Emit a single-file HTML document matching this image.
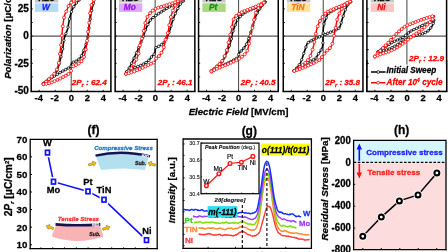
<!DOCTYPE html><html><head><meta charset="utf-8"><title>Figure</title><style>html,body{margin:0;padding:0;background:#fff;overflow:hidden}svg{display:block;filter:blur(0.3px)}</style></head><body><svg width="448" height="252" viewBox="0 0 448 252" font-family="'Liberation Sans', Arial, sans-serif"><defs><clipPath id="clip0"><rect x="31.2" y="-5" width="79.7" height="96.4"/></clipPath><clipPath id="clip1"><rect x="115.15" y="-5" width="79.7" height="96.4"/></clipPath><clipPath id="clip2"><rect x="198.55" y="-5" width="79.7" height="96.4"/></clipPath><clipPath id="clip3"><rect x="283.25" y="-5" width="79.7" height="96.4"/></clipPath><clipPath id="clip4"><rect x="366.9" y="-5" width="79.7" height="96.4"/></clipPath></defs><rect width="448" height="252" fill="#fff"/><g clip-path="url(#clip0)"><line x1="31.2" y1="36.1" x2="110.9" y2="36.1" stroke="#555" stroke-width="1.1" /><line x1="71.2" y1="-2" x2="71.2" y2="91.4" stroke="#555" stroke-width="1.1" /><path d="M43.52,83.43 L43.66,83.34 L43.8,83.25 L43.94,83.17 L44.07,83.08 L44.21,82.99 L44.35,82.9 L44.49,82.81 L44.63,82.72 L44.77,82.63 L44.91,82.53 L45.05,82.44 L45.18,82.34 L45.32,82.25 L45.46,82.15 L45.6,82.06 L45.74,81.96 L45.88,81.86 L46.02,81.76 L46.16,81.66 L46.29,81.56 L46.43,81.46 L46.57,81.36 L46.71,81.26 L46.85,81.16 L46.99,81.06 L47.13,80.95 L47.27,80.85 L47.4,80.74 L47.54,80.64 L47.68,80.53 L47.82,80.42 L47.96,80.32 L48.1,80.21 L48.24,80.1 L48.38,79.99 L48.51,79.88 L48.65,79.77 L48.79,79.66 L48.93,79.55 L49.07,79.44 L49.21,79.33 L49.35,79.22 L49.49,79.1 L49.62,78.99 L49.76,78.88 L49.9,78.77 L50.04,78.66 L50.18,78.55 L50.32,78.44 L50.46,78.33 L50.6,78.22 L50.73,78.11 L50.87,78 L51.01,77.89 L51.15,77.78 L51.29,77.67 L51.43,77.56 L51.57,77.45 L51.71,77.33 L51.84,77.22 L51.98,77.1 L52.12,76.98 L52.26,76.86 L52.4,76.74 L52.54,76.62 L52.68,76.49 L52.82,76.36 L52.95,76.23 L53.09,76.1 L53.23,75.96 L53.37,75.82 L53.51,75.68 L53.65,75.53 L53.79,75.38 L53.93,75.23 L54.06,75.08 L54.2,74.92 L54.34,74.75 L54.48,74.58 L54.62,74.41 L54.76,74.23 L54.9,74.05 L55.04,73.86 L55.17,73.66 L55.31,73.44 L55.45,73.22 L55.59,72.99 L55.73,72.75 L55.87,72.51 L56.01,72.25 L56.15,71.98 L56.28,71.71 L56.42,71.43 L56.56,71.14 L56.7,70.84 L56.84,70.54 L56.98,70.23 L57.12,69.91 L57.26,69.58 L57.39,69.25 L57.53,68.91 L57.67,68.56 L57.81,68.18 L57.95,67.78 L58.09,67.36 L58.23,66.92 L58.37,66.46 L58.5,65.98 L58.64,65.5 L58.78,65 L58.92,64.5 L59.06,64 L59.2,63.49 L59.34,62.98 L59.48,62.48 L59.61,61.98 L59.75,61.48 L59.89,60.97 L60.03,60.45 L60.17,59.93 L60.31,59.4 L60.45,58.86 L60.59,58.31 L60.72,57.74 L60.86,57.17 L61,56.58 L61.14,55.99 L61.28,55.4 L61.42,54.8 L61.56,54.19 L61.7,53.57 L61.83,52.94 L61.97,52.3 L62.11,51.64 L62.25,50.96 L62.39,50.27 L62.53,49.55 L62.67,48.81 L62.81,48.05 L62.94,47.25 L63.08,46.33 L63.22,45.32 L63.36,44.25 L63.5,43.16 L63.64,42.08 L63.78,41.06 L63.92,40.13 L64.05,39.32 L64.19,38.68 L64.33,38.12 L64.47,37.6 L64.61,37.12 L64.75,36.67 L64.89,36.24 L65.03,35.84 L65.16,35.46 L65.3,35.09 L65.44,34.74 L65.58,34.39 L65.72,34.05 L65.86,33.7 L66,33.36 L66.14,33 L66.27,32.64 L66.41,32.26 L66.55,31.88 L66.69,31.53 L66.83,31.2 L66.97,30.86 L67.11,30.51 L67.25,30.14 L67.38,29.74 L67.52,29.3 L67.66,28.79 L67.8,28.19 L67.94,27.51 L68.08,26.76 L68.22,25.96 L68.36,25.14 L68.49,24.31 L68.63,23.5 L68.77,22.73 L68.91,22.02 L69.05,21.32 L69.19,20.62 L69.33,19.93 L69.47,19.23 L69.6,18.55 L69.74,17.89 L69.88,17.24 L70.02,16.63 L70.16,16.04 L70.3,15.48 L70.44,14.97 L70.58,14.47 L70.71,13.99 L70.85,13.52 L70.99,13.07 L71.13,12.63 L71.27,12.2 L71.41,11.79 L71.55,11.39 L71.69,11.01 L71.82,10.64 L71.96,10.29 L72.1,9.95 L72.24,9.62 L72.38,9.31 L72.52,9.01 L72.66,8.72 L72.8,8.44 L72.93,8.17 L73.07,7.9 L73.21,7.64 L73.35,7.39 L73.49,7.15 L73.63,6.91 L73.77,6.68 L73.91,6.45 L74.04,6.23 L74.18,6.01 L74.32,5.8 L74.46,5.59 L74.6,5.39 L74.74,5.19 L74.88,4.99 L75.02,4.79 L75.15,4.6 L75.29,4.41 L75.43,4.22 L75.57,4.03 L75.71,3.85 L75.85,3.66 L75.99,3.48 L76.13,3.31 L76.26,3.13 L76.4,2.96 L76.54,2.79 L76.68,2.62 L76.82,2.45 L76.96,2.29 L77.1,2.12 L77.24,1.96 L77.37,1.81 L77.51,1.65 L77.65,1.5 L77.79,1.35 L77.93,1.2 L78.07,1.05 L78.21,0.91 L78.35,0.77 L78.48,0.63 L78.62,0.49 L78.76,0.35 L78.9,0.22 L79.04,0.09 L79.18,-0.04 L79.32,-0.16 L79.46,-0.29 L79.59,-0.41 L79.73,-0.53 L79.87,-0.66 L80.01,-0.78 L80.15,-0.9 L80.29,-1.01 L80.43,-1.13 L80.57,-1.25 L80.7,-1.36 L80.84,-1.47 L80.98,-1.59 L81.12,-1.7 L81.26,-1.81 L81.4,-1.92 L81.54,-2.03 L81.68,-2.14 L81.81,-2.24 L81.95,-2.35 L82.09,-2.45 L82.23,-2.56 L82.37,-2.66 L82.51,-2.76 L82.65,-2.87 L82.79,-2.97 L82.92,-3.07 L83.06,-3.16 L83.2,-3.26 L83.34,-3.36 L83.48,-3.46 L83.62,-3.55 L83.76,-3.65 L83.9,-3.74 L84.03,-3.83 L84.17,-3.93 L84.31,-4.02 L84.45,-4.11 L84.59,-4.2 L84.73,-4.29 L84.87,-4.38 L85.01,-4.47 L85.14,-4.56 L85.28,-4.64 L85.42,-4.73 L85.56,-4.82 L85.7,-4.9 L85.84,-4.99 L85.98,-5.07 L86.12,-5.15 L86.25,-5.24 L86.39,-5.32 L86.53,-5.4 L86.67,-5.48 L86.81,-5.56 L86.95,-5.64 L87.09,-5.72 L87.23,-5.8 L87.36,-5.88 L87.5,-5.96 L87.64,-6.04 L87.78,-6.12 L87.92,-6.2 L88.06,-6.27 L88.2,-6.35 L88.34,-6.43 L88.47,-6.51 L88.61,-6.58 L88.75,-6.66 L88.89,-6.74 L89.03,-6.81 L89.17,-6.89 L89.31,-6.96 L89.45,-7.04 L89.58,-7.12 L89.72,-7.19 L89.86,-7.26 L90,-7.34 L90.14,-7.41 L90.28,-7.49 L90.42,-7.56 L90.56,-7.63 L90.69,-7.71 L90.83,-7.78 L90.97,-7.85 L91.11,-7.92 L91.25,-7.99 L91.39,-8.06 L91.53,-8.13 L91.67,-8.2 L91.8,-8.27 L91.94,-8.34 L92.08,-8.41 L92.22,-8.48 L92.36,-8.55 L92.5,-8.62 L92.64,-8.68 L92.78,-8.75 L92.91,-8.82 L93.05,-8.88 L93.19,-8.95 L93.33,-9.02 L93.47,-9.08 L93.61,-9.15 L93.75,-9.21 L93.89,-9.27 L94.02,-9.34 L94.16,-9.4 L94.3,-9.46 L94.44,-9.52 L94.58,-9.58 L94.72,-9.65 L94.86,-9.71 L95,-9.77 L95.13,-9.83 L95.27,-9.88 L95.41,-9.94 L95.55,-10 L95.69,-10.06 L95.83,-10.12 L95.97,-10.17 L96.11,-10.23 L96.24,-10.28 L96.38,-10.34 L96.52,-10.39 L96.66,-10.45 L96.8,-10.5 L96.94,-10.55 L97.08,-10.6 L97.22,-10.66 L97.35,-10.71 L97.49,-10.76 L97.63,-10.81 L97.77,-10.86 L97.91,-10.9 L98.05,-10.95 L98.19,-11 L98.33,-11.05 L98.46,-11.09 L98.6,-11.14 L98.74,-11.18 L98.88,-11.23" fill="none" stroke="#000" stroke-width="1.6"/><path d="M43.52,83.43 L43.66,83.32 L43.8,83.21 L43.94,83.1 L44.07,83 L44.21,82.89 L44.35,82.78 L44.49,82.68 L44.63,82.57 L44.77,82.46 L44.91,82.36 L45.05,82.25 L45.18,82.15 L45.32,82.05 L45.46,81.94 L45.6,81.84 L45.74,81.73 L45.88,81.63 L46.02,81.53 L46.16,81.43 L46.29,81.33 L46.43,81.22 L46.57,81.12 L46.71,81.02 L46.85,80.92 L46.99,80.82 L47.13,80.72 L47.27,80.62 L47.4,80.53 L47.54,80.43 L47.68,80.33 L47.82,80.23 L47.96,80.14 L48.1,80.04 L48.24,79.94 L48.38,79.85 L48.51,79.75 L48.65,79.66 L48.79,79.56 L48.93,79.47 L49.07,79.38 L49.21,79.28 L49.35,79.19 L49.49,79.1 L49.62,79.01 L49.76,78.92 L49.9,78.83 L50.04,78.74 L50.18,78.65 L50.32,78.56 L50.46,78.47 L50.6,78.38 L50.73,78.29 L50.87,78.21 L51.01,78.12 L51.15,78.03 L51.29,77.95 L51.43,77.86 L51.57,77.78 L51.71,77.69 L51.84,77.61 L51.98,77.53 L52.12,77.44 L52.26,77.36 L52.4,77.28 L52.54,77.19 L52.68,77.11 L52.82,77.03 L52.95,76.95 L53.09,76.86 L53.23,76.78 L53.37,76.7 L53.51,76.62 L53.65,76.54 L53.79,76.46 L53.93,76.37 L54.06,76.29 L54.2,76.21 L54.34,76.13 L54.48,76.05 L54.62,75.97 L54.76,75.88 L54.9,75.8 L55.04,75.72 L55.17,75.64 L55.31,75.56 L55.45,75.47 L55.59,75.39 L55.73,75.31 L55.87,75.23 L56.01,75.14 L56.15,75.06 L56.28,74.98 L56.42,74.89 L56.56,74.81 L56.7,74.72 L56.84,74.64 L56.98,74.56 L57.12,74.47 L57.26,74.39 L57.39,74.3 L57.53,74.22 L57.67,74.13 L57.81,74.05 L57.95,73.96 L58.09,73.88 L58.23,73.8 L58.37,73.71 L58.5,73.63 L58.64,73.54 L58.78,73.46 L58.92,73.37 L59.06,73.29 L59.2,73.2 L59.34,73.12 L59.48,73.04 L59.61,72.95 L59.75,72.87 L59.89,72.78 L60.03,72.7 L60.17,72.62 L60.31,72.53 L60.45,72.45 L60.59,72.37 L60.72,72.29 L60.86,72.2 L61,72.12 L61.14,72.04 L61.28,71.96 L61.42,71.87 L61.56,71.79 L61.7,71.71 L61.83,71.63 L61.97,71.55 L62.11,71.47 L62.25,71.39 L62.39,71.31 L62.53,71.23 L62.67,71.15 L62.81,71.07 L62.94,70.99 L63.08,70.91 L63.22,70.83 L63.36,70.75 L63.5,70.68 L63.64,70.6 L63.78,70.53 L63.92,70.45 L64.05,70.38 L64.19,70.3 L64.33,70.23 L64.47,70.16 L64.61,70.08 L64.75,70.01 L64.89,69.94 L65.03,69.86 L65.16,69.79 L65.3,69.72 L65.44,69.65 L65.58,69.57 L65.72,69.5 L65.86,69.43 L66,69.36 L66.14,69.28 L66.27,69.21 L66.41,69.14 L66.55,69.06 L66.69,68.99 L66.83,68.92 L66.97,68.84 L67.11,68.77 L67.25,68.69 L67.38,68.62 L67.52,68.54 L67.66,68.46 L67.8,68.39 L67.94,68.31 L68.08,68.23 L68.22,68.15 L68.36,68.07 L68.49,67.99 L68.63,67.91 L68.77,67.83 L68.91,67.74 L69.05,67.67 L69.19,67.6 L69.33,67.55 L69.47,67.5 L69.6,67.45 L69.74,67.39 L69.88,67.34 L70.02,67.28 L70.16,67.21 L70.3,67.12 L70.44,67.02 L70.58,66.91 L70.71,66.77 L70.85,66.61 L70.99,66.42 L71.13,65.79 L71.27,64.28 L71.41,63.67 L71.55,63.49 L71.69,63.32 L71.82,63.17 L71.96,63.02 L72.1,62.89 L72.24,62.77 L72.38,62.66 L72.52,62.56 L72.66,62.47 L72.8,62.38 L72.93,62.3 L73.07,62.23 L73.21,62.17 L73.35,62.11 L73.49,62.05 L73.63,62 L73.77,61.96 L73.91,61.91 L74.04,61.87 L74.18,61.83 L74.32,61.8 L74.46,61.76 L74.6,61.72 L74.74,61.69 L74.88,61.65 L75.02,61.61 L75.15,61.56 L75.29,61.52 L75.43,61.47 L75.57,61.41 L75.71,61.35 L75.85,61.29 L75.99,61.22 L76.13,61.14 L76.26,61.05 L76.4,60.96 L76.54,60.87 L76.68,60.77 L76.82,60.68 L76.96,60.59 L77.1,60.49 L77.24,60.4 L77.37,60.3 L77.51,60.2 L77.65,60.11 L77.79,60 L77.93,59.9 L78.07,59.8 L78.21,59.69 L78.35,59.58 L78.48,59.47 L78.62,59.35 L78.76,59.24 L78.9,59.12 L79.04,58.99 L79.18,58.86 L79.32,58.73 L79.46,58.59 L79.59,58.45 L79.73,58.31 L79.87,58.16 L80.01,58.01 L80.15,57.85 L80.29,57.68 L80.43,57.51 L80.57,57.32 L80.7,57.12 L80.84,56.91 L80.98,56.69 L81.12,56.45 L81.26,56.2 L81.4,55.95 L81.54,55.68 L81.68,55.4 L81.81,55.11 L81.95,54.82 L82.09,54.52 L82.23,54.21 L82.37,53.89 L82.51,53.56 L82.65,53.23 L82.79,52.89 L82.92,52.55 L83.06,52.21 L83.2,51.85 L83.34,51.5 L83.48,51.14 L83.62,50.78 L83.76,50.42 L83.9,50.06 L84.03,49.69 L84.17,49.33 L84.31,48.96 L84.45,48.6 L84.59,48.23 L84.73,47.87 L84.87,47.5 L85.01,47.13 L85.14,46.76 L85.28,46.38 L85.42,45.99 L85.56,45.6 L85.7,45.2 L85.84,44.78 L85.98,44.36 L86.12,43.92 L86.25,43.48 L86.39,43.01 L86.53,42.53 L86.67,42.03 L86.81,41.52 L86.95,40.98 L87.09,40.43 L87.23,39.85 L87.36,39.25 L87.5,38.62 L87.64,37.97 L87.78,37.21 L87.92,36.35 L88.06,35.4 L88.2,34.37 L88.34,33.28 L88.47,32.15 L88.61,30.98 L88.75,29.79 L88.89,28.6 L89.03,27.43 L89.17,26.28 L89.31,25.17 L89.45,24.13 L89.58,23.15 L89.72,22.23 L89.86,21.31 L90,20.39 L90.14,19.48 L90.28,18.58 L90.42,17.68 L90.56,16.8 L90.69,15.94 L90.83,15.09 L90.97,14.26 L91.11,13.45 L91.25,12.66 L91.39,11.9 L91.53,11.17 L91.67,10.46 L91.8,9.79 L91.94,9.15 L92.08,8.55 L92.22,7.96 L92.36,7.39 L92.5,6.83 L92.64,6.29 L92.78,5.76 L92.91,5.25 L93.05,4.75 L93.19,4.26 L93.33,3.78 L93.47,3.31 L93.61,2.85 L93.75,2.4 L93.89,1.95 L94.02,1.52 L94.16,1.09 L94.3,0.67 L94.44,0.25 L94.58,-0.16 L94.72,-0.57 L94.86,-0.98 L95,-1.38 L95.13,-1.79 L95.27,-2.19 L95.41,-2.59 L95.55,-2.99 L95.69,-3.38 L95.83,-3.77 L95.97,-4.15 L96.11,-4.53 L96.24,-4.91 L96.38,-5.28 L96.52,-5.65 L96.66,-6.02 L96.8,-6.38 L96.94,-6.74 L97.08,-7.09 L97.22,-7.44 L97.35,-7.78 L97.49,-8.12 L97.63,-8.46 L97.77,-8.79 L97.91,-9.11 L98.05,-9.43 L98.19,-9.74 L98.33,-10.05 L98.46,-10.35 L98.6,-10.65 L98.74,-10.94 L98.88,-11.23" fill="none" stroke="#000" stroke-width="1.6"/><circle cx="43.52" cy="83.43" r="1.25" fill="#fff" stroke="#000" stroke-width="0.75"/><circle cx="46.27" cy="81.58" r="1.25" fill="#fff" stroke="#000" stroke-width="0.75"/><circle cx="49.01" cy="79.49" r="1.25" fill="#fff" stroke="#000" stroke-width="0.75"/><circle cx="51.73" cy="77.31" r="1.25" fill="#fff" stroke="#000" stroke-width="0.75"/><circle cx="54.43" cy="74.65" r="1.25" fill="#fff" stroke="#000" stroke-width="0.75"/><circle cx="56.93" cy="70.33" r="1.25" fill="#fff" stroke="#000" stroke-width="0.75"/><circle cx="59.06" cy="64" r="1.25" fill="#fff" stroke="#000" stroke-width="0.75"/><circle cx="60.95" cy="56.79" r="1.25" fill="#fff" stroke="#000" stroke-width="0.75"/><circle cx="62.64" cy="48.97" r="1.25" fill="#fff" stroke="#000" stroke-width="0.75"/><circle cx="63.9" cy="40.23" r="1.25" fill="#fff" stroke="#000" stroke-width="0.75"/><circle cx="65.92" cy="33.56" r="1.25" fill="#fff" stroke="#000" stroke-width="0.75"/><circle cx="68.01" cy="27.15" r="1.25" fill="#fff" stroke="#000" stroke-width="0.75"/><circle cx="69.53" cy="18.93" r="1.25" fill="#fff" stroke="#000" stroke-width="0.75"/><circle cx="71.42" cy="11.76" r="1.25" fill="#fff" stroke="#000" stroke-width="0.75"/><circle cx="73.8" cy="6.63" r="1.25" fill="#fff" stroke="#000" stroke-width="0.75"/><circle cx="76.39" cy="2.97" r="1.25" fill="#fff" stroke="#000" stroke-width="0.75"/><circle cx="79.07" cy="0.07" r="1.25" fill="#fff" stroke="#000" stroke-width="0.75"/><circle cx="81.79" cy="-2.22" r="1.25" fill="#fff" stroke="#000" stroke-width="0.75"/><circle cx="84.53" cy="-4.16" r="1.25" fill="#fff" stroke="#000" stroke-width="0.75"/><circle cx="87.29" cy="-5.84" r="1.25" fill="#fff" stroke="#000" stroke-width="0.75"/><circle cx="90.06" cy="-7.37" r="1.25" fill="#fff" stroke="#000" stroke-width="0.75"/><circle cx="92.83" cy="-8.78" r="1.25" fill="#fff" stroke="#000" stroke-width="0.75"/><circle cx="95.61" cy="-10.02" r="1.25" fill="#fff" stroke="#000" stroke-width="0.75"/><circle cx="98.39" cy="-11.07" r="1.25" fill="#fff" stroke="#000" stroke-width="0.75"/><circle cx="43.52" cy="83.43" r="1.25" fill="#fff" stroke="#000" stroke-width="0.75"/><circle cx="46.26" cy="81.35" r="1.25" fill="#fff" stroke="#000" stroke-width="0.75"/><circle cx="49" cy="79.42" r="1.25" fill="#fff" stroke="#000" stroke-width="0.75"/><circle cx="51.76" cy="77.66" r="1.25" fill="#fff" stroke="#000" stroke-width="0.75"/><circle cx="54.52" cy="76.03" r="1.25" fill="#fff" stroke="#000" stroke-width="0.75"/><circle cx="57.28" cy="74.37" r="1.25" fill="#fff" stroke="#000" stroke-width="0.75"/><circle cx="60.04" cy="72.7" r="1.25" fill="#fff" stroke="#000" stroke-width="0.75"/><circle cx="62.8" cy="71.07" r="1.25" fill="#fff" stroke="#000" stroke-width="0.75"/><circle cx="65.56" cy="69.58" r="1.25" fill="#fff" stroke="#000" stroke-width="0.75"/><circle cx="68.33" cy="68.08" r="1.25" fill="#fff" stroke="#000" stroke-width="0.75"/><circle cx="71.05" cy="66.17" r="1.25" fill="#fff" stroke="#000" stroke-width="0.75"/><circle cx="73.34" cy="62.11" r="1.25" fill="#fff" stroke="#000" stroke-width="0.75"/><circle cx="76.12" cy="61.14" r="1.25" fill="#fff" stroke="#000" stroke-width="0.75"/><circle cx="78.87" cy="59.15" r="1.25" fill="#fff" stroke="#000" stroke-width="0.75"/><circle cx="81.49" cy="55.78" r="1.25" fill="#fff" stroke="#000" stroke-width="0.75"/><circle cx="83.8" cy="50.3" r="1.25" fill="#fff" stroke="#000" stroke-width="0.75"/><circle cx="86.01" cy="44.26" r="1.25" fill="#fff" stroke="#000" stroke-width="0.75"/><circle cx="87.83" cy="36.88" r="1.25" fill="#fff" stroke="#000" stroke-width="0.75"/><circle cx="88.97" cy="27.93" r="1.25" fill="#fff" stroke="#000" stroke-width="0.75"/><circle cx="90.19" cy="19.12" r="1.25" fill="#fff" stroke="#000" stroke-width="0.75"/><circle cx="91.62" cy="10.69" r="1.25" fill="#fff" stroke="#000" stroke-width="0.75"/><circle cx="93.46" cy="3.33" r="1.25" fill="#fff" stroke="#000" stroke-width="0.75"/><circle cx="95.58" cy="-3.07" r="1.25" fill="#fff" stroke="#000" stroke-width="0.75"/><circle cx="97.83" cy="-8.92" r="1.25" fill="#fff" stroke="#000" stroke-width="0.75"/><path d="M43.52,84.19 L43.66,84.07 L43.8,83.94 L43.94,83.82 L44.07,83.69 L44.21,83.56 L44.35,83.44 L44.49,83.31 L44.63,83.18 L44.77,83.06 L44.91,82.93 L45.05,82.8 L45.18,82.67 L45.32,82.55 L45.46,82.42 L45.6,82.29 L45.74,82.16 L45.88,82.03 L46.02,81.9 L46.16,81.77 L46.29,81.64 L46.43,81.51 L46.57,81.38 L46.71,81.25 L46.85,81.12 L46.99,80.98 L47.13,80.85 L47.27,80.72 L47.4,80.59 L47.54,80.45 L47.68,80.32 L47.82,80.19 L47.96,80.05 L48.1,79.92 L48.24,79.79 L48.38,79.65 L48.51,79.52 L48.65,79.38 L48.79,79.25 L48.93,79.11 L49.07,78.97 L49.21,78.84 L49.35,78.7 L49.49,78.57 L49.62,78.43 L49.76,78.29 L49.9,78.16 L50.04,78.03 L50.18,77.9 L50.32,77.77 L50.46,77.64 L50.6,77.52 L50.73,77.39 L50.87,77.27 L51.01,77.14 L51.15,77.01 L51.29,76.89 L51.43,76.76 L51.57,76.64 L51.71,76.51 L51.84,76.38 L51.98,76.25 L52.12,76.12 L52.26,75.99 L52.4,75.85 L52.54,75.72 L52.68,75.58 L52.82,75.44 L52.95,75.3 L53.09,75.15 L53.23,75.01 L53.37,74.86 L53.51,74.7 L53.65,74.55 L53.79,74.38 L53.93,74.22 L54.06,74.05 L54.2,73.88 L54.34,73.71 L54.48,73.52 L54.62,73.34 L54.76,73.15 L54.9,72.95 L55.04,72.75 L55.17,72.55 L55.31,72.33 L55.45,72.11 L55.59,71.89 L55.73,71.65 L55.87,71.41 L56.01,71.15 L56.15,70.89 L56.28,70.62 L56.42,70.34 L56.56,70.06 L56.7,69.76 L56.84,69.45 L56.98,69.12 L57.12,68.79 L57.26,68.45 L57.39,68.09 L57.53,67.72 L57.67,67.34 L57.81,66.94 L57.95,66.52 L58.09,66.07 L58.23,65.6 L58.37,65.09 L58.5,64.54 L58.64,63.96 L58.78,63.33 L58.92,62.65 L59.06,61.92 L59.2,61.13 L59.34,60.16 L59.48,58.91 L59.61,57.47 L59.75,55.93 L59.89,54.37 L60.03,52.89 L60.17,51.57 L60.31,50.41 L60.45,49.33 L60.59,48.31 L60.72,47.33 L60.86,46.35 L61,45.34 L61.14,44.28 L61.28,43.14 L61.42,41.89 L61.56,40.49 L61.7,38.75 L61.83,36.73 L61.97,34.61 L62.11,32.56 L62.25,30.76 L62.39,29.33 L62.53,28.06 L62.67,26.9 L62.81,25.82 L62.94,24.81 L63.08,23.84 L63.22,22.89 L63.36,21.94 L63.5,20.99 L63.64,20.06 L63.78,19.17 L63.92,18.32 L64.05,17.54 L64.19,16.83 L64.33,16.23 L64.47,15.72 L64.61,15.27 L64.75,14.84 L64.89,14.45 L65.03,14.08 L65.16,13.74 L65.3,13.42 L65.44,13.11 L65.58,12.81 L65.72,12.53 L65.86,12.24 L66,11.96 L66.14,11.68 L66.27,11.38 L66.41,11.08 L66.55,10.77 L66.69,10.44 L66.83,10.1 L66.97,9.76 L67.11,9.41 L67.25,9.06 L67.38,8.71 L67.52,8.36 L67.66,8.01 L67.8,7.67 L67.94,7.33 L68.08,7.01 L68.22,6.69 L68.36,6.38 L68.49,6.09 L68.63,5.81 L68.77,5.55 L68.91,5.31 L69.05,5.09 L69.19,4.89 L69.33,4.69 L69.47,4.51 L69.6,4.32 L69.74,4.14 L69.88,3.97 L70.02,3.8 L70.16,3.64 L70.3,3.48 L70.44,3.32 L70.58,3.17 L70.71,3.03 L70.85,2.89 L70.99,2.75 L71.13,2.62 L71.27,2.5 L71.41,2.38 L71.55,2.26 L71.69,2.16 L71.82,2.05 L71.96,1.95 L72.1,1.86 L72.24,1.77 L72.38,1.68 L72.52,1.6 L72.66,1.53 L72.8,1.45 L72.93,1.38 L73.07,1.32 L73.21,1.25 L73.35,1.19 L73.49,1.13 L73.63,1.07 L73.77,1.01 L73.91,0.96 L74.04,0.91 L74.18,0.85 L74.32,0.8 L74.46,0.75 L74.6,0.7 L74.74,0.66 L74.88,0.61 L75.02,0.56 L75.15,0.51 L75.29,0.46 L75.43,0.41 L75.57,0.37 L75.71,0.31 L75.85,0.26 L75.99,0.21 L76.13,0.16 L76.26,0.1 L76.4,0.04 L76.54,-0.01 L76.68,-0.08 L76.82,-0.14 L76.96,-0.2 L77.1,-0.27 L77.24,-0.34 L77.37,-0.41 L77.51,-0.47 L77.65,-0.54 L77.79,-0.61 L77.93,-0.68 L78.07,-0.76 L78.21,-0.83 L78.35,-0.9 L78.48,-0.97 L78.62,-1.05 L78.76,-1.12 L78.9,-1.2 L79.04,-1.27 L79.18,-1.35 L79.32,-1.43 L79.46,-1.5 L79.59,-1.58 L79.73,-1.66 L79.87,-1.74 L80.01,-1.81 L80.15,-1.89 L80.29,-1.97 L80.43,-2.05 L80.57,-2.13 L80.7,-2.21 L80.84,-2.29 L80.98,-2.37 L81.12,-2.44 L81.26,-2.52 L81.4,-2.6 L81.54,-2.68 L81.68,-2.76 L81.81,-2.84 L81.95,-2.92 L82.09,-3 L82.23,-3.07 L82.37,-3.15 L82.51,-3.23 L82.65,-3.31 L82.79,-3.38 L82.92,-3.46 L83.06,-3.54 L83.2,-3.61 L83.34,-3.69 L83.48,-3.76 L83.62,-3.84 L83.76,-3.92 L83.9,-3.99 L84.03,-4.07 L84.17,-4.14 L84.31,-4.22 L84.45,-4.29 L84.59,-4.37 L84.73,-4.45 L84.87,-4.52 L85.01,-4.6 L85.14,-4.67 L85.28,-4.75 L85.42,-4.83 L85.56,-4.9 L85.7,-4.98 L85.84,-5.05 L85.98,-5.13 L86.12,-5.2 L86.25,-5.28 L86.39,-5.36 L86.53,-5.43 L86.67,-5.51 L86.81,-5.58 L86.95,-5.66 L87.09,-5.74 L87.23,-5.81 L87.36,-5.89 L87.5,-5.96 L87.64,-6.04 L87.78,-6.12 L87.92,-6.19 L88.06,-6.27 L88.2,-6.34 L88.34,-6.42 L88.47,-6.49 L88.61,-6.57 L88.75,-6.64 L88.89,-6.72 L89.03,-6.79 L89.17,-6.87 L89.31,-6.95 L89.45,-7.02 L89.58,-7.1 L89.72,-7.17 L89.86,-7.25 L90,-7.32 L90.14,-7.39 L90.28,-7.47 L90.42,-7.54 L90.56,-7.62 L90.69,-7.69 L90.83,-7.77 L90.97,-7.84 L91.11,-7.92 L91.25,-7.99 L91.39,-8.06 L91.53,-8.14 L91.67,-8.21 L91.8,-8.29 L91.94,-8.36 L92.08,-8.43 L92.22,-8.51 L92.36,-8.58 L92.5,-8.65 L92.64,-8.73 L92.78,-8.8 L92.91,-8.88 L93.05,-8.95 L93.19,-9.02 L93.33,-9.1 L93.47,-9.17 L93.61,-9.24 L93.75,-9.32 L93.89,-9.39 L94.02,-9.46 L94.16,-9.53 L94.3,-9.61 L94.44,-9.68 L94.58,-9.75 L94.72,-9.83 L94.86,-9.9 L95,-9.97 L95.13,-10.04 L95.27,-10.12 L95.41,-10.19 L95.55,-10.26 L95.69,-10.33 L95.83,-10.41 L95.97,-10.48 L96.11,-10.55 L96.24,-10.62 L96.38,-10.7 L96.52,-10.77 L96.66,-10.84 L96.8,-10.91 L96.94,-10.99 L97.08,-11.06 L97.22,-11.13 L97.35,-11.2 L97.49,-11.27 L97.63,-11.35 L97.77,-11.42 L97.91,-11.49 L98.05,-11.56 L98.19,-11.63 L98.33,-11.7 L98.46,-11.78 L98.6,-11.85 L98.74,-11.92 L98.88,-11.99" fill="none" stroke="#ff0000" stroke-width="1.4"/><path d="M43.52,84.19 L43.66,84.18 L43.8,84.17 L43.94,84.17 L44.07,84.16 L44.21,84.14 L44.35,84.13 L44.49,84.12 L44.63,84.11 L44.77,84.09 L44.91,84.08 L45.05,84.06 L45.18,84.04 L45.32,84.02 L45.46,84.01 L45.6,83.99 L45.74,83.97 L45.88,83.94 L46.02,83.92 L46.16,83.9 L46.29,83.88 L46.43,83.85 L46.57,83.83 L46.71,83.81 L46.85,83.78 L46.99,83.75 L47.13,83.73 L47.27,83.7 L47.4,83.67 L47.54,83.64 L47.68,83.62 L47.82,83.59 L47.96,83.56 L48.1,83.53 L48.24,83.5 L48.38,83.47 L48.51,83.44 L48.65,83.41 L48.79,83.38 L48.93,83.35 L49.07,83.31 L49.21,83.28 L49.35,83.25 L49.49,83.22 L49.62,83.19 L49.76,83.15 L49.9,83.12 L50.04,83.08 L50.18,83.04 L50.32,83 L50.46,82.95 L50.6,82.91 L50.73,82.86 L50.87,82.82 L51.01,82.77 L51.15,82.72 L51.29,82.67 L51.43,82.62 L51.57,82.56 L51.71,82.51 L51.84,82.45 L51.98,82.4 L52.12,82.34 L52.26,82.28 L52.4,82.22 L52.54,82.16 L52.68,82.1 L52.82,82.04 L52.95,81.98 L53.09,81.92 L53.23,81.86 L53.37,81.79 L53.51,81.73 L53.65,81.66 L53.79,81.6 L53.93,81.53 L54.06,81.47 L54.2,81.4 L54.34,81.34 L54.48,81.27 L54.62,81.21 L54.76,81.14 L54.9,81.08 L55.04,81.01 L55.17,80.95 L55.31,80.88 L55.45,80.82 L55.59,80.75 L55.73,80.69 L55.87,80.62 L56.01,80.56 L56.15,80.5 L56.28,80.43 L56.42,80.37 L56.56,80.31 L56.7,80.24 L56.84,80.18 L56.98,80.12 L57.12,80.05 L57.26,79.99 L57.39,79.92 L57.53,79.86 L57.67,79.79 L57.81,79.72 L57.95,79.66 L58.09,79.59 L58.23,79.52 L58.37,79.46 L58.5,79.39 L58.64,79.32 L58.78,79.25 L58.92,79.18 L59.06,79.11 L59.2,79.05 L59.34,78.98 L59.48,78.91 L59.61,78.84 L59.75,78.77 L59.89,78.7 L60.03,78.62 L60.17,78.55 L60.31,78.48 L60.45,78.41 L60.59,78.34 L60.72,78.27 L60.86,78.2 L61,78.12 L61.14,78.05 L61.28,77.98 L61.42,77.9 L61.56,77.83 L61.7,77.76 L61.83,77.68 L61.97,77.61 L62.11,77.53 L62.25,77.46 L62.39,77.38 L62.53,77.31 L62.67,77.23 L62.81,77.16 L62.94,77.08 L63.08,77.01 L63.22,76.93 L63.36,76.86 L63.5,76.79 L63.64,76.72 L63.78,76.65 L63.92,76.58 L64.05,76.5 L64.19,76.44 L64.33,76.37 L64.47,76.3 L64.61,76.23 L64.75,76.16 L64.89,76.09 L65.03,76.02 L65.16,75.95 L65.3,75.88 L65.44,75.81 L65.58,75.74 L65.72,75.67 L65.86,75.59 L66,75.52 L66.14,75.45 L66.27,75.37 L66.41,75.3 L66.55,75.22 L66.69,75.14 L66.83,75.06 L66.97,74.98 L67.11,74.9 L67.25,74.82 L67.38,74.73 L67.52,74.64 L67.66,74.56 L67.8,74.47 L67.94,74.37 L68.08,74.28 L68.22,74.18 L68.36,74.08 L68.49,73.98 L68.63,73.88 L68.77,73.78 L68.91,73.67 L69.05,73.56 L69.19,73.44 L69.33,73.33 L69.47,73.21 L69.6,73.09 L69.74,72.97 L69.88,72.87 L70.02,72.76 L70.16,72.65 L70.3,72.52 L70.44,72.37 L70.58,72.19 L70.71,71.97 L70.85,71.7 L70.99,71.37 L71.13,70.51 L71.27,68.64 L71.41,67.9 L71.55,67.7 L71.69,67.51 L71.82,67.34 L71.96,67.19 L72.1,67.05 L72.24,66.93 L72.38,66.82 L72.52,66.72 L72.66,66.63 L72.8,66.56 L72.93,66.49 L73.07,66.42 L73.21,66.37 L73.35,66.32 L73.49,66.27 L73.63,66.22 L73.77,66.18 L73.91,66.13 L74.04,66.08 L74.18,66.03 L74.32,65.98 L74.46,65.92 L74.6,65.85 L74.74,65.78 L74.88,65.7 L75.02,65.61 L75.15,65.52 L75.29,65.44 L75.43,65.36 L75.57,65.27 L75.71,65.19 L75.85,65.11 L75.99,65.04 L76.13,64.96 L76.26,64.88 L76.4,64.8 L76.54,64.73 L76.68,64.65 L76.82,64.58 L76.96,64.5 L77.1,64.42 L77.24,64.35 L77.37,64.27 L77.51,64.19 L77.65,64.12 L77.79,64.04 L77.93,63.96 L78.07,63.88 L78.21,63.8 L78.35,63.71 L78.48,63.63 L78.62,63.54 L78.76,63.45 L78.9,63.37 L79.04,63.27 L79.18,63.18 L79.32,63.09 L79.46,62.99 L79.59,62.89 L79.73,62.79 L79.87,62.68 L80.01,62.57 L80.15,62.46 L80.29,62.35 L80.43,62.23 L80.57,62.11 L80.7,61.99 L80.84,61.87 L80.98,61.75 L81.12,61.62 L81.26,61.49 L81.4,61.35 L81.54,61.21 L81.68,61.06 L81.81,60.91 L81.95,60.75 L82.09,60.59 L82.23,60.41 L82.37,60.23 L82.51,60.04 L82.65,59.84 L82.79,59.63 L82.92,59.42 L83.06,59.19 L83.2,58.95 L83.34,58.68 L83.48,58.38 L83.62,58.04 L83.76,57.67 L83.9,57.27 L84.03,56.84 L84.17,56.39 L84.31,55.91 L84.45,55.41 L84.59,54.89 L84.73,54.35 L84.87,53.8 L85.01,53.23 L85.14,52.66 L85.28,52.06 L85.42,51.43 L85.56,50.76 L85.7,50.05 L85.84,49.3 L85.98,48.52 L86.12,47.7 L86.25,46.85 L86.39,45.97 L86.53,45.07 L86.67,44.14 L86.81,43.18 L86.95,42.2 L87.09,41.2 L87.23,40.1 L87.36,38.9 L87.5,37.64 L87.64,36.33 L87.78,34.99 L87.92,33.66 L88.06,32.34 L88.2,31.08 L88.34,29.88 L88.47,28.76 L88.61,27.69 L88.75,26.64 L88.89,25.58 L89.03,24.49 L89.17,23.33 L89.31,22.04 L89.45,20.58 L89.58,18.98 L89.72,17.3 L89.86,15.59 L90,13.9 L90.14,12.28 L90.28,10.79 L90.42,9.48 L90.56,8.4 L90.69,7.6 L90.83,7.03 L90.97,6.5 L91.11,6.01 L91.25,5.56 L91.39,5.13 L91.53,4.74 L91.67,4.37 L91.8,4.03 L91.94,3.71 L92.08,3.4 L92.22,3.11 L92.36,2.84 L92.5,2.57 L92.64,2.32 L92.78,2.07 L92.91,1.82 L93.05,1.57 L93.19,1.32 L93.33,1.07 L93.47,0.81 L93.61,0.53 L93.75,0.25 L93.89,-0.05 L94.02,-0.36 L94.16,-0.67 L94.3,-0.97 L94.44,-1.27 L94.58,-1.56 L94.72,-1.85 L94.86,-2.14 L95,-2.42 L95.13,-2.71 L95.27,-2.99 L95.41,-3.28 L95.55,-3.57 L95.69,-3.86 L95.83,-4.15 L95.97,-4.44 L96.11,-4.74 L96.24,-5.05 L96.38,-5.36 L96.52,-5.67 L96.66,-6 L96.8,-6.33 L96.94,-6.67 L97.08,-7.01 L97.22,-7.37 L97.35,-7.72 L97.49,-8.09 L97.63,-8.46 L97.77,-8.83 L97.91,-9.21 L98.05,-9.59 L98.19,-9.98 L98.33,-10.38 L98.46,-10.77 L98.6,-11.18 L98.74,-11.58 L98.88,-11.99" fill="none" stroke="#ff0000" stroke-width="1.4"/><circle cx="43.52" cy="84.19" r="1.5" fill="#fff" stroke="#ff0000" stroke-width="0.8"/><circle cx="46.23" cy="81.7" r="1.5" fill="#fff" stroke="#ff0000" stroke-width="0.8"/><circle cx="48.93" cy="79.11" r="1.5" fill="#fff" stroke="#ff0000" stroke-width="0.8"/><circle cx="51.63" cy="76.57" r="1.5" fill="#fff" stroke="#ff0000" stroke-width="0.8"/><circle cx="54.31" cy="73.74" r="1.5" fill="#fff" stroke="#ff0000" stroke-width="0.8"/><circle cx="56.83" cy="69.48" r="1.5" fill="#fff" stroke="#ff0000" stroke-width="0.8"/><circle cx="58.87" cy="62.88" r="1.5" fill="#fff" stroke="#ff0000" stroke-width="0.8"/><circle cx="59.94" cy="53.88" r="1.5" fill="#fff" stroke="#ff0000" stroke-width="0.8"/><circle cx="61.06" cy="44.91" r="1.5" fill="#fff" stroke="#ff0000" stroke-width="0.8"/><circle cx="61.91" cy="35.6" r="1.5" fill="#fff" stroke="#ff0000" stroke-width="0.8"/><circle cx="62.75" cy="26.27" r="1.5" fill="#fff" stroke="#ff0000" stroke-width="0.8"/><circle cx="64.04" cy="17.59" r="1.5" fill="#fff" stroke="#ff0000" stroke-width="0.8"/><circle cx="66.21" cy="11.53" r="1.5" fill="#fff" stroke="#ff0000" stroke-width="0.8"/><circle cx="68.52" cy="6.03" r="1.5" fill="#fff" stroke="#ff0000" stroke-width="0.8"/><circle cx="71.14" cy="2.62" r="1.5" fill="#fff" stroke="#ff0000" stroke-width="0.8"/><circle cx="73.9" cy="0.96" r="1.5" fill="#fff" stroke="#ff0000" stroke-width="0.8"/><circle cx="76.68" cy="-0.08" r="1.5" fill="#fff" stroke="#ff0000" stroke-width="0.8"/><circle cx="79.45" cy="-1.5" r="1.5" fill="#fff" stroke="#ff0000" stroke-width="0.8"/><circle cx="82.21" cy="-3.07" r="1.5" fill="#fff" stroke="#ff0000" stroke-width="0.8"/><circle cx="84.98" cy="-4.58" r="1.5" fill="#fff" stroke="#ff0000" stroke-width="0.8"/><circle cx="87.75" cy="-6.1" r="1.5" fill="#fff" stroke="#ff0000" stroke-width="0.8"/><circle cx="90.51" cy="-7.6" r="1.5" fill="#fff" stroke="#ff0000" stroke-width="0.8"/><circle cx="93.28" cy="-9.07" r="1.5" fill="#fff" stroke="#ff0000" stroke-width="0.8"/><circle cx="96.05" cy="-10.52" r="1.5" fill="#fff" stroke="#ff0000" stroke-width="0.8"/><circle cx="98.82" cy="-11.96" r="1.5" fill="#fff" stroke="#ff0000" stroke-width="0.8"/><circle cx="43.52" cy="84.19" r="1.5" fill="#fff" stroke="#ff0000" stroke-width="0.8"/><circle cx="46.32" cy="83.87" r="1.5" fill="#fff" stroke="#ff0000" stroke-width="0.8"/><circle cx="49.11" cy="83.3" r="1.5" fill="#fff" stroke="#ff0000" stroke-width="0.8"/><circle cx="51.9" cy="82.43" r="1.5" fill="#fff" stroke="#ff0000" stroke-width="0.8"/><circle cx="54.68" cy="81.18" r="1.5" fill="#fff" stroke="#ff0000" stroke-width="0.8"/><circle cx="57.45" cy="79.89" r="1.5" fill="#fff" stroke="#ff0000" stroke-width="0.8"/><circle cx="60.23" cy="78.52" r="1.5" fill="#fff" stroke="#ff0000" stroke-width="0.8"/><circle cx="63" cy="77.05" r="1.5" fill="#fff" stroke="#ff0000" stroke-width="0.8"/><circle cx="65.77" cy="75.64" r="1.5" fill="#fff" stroke="#ff0000" stroke-width="0.8"/><circle cx="68.52" cy="73.96" r="1.5" fill="#fff" stroke="#ff0000" stroke-width="0.8"/><circle cx="71.09" cy="70.74" r="1.5" fill="#fff" stroke="#ff0000" stroke-width="0.8"/><circle cx="73.27" cy="66.35" r="1.5" fill="#fff" stroke="#ff0000" stroke-width="0.8"/><circle cx="76.04" cy="65.01" r="1.5" fill="#fff" stroke="#ff0000" stroke-width="0.8"/><circle cx="78.8" cy="63.43" r="1.5" fill="#fff" stroke="#ff0000" stroke-width="0.8"/><circle cx="81.53" cy="61.22" r="1.5" fill="#fff" stroke="#ff0000" stroke-width="0.8"/><circle cx="84.02" cy="56.9" r="1.5" fill="#fff" stroke="#ff0000" stroke-width="0.8"/><circle cx="85.81" cy="49.42" r="1.5" fill="#fff" stroke="#ff0000" stroke-width="0.8"/><circle cx="87.14" cy="40.79" r="1.5" fill="#fff" stroke="#ff0000" stroke-width="0.8"/><circle cx="88.13" cy="31.64" r="1.5" fill="#fff" stroke="#ff0000" stroke-width="0.8"/><circle cx="89.24" cy="22.64" r="1.5" fill="#fff" stroke="#ff0000" stroke-width="0.8"/><circle cx="90.05" cy="13.26" r="1.5" fill="#fff" stroke="#ff0000" stroke-width="0.8"/><circle cx="91.44" cy="4.99" r="1.5" fill="#fff" stroke="#ff0000" stroke-width="0.8"/><circle cx="93.85" cy="0.03" r="1.5" fill="#fff" stroke="#ff0000" stroke-width="0.8"/><circle cx="96.24" cy="-5.04" r="1.5" fill="#fff" stroke="#ff0000" stroke-width="0.8"/><circle cx="98.49" cy="-10.86" r="1.5" fill="#fff" stroke="#ff0000" stroke-width="0.8"/></g><line x1="31.2" y1="-2" x2="31.2" y2="91.4" stroke="#000" stroke-width="1.5" /><line x1="110.9" y1="-2" x2="110.9" y2="91.4" stroke="#000" stroke-width="1.5" /><line x1="30.45" y1="91.4" x2="111.65" y2="91.4" stroke="#000" stroke-width="1.5" /><line x1="31.2" y1="8.9" x2="32.8" y2="8.9" stroke="#000" stroke-width="0.9" /><line x1="31.2" y1="22.5" x2="32.8" y2="22.5" stroke="#000" stroke-width="0.9" /><line x1="31.2" y1="36.1" x2="32.8" y2="36.1" stroke="#000" stroke-width="0.9" /><line x1="31.2" y1="49.7" x2="32.8" y2="49.7" stroke="#000" stroke-width="0.9" /><line x1="31.2" y1="63.3" x2="32.8" y2="63.3" stroke="#000" stroke-width="0.9" /><line x1="31.2" y1="76.9" x2="32.8" y2="76.9" stroke="#000" stroke-width="0.9" /><line x1="39.2" y1="91.4" x2="39.2" y2="89.8" stroke="#000" stroke-width="0.9" /><line x1="55.2" y1="91.4" x2="55.2" y2="89.8" stroke="#000" stroke-width="0.9" /><line x1="71.2" y1="91.4" x2="71.2" y2="89.8" stroke="#000" stroke-width="0.9" /><line x1="87.2" y1="91.4" x2="87.2" y2="89.8" stroke="#000" stroke-width="0.9" /><line x1="103.2" y1="91.4" x2="103.2" y2="89.8" stroke="#000" stroke-width="0.9" /><text x="38.7" y="101.1" font-size="9.3" text-anchor="middle" font-weight="bold" font-style="normal" fill="#000" stroke="#000" stroke-width="0.28" stroke-linejoin="round" >-4</text><text x="54.7" y="101.1" font-size="9.3" text-anchor="middle" font-weight="bold" font-style="normal" fill="#000" stroke="#000" stroke-width="0.28" stroke-linejoin="round" >-2</text><text x="71.3" y="101.1" font-size="9.3" text-anchor="middle" font-weight="bold" font-style="normal" fill="#000" stroke="#000" stroke-width="0.28" stroke-linejoin="round" >0</text><text x="87.3" y="101.1" font-size="9.3" text-anchor="middle" font-weight="bold" font-style="normal" fill="#000" stroke="#000" stroke-width="0.28" stroke-linejoin="round" >2</text><text x="103.3" y="101.1" font-size="9.3" text-anchor="middle" font-weight="bold" font-style="normal" fill="#000" stroke="#000" stroke-width="0.28" stroke-linejoin="round" >4</text><rect x="35" y="-8" width="23.3" height="10.5" fill="#c8c8c8" /><text x="46.6" y="1.3" font-size="8" text-anchor="middle" font-weight="bold" font-style="normal" fill="#000" stroke="#000" stroke-width="0.28" stroke-linejoin="round" >HZO</text><rect x="35" y="3.3" width="23.3" height="8.6" fill="#b4dcf8" /><text x="45.8" y="10" font-size="8.3" text-anchor="middle" font-weight="bold" font-style="italic" fill="#1a1aff" stroke="#1a1aff" stroke-width="0.28" stroke-linejoin="round" >W</text><g clip-path="url(#clip1)"><line x1="115.15" y1="36.1" x2="194.85" y2="36.1" stroke="#555" stroke-width="1.1" /><line x1="155.15" y1="-2" x2="155.15" y2="91.4" stroke="#555" stroke-width="1.1" /><path d="M126.67,71.79 L126.81,71.59 L126.96,71.4 L127.1,71.2 L127.24,71 L127.38,70.8 L127.53,70.59 L127.67,70.38 L127.81,70.17 L127.95,69.96 L128.1,69.74 L128.24,69.52 L128.38,69.29 L128.53,69.06 L128.67,68.83 L128.81,68.6 L128.95,68.36 L129.1,68.12 L129.24,67.88 L129.38,67.64 L129.53,67.39 L129.67,67.13 L129.81,66.87 L129.95,66.61 L130.1,66.34 L130.24,66.07 L130.38,65.79 L130.52,65.52 L130.67,65.23 L130.81,64.95 L130.95,64.66 L131.1,64.37 L131.24,64.08 L131.38,63.79 L131.52,63.49 L131.67,63.19 L131.81,62.89 L131.95,62.59 L132.09,62.29 L132.24,61.99 L132.38,61.69 L132.52,61.38 L132.67,61.08 L132.81,60.77 L132.95,60.47 L133.09,60.17 L133.24,59.86 L133.38,59.56 L133.52,59.26 L133.67,58.95 L133.81,58.65 L133.95,58.34 L134.09,58.03 L134.24,57.72 L134.38,57.41 L134.52,57.09 L134.66,56.78 L134.81,56.46 L134.95,56.15 L135.09,55.83 L135.24,55.51 L135.38,55.19 L135.52,54.87 L135.66,54.55 L135.81,54.22 L135.95,53.9 L136.09,53.58 L136.23,53.25 L136.38,52.93 L136.52,52.6 L136.66,52.27 L136.81,51.95 L136.95,51.62 L137.09,51.29 L137.23,50.96 L137.38,50.63 L137.52,50.3 L137.66,49.97 L137.81,49.63 L137.95,49.29 L138.09,48.95 L138.23,48.61 L138.38,48.26 L138.52,47.92 L138.66,47.57 L138.8,47.23 L138.95,46.88 L139.09,46.53 L139.23,46.19 L139.38,45.84 L139.52,45.5 L139.66,45.16 L139.8,44.82 L139.95,44.48 L140.09,44.14 L140.23,43.81 L140.37,43.48 L140.52,43.15 L140.66,42.83 L140.8,42.51 L140.95,42.2 L141.09,41.9 L141.23,41.61 L141.37,41.33 L141.52,41.04 L141.66,40.75 L141.8,40.47 L141.94,40.17 L142.09,39.87 L142.23,39.56 L142.37,39.23 L142.52,38.89 L142.66,38.54 L142.8,38.15 L142.94,37.74 L143.09,37.31 L143.23,36.87 L143.37,36.41 L143.52,35.94 L143.66,35.47 L143.8,35 L143.94,34.53 L144.09,34.06 L144.23,33.61 L144.37,33.16 L144.51,32.73 L144.66,32.33 L144.8,31.93 L144.94,31.54 L145.09,31.15 L145.23,30.77 L145.37,30.38 L145.51,30 L145.66,29.63 L145.8,29.26 L145.94,28.89 L146.08,28.52 L146.23,28.17 L146.37,27.81 L146.51,27.47 L146.66,27.13 L146.8,26.79 L146.94,26.47 L147.08,26.15 L147.23,25.84 L147.37,25.53 L147.51,25.24 L147.66,24.95 L147.8,24.67 L147.94,24.39 L148.08,24.11 L148.23,23.84 L148.37,23.56 L148.51,23.29 L148.65,23.03 L148.8,22.76 L148.94,22.5 L149.08,22.25 L149.23,22 L149.37,21.76 L149.51,21.52 L149.65,21.28 L149.8,21.06 L149.94,20.83 L150.08,20.62 L150.22,20.41 L150.37,20.21 L150.51,20.02 L150.65,19.83 L150.8,19.66 L150.94,19.49 L151.08,19.33 L151.22,19.18 L151.37,19.03 L151.51,18.89 L151.65,18.74 L151.8,18.6 L151.94,18.47 L152.08,18.33 L152.22,18.2 L152.37,18.08 L152.51,17.95 L152.65,17.83 L152.79,17.71 L152.94,17.59 L153.08,17.48 L153.22,17.36 L153.37,17.25 L153.51,17.14 L153.65,17.04 L153.79,16.93 L153.94,16.83 L154.08,16.72 L154.22,16.62 L154.36,16.52 L154.51,16.42 L154.65,16.33 L154.79,16.23 L154.94,16.13 L155.08,16.04 L155.22,15.94 L155.36,15.85 L155.51,15.76 L155.65,15.66 L155.79,15.57 L155.94,15.48 L156.08,15.38 L156.22,15.29 L156.36,15.2 L156.51,15.1 L156.65,15.01 L156.79,14.91 L156.93,14.82 L157.08,14.72 L157.22,14.63 L157.36,14.53 L157.51,14.43 L157.65,14.33 L157.79,14.23 L157.93,14.13 L158.08,14.03 L158.22,13.93 L158.36,13.83 L158.5,13.73 L158.65,13.63 L158.79,13.54 L158.93,13.44 L159.08,13.34 L159.22,13.25 L159.36,13.15 L159.5,13.05 L159.65,12.96 L159.79,12.87 L159.93,12.77 L160.08,12.68 L160.22,12.58 L160.36,12.49 L160.5,12.4 L160.65,12.31 L160.79,12.21 L160.93,12.12 L161.07,12.03 L161.22,11.94 L161.36,11.85 L161.5,11.76 L161.65,11.67 L161.79,11.58 L161.93,11.49 L162.07,11.4 L162.22,11.31 L162.36,11.21 L162.5,11.12 L162.64,11.03 L162.79,10.94 L162.93,10.85 L163.07,10.76 L163.22,10.67 L163.36,10.58 L163.5,10.48 L163.64,10.39 L163.79,10.3 L163.93,10.21 L164.07,10.12 L164.22,10.03 L164.36,9.94 L164.5,9.85 L164.64,9.76 L164.79,9.67 L164.93,9.58 L165.07,9.49 L165.21,9.4 L165.36,9.31 L165.5,9.22 L165.64,9.13 L165.79,9.04 L165.93,8.96 L166.07,8.87 L166.21,8.78 L166.36,8.7 L166.5,8.61 L166.64,8.52 L166.78,8.44 L166.93,8.36 L167.07,8.27 L167.21,8.19 L167.36,8.11 L167.5,8.02 L167.64,7.94 L167.78,7.86 L167.93,7.78 L168.07,7.7 L168.21,7.62 L168.36,7.54 L168.5,7.47 L168.64,7.39 L168.78,7.32 L168.93,7.24 L169.07,7.17 L169.21,7.09 L169.35,7.02 L169.5,6.95 L169.64,6.88 L169.78,6.81 L169.93,6.74 L170.07,6.67 L170.21,6.61 L170.35,6.54 L170.5,6.48 L170.64,6.41 L170.78,6.35 L170.92,6.29 L171.07,6.23 L171.21,6.17 L171.35,6.11 L171.5,6.06 L171.64,6 L171.78,5.95 L171.92,5.89 L172.07,5.84 L172.21,5.79 L172.35,5.74 L172.49,5.69 L172.64,5.64 L172.78,5.59 L172.92,5.54 L173.07,5.49 L173.21,5.44 L173.35,5.39 L173.49,5.35 L173.64,5.3 L173.78,5.25 L173.92,5.21 L174.07,5.16 L174.21,5.12 L174.35,5.07 L174.49,5.03 L174.64,4.98 L174.78,4.94 L174.92,4.89 L175.06,4.85 L175.21,4.8 L175.35,4.76 L175.49,4.71 L175.64,4.67 L175.78,4.62 L175.92,4.58 L176.06,4.53 L176.21,4.49 L176.35,4.44 L176.49,4.39 L176.63,4.35 L176.78,4.3 L176.92,4.25 L177.06,4.2 L177.21,4.15 L177.35,4.1 L177.49,4.05 L177.63,4 L177.78,3.95 L177.92,3.9 L178.06,3.84 L178.21,3.79 L178.35,3.73 L178.49,3.68 L178.63,3.62 L178.78,3.56 L178.92,3.5 L179.06,3.44 L179.2,3.38 L179.35,3.32 L179.49,3.25 L179.63,3.19 L179.78,3.12 L179.92,3.06 L180.06,2.99 L180.2,2.92 L180.35,2.84 L180.49,2.77 L180.63,2.7 L180.77,2.62 L180.92,2.54 L181.06,2.46 L181.2,2.37 L181.35,2.27 L181.49,2.18 L181.63,2.07 L181.77,1.97 L181.92,1.86 L182.06,1.75 L182.2,1.63 L182.35,1.52 L182.49,1.4 L182.63,1.28 L182.77,1.16 L182.92,1.03 L183.06,0.91 L183.2,0.78 L183.34,0.66 L183.49,0.54 L183.63,0.41" fill="none" stroke="#000" stroke-width="1.6"/><path d="M126.67,71.79 L126.81,71.71 L126.96,71.63 L127.1,71.56 L127.24,71.48 L127.38,71.4 L127.53,71.33 L127.67,71.25 L127.81,71.17 L127.95,71.1 L128.1,71.02 L128.24,70.95 L128.38,70.87 L128.53,70.8 L128.67,70.72 L128.81,70.65 L128.95,70.57 L129.1,70.5 L129.24,70.42 L129.38,70.35 L129.53,70.28 L129.67,70.2 L129.81,70.13 L129.95,70.06 L130.1,69.98 L130.24,69.91 L130.38,69.84 L130.52,69.77 L130.67,69.69 L130.81,69.62 L130.95,69.55 L131.1,69.48 L131.24,69.41 L131.38,69.34 L131.52,69.27 L131.67,69.2 L131.81,69.13 L131.95,69.06 L132.09,68.99 L132.24,68.92 L132.38,68.85 L132.52,68.78 L132.67,68.72 L132.81,68.65 L132.95,68.58 L133.09,68.51 L133.24,68.45 L133.38,68.38 L133.52,68.32 L133.67,68.25 L133.81,68.19 L133.95,68.12 L134.09,68.06 L134.24,68 L134.38,67.94 L134.52,67.87 L134.66,67.81 L134.81,67.75 L134.95,67.69 L135.09,67.64 L135.24,67.58 L135.38,67.52 L135.52,67.46 L135.66,67.4 L135.81,67.35 L135.95,67.29 L136.09,67.23 L136.23,67.18 L136.38,67.12 L136.52,67.06 L136.66,67.01 L136.81,66.95 L136.95,66.9 L137.09,66.84 L137.23,66.79 L137.38,66.73 L137.52,66.68 L137.66,66.62 L137.81,66.56 L137.95,66.51 L138.09,66.45 L138.23,66.4 L138.38,66.34 L138.52,66.28 L138.66,66.23 L138.8,66.17 L138.95,66.11 L139.09,66.06 L139.23,66 L139.38,65.94 L139.52,65.88 L139.66,65.82 L139.8,65.76 L139.95,65.7 L140.09,65.64 L140.23,65.58 L140.37,65.52 L140.52,65.46 L140.66,65.4 L140.8,65.33 L140.95,65.27 L141.09,65.2 L141.23,65.14 L141.37,65.07 L141.52,65.01 L141.66,64.94 L141.8,64.87 L141.94,64.8 L142.09,64.73 L142.23,64.66 L142.37,64.58 L142.52,64.51 L142.66,64.44 L142.8,64.36 L142.94,64.28 L143.09,64.21 L143.23,64.13 L143.37,64.05 L143.52,63.98 L143.66,63.9 L143.8,63.82 L143.94,63.74 L144.09,63.66 L144.23,63.58 L144.37,63.5 L144.51,63.41 L144.66,63.33 L144.8,63.24 L144.94,63.16 L145.09,63.07 L145.23,62.98 L145.37,62.9 L145.51,62.81 L145.66,62.72 L145.8,62.62 L145.94,62.53 L146.08,62.43 L146.23,62.34 L146.37,62.24 L146.51,62.14 L146.66,62.04 L146.8,61.94 L146.94,61.83 L147.08,61.73 L147.23,61.62 L147.37,61.51 L147.51,61.4 L147.66,61.29 L147.8,61.18 L147.94,61.06 L148.08,60.94 L148.23,60.82 L148.37,60.7 L148.51,60.57 L148.65,60.45 L148.8,60.32 L148.94,60.18 L149.08,60.04 L149.23,59.89 L149.37,59.73 L149.51,59.56 L149.65,59.39 L149.8,59.21 L149.94,59.03 L150.08,58.85 L150.22,58.66 L150.37,58.47 L150.51,58.27 L150.65,58.08 L150.8,57.88 L150.94,57.68 L151.08,57.49 L151.22,57.29 L151.37,57.1 L151.51,56.91 L151.65,56.72 L151.8,56.53 L151.94,56.35 L152.08,56.18 L152.22,56.03 L152.37,55.89 L152.51,55.76 L152.65,55.64 L152.79,55.53 L152.94,55.42 L153.08,55.31 L153.22,55.19 L153.37,55.07 L153.51,54.95 L153.65,54.81 L153.79,54.65 L153.94,54.48 L154.08,54.29 L154.22,54.08 L154.36,53.84 L154.51,53.57 L154.65,53.27 L154.79,52.94 L154.94,52.54 L155.08,51.27 L155.22,49.52 L155.36,48.35 L155.51,48.13 L155.65,47.95 L155.79,47.8 L155.94,47.66 L156.08,47.54 L156.22,47.43 L156.36,47.33 L156.51,47.24 L156.65,47.17 L156.79,47.1 L156.93,47.04 L157.08,46.99 L157.22,46.94 L157.36,46.89 L157.51,46.85 L157.65,46.8 L157.79,46.76 L157.93,46.71 L158.08,46.66 L158.22,46.6 L158.36,46.54 L158.5,46.47 L158.65,46.39 L158.79,46.3 L158.93,46.21 L159.08,46.12 L159.22,46.03 L159.36,45.94 L159.5,45.85 L159.65,45.76 L159.79,45.67 L159.93,45.58 L160.08,45.49 L160.22,45.4 L160.36,45.31 L160.5,45.22 L160.65,45.12 L160.79,45.03 L160.93,44.94 L161.07,44.84 L161.22,44.75 L161.36,44.65 L161.5,44.55 L161.65,44.45 L161.79,44.35 L161.93,44.24 L162.07,44.13 L162.22,44.02 L162.36,43.91 L162.5,43.8 L162.64,43.68 L162.79,43.56 L162.93,43.44 L163.07,43.31 L163.22,43.18 L163.36,43.05 L163.5,42.91 L163.64,42.77 L163.79,42.62 L163.93,42.48 L164.07,42.32 L164.22,42.16 L164.36,42 L164.5,41.82 L164.64,41.64 L164.79,41.44 L164.93,41.24 L165.07,41.03 L165.21,40.8 L165.36,40.57 L165.5,40.34 L165.64,40.09 L165.79,39.83 L165.93,39.57 L166.07,39.3 L166.21,39.03 L166.36,38.74 L166.5,38.45 L166.64,38.16 L166.78,37.85 L166.93,37.55 L167.07,37.23 L167.21,36.91 L167.36,36.59 L167.5,36.26 L167.64,35.92 L167.78,35.58 L167.93,35.24 L168.07,34.89 L168.21,34.54 L168.36,34.18 L168.5,33.83 L168.64,33.46 L168.78,33.1 L168.93,32.73 L169.07,32.36 L169.21,31.99 L169.35,31.62 L169.5,31.24 L169.64,30.85 L169.78,30.42 L169.93,29.98 L170.07,29.52 L170.21,29.03 L170.35,28.54 L170.5,28.03 L170.64,27.51 L170.78,26.99 L170.92,26.46 L171.07,25.93 L171.21,25.41 L171.35,24.88 L171.5,24.37 L171.64,23.87 L171.78,23.37 L171.92,22.9 L172.07,22.44 L172.21,22.01 L172.35,21.58 L172.49,21.16 L172.64,20.74 L172.78,20.32 L172.92,19.91 L173.07,19.5 L173.21,19.09 L173.35,18.69 L173.49,18.3 L173.64,17.9 L173.78,17.52 L173.92,17.13 L174.07,16.76 L174.21,16.38 L174.35,16.02 L174.49,15.66 L174.64,15.3 L174.78,14.95 L174.92,14.61 L175.06,14.28 L175.21,13.95 L175.35,13.63 L175.49,13.31 L175.64,13 L175.78,12.69 L175.92,12.38 L176.06,12.08 L176.21,11.77 L176.35,11.47 L176.49,11.17 L176.63,10.87 L176.78,10.58 L176.92,10.29 L177.06,9.99 L177.21,9.71 L177.35,9.42 L177.49,9.13 L177.63,8.85 L177.78,8.58 L177.92,8.3 L178.06,8.03 L178.21,7.76 L178.35,7.49 L178.49,7.23 L178.63,6.97 L178.78,6.71 L178.92,6.46 L179.06,6.21 L179.2,5.96 L179.35,5.72 L179.49,5.48 L179.63,5.24 L179.78,5.01 L179.92,4.78 L180.06,4.56 L180.2,4.34 L180.35,4.13 L180.49,3.91 L180.63,3.71 L180.77,3.51 L180.92,3.31 L181.06,3.12 L181.2,2.93 L181.35,2.74 L181.49,2.57 L181.63,2.39 L181.77,2.22 L181.92,2.06 L182.06,1.9 L182.2,1.74 L182.35,1.59 L182.49,1.45 L182.63,1.3 L182.77,1.16 L182.92,1.03 L183.06,0.9 L183.2,0.77 L183.34,0.65 L183.49,0.53 L183.63,0.41" fill="none" stroke="#000" stroke-width="1.6"/><circle cx="126.67" cy="71.79" r="1.25" fill="#fff" stroke="#000" stroke-width="0.75"/><circle cx="129.24" cy="67.88" r="1.25" fill="#fff" stroke="#000" stroke-width="0.75"/><circle cx="131.69" cy="63.15" r="1.25" fill="#fff" stroke="#000" stroke-width="0.75"/><circle cx="134.08" cy="58.06" r="1.25" fill="#fff" stroke="#000" stroke-width="0.75"/><circle cx="136.44" cy="52.78" r="1.25" fill="#fff" stroke="#000" stroke-width="0.75"/><circle cx="138.76" cy="47.32" r="1.25" fill="#fff" stroke="#000" stroke-width="0.75"/><circle cx="141.09" cy="41.89" r="1.25" fill="#fff" stroke="#000" stroke-width="0.75"/><circle cx="143.39" cy="36.35" r="1.25" fill="#fff" stroke="#000" stroke-width="0.75"/><circle cx="145.52" cy="29.99" r="1.25" fill="#fff" stroke="#000" stroke-width="0.75"/><circle cx="147.85" cy="24.57" r="1.25" fill="#fff" stroke="#000" stroke-width="0.75"/><circle cx="150.36" cy="20.23" r="1.25" fill="#fff" stroke="#000" stroke-width="0.75"/><circle cx="153.04" cy="17.51" r="1.25" fill="#fff" stroke="#000" stroke-width="0.75"/><circle cx="155.79" cy="15.57" r="1.25" fill="#fff" stroke="#000" stroke-width="0.75"/><circle cx="158.54" cy="13.71" r="1.25" fill="#fff" stroke="#000" stroke-width="0.75"/><circle cx="161.29" cy="11.89" r="1.25" fill="#fff" stroke="#000" stroke-width="0.75"/><circle cx="164.04" cy="10.14" r="1.25" fill="#fff" stroke="#000" stroke-width="0.75"/><circle cx="166.8" cy="8.43" r="1.25" fill="#fff" stroke="#000" stroke-width="0.75"/><circle cx="169.57" cy="6.91" r="1.25" fill="#fff" stroke="#000" stroke-width="0.75"/><circle cx="172.35" cy="5.74" r="1.25" fill="#fff" stroke="#000" stroke-width="0.75"/><circle cx="175.14" cy="4.83" r="1.25" fill="#fff" stroke="#000" stroke-width="0.75"/><circle cx="177.92" cy="3.9" r="1.25" fill="#fff" stroke="#000" stroke-width="0.75"/><circle cx="180.7" cy="2.66" r="1.25" fill="#fff" stroke="#000" stroke-width="0.75"/><circle cx="183.44" cy="0.58" r="1.25" fill="#fff" stroke="#000" stroke-width="0.75"/><circle cx="126.67" cy="71.79" r="1.25" fill="#fff" stroke="#000" stroke-width="0.75"/><circle cx="129.44" cy="70.32" r="1.25" fill="#fff" stroke="#000" stroke-width="0.75"/><circle cx="132.21" cy="68.93" r="1.25" fill="#fff" stroke="#000" stroke-width="0.75"/><circle cx="134.99" cy="67.68" r="1.25" fill="#fff" stroke="#000" stroke-width="0.75"/><circle cx="137.77" cy="66.58" r="1.25" fill="#fff" stroke="#000" stroke-width="0.75"/><circle cx="140.55" cy="65.44" r="1.25" fill="#fff" stroke="#000" stroke-width="0.75"/><circle cx="143.32" cy="64.08" r="1.25" fill="#fff" stroke="#000" stroke-width="0.75"/><circle cx="146.08" cy="62.44" r="1.25" fill="#fff" stroke="#000" stroke-width="0.75"/><circle cx="148.82" cy="60.3" r="1.25" fill="#fff" stroke="#000" stroke-width="0.75"/><circle cx="151.45" cy="56.99" r="1.25" fill="#fff" stroke="#000" stroke-width="0.75"/><circle cx="154.13" cy="54.22" r="1.25" fill="#fff" stroke="#000" stroke-width="0.75"/><circle cx="155.92" cy="47.68" r="1.25" fill="#fff" stroke="#000" stroke-width="0.75"/><circle cx="158.69" cy="46.37" r="1.25" fill="#fff" stroke="#000" stroke-width="0.75"/><circle cx="161.44" cy="44.59" r="1.25" fill="#fff" stroke="#000" stroke-width="0.75"/><circle cx="164.16" cy="42.23" r="1.25" fill="#fff" stroke="#000" stroke-width="0.75"/><circle cx="166.69" cy="38.06" r="1.25" fill="#fff" stroke="#000" stroke-width="0.75"/><circle cx="169" cy="32.55" r="1.25" fill="#fff" stroke="#000" stroke-width="0.75"/><circle cx="171.06" cy="25.95" r="1.25" fill="#fff" stroke="#000" stroke-width="0.75"/><circle cx="173.12" cy="19.34" r="1.25" fill="#fff" stroke="#000" stroke-width="0.75"/><circle cx="175.38" cy="13.56" r="1.25" fill="#fff" stroke="#000" stroke-width="0.75"/><circle cx="177.79" cy="8.55" r="1.25" fill="#fff" stroke="#000" stroke-width="0.75"/><circle cx="180.3" cy="4.2" r="1.25" fill="#fff" stroke="#000" stroke-width="0.75"/><circle cx="182.94" cy="1.01" r="1.25" fill="#fff" stroke="#000" stroke-width="0.75"/><path d="M125.95,73.96 L126.1,73.82 L126.24,73.68 L126.39,73.54 L126.54,73.39 L126.68,73.25 L126.83,73.1 L126.97,72.96 L127.12,72.81 L127.27,72.66 L127.41,72.51 L127.56,72.36 L127.71,72.21 L127.85,72.05 L128,71.9 L128.15,71.75 L128.29,71.59 L128.44,71.43 L128.58,71.28 L128.73,71.12 L128.88,70.96 L129.02,70.8 L129.17,70.64 L129.32,70.47 L129.46,70.31 L129.61,70.15 L129.76,69.99 L129.9,69.83 L130.05,69.67 L130.19,69.51 L130.34,69.34 L130.49,69.18 L130.63,69.02 L130.78,68.85 L130.93,68.68 L131.07,68.52 L131.22,68.34 L131.37,68.17 L131.51,67.99 L131.66,67.81 L131.8,67.63 L131.95,67.44 L132.1,67.25 L132.24,67.05 L132.39,66.85 L132.54,66.65 L132.68,66.44 L132.83,66.22 L132.98,66 L133.12,65.77 L133.27,65.54 L133.41,65.31 L133.56,65.07 L133.71,64.82 L133.85,64.57 L134,64.31 L134.15,64.05 L134.29,63.79 L134.44,63.52 L134.59,63.24 L134.73,62.96 L134.88,62.67 L135.02,62.38 L135.17,62.09 L135.32,61.79 L135.46,61.48 L135.61,61.17 L135.76,60.86 L135.9,60.54 L136.05,60.21 L136.2,59.88 L136.34,59.55 L136.49,59.22 L136.63,58.89 L136.78,58.54 L136.93,58.19 L137.07,57.83 L137.22,57.47 L137.37,57.08 L137.51,56.69 L137.66,56.28 L137.81,55.86 L137.95,55.42 L138.1,54.96 L138.24,54.48 L138.39,53.98 L138.54,53.46 L138.68,52.91 L138.83,52.28 L138.98,51.54 L139.12,50.7 L139.27,49.81 L139.42,48.86 L139.56,47.9 L139.71,46.94 L139.85,46 L140,45.1 L140.15,44.28 L140.29,43.54 L140.44,42.91 L140.59,42.37 L140.73,41.88 L140.88,41.43 L141.03,41.01 L141.17,40.62 L141.32,40.24 L141.46,39.88 L141.61,39.51 L141.76,39.15 L141.9,38.77 L142.05,38.38 L142.2,37.96 L142.34,37.51 L142.49,37.01 L142.64,36.47 L142.78,35.85 L142.93,35.17 L143.07,34.43 L143.22,33.66 L143.37,32.86 L143.51,32.05 L143.66,31.25 L143.81,30.47 L143.95,29.73 L144.1,29.02 L144.25,28.31 L144.39,27.58 L144.54,26.85 L144.68,26.11 L144.83,25.38 L144.98,24.66 L145.12,23.96 L145.27,23.28 L145.42,22.63 L145.56,22.01 L145.71,21.43 L145.86,20.9 L146,20.42 L146.15,20 L146.29,19.6 L146.44,19.22 L146.59,18.85 L146.73,18.49 L146.88,18.15 L147.03,17.82 L147.17,17.5 L147.32,17.19 L147.47,16.9 L147.61,16.61 L147.76,16.34 L147.9,16.08 L148.05,15.83 L148.2,15.58 L148.34,15.35 L148.49,15.13 L148.64,14.92 L148.78,14.72 L148.93,14.53 L149.08,14.34 L149.22,14.16 L149.37,13.98 L149.51,13.8 L149.66,13.63 L149.81,13.46 L149.95,13.29 L150.1,13.12 L150.25,12.96 L150.39,12.8 L150.54,12.64 L150.69,12.49 L150.83,12.34 L150.98,12.19 L151.12,12.04 L151.27,11.9 L151.42,11.75 L151.56,11.62 L151.71,11.48 L151.86,11.35 L152,11.22 L152.15,11.09 L152.3,10.96 L152.44,10.84 L152.59,10.72 L152.73,10.6 L152.88,10.48 L153.03,10.37 L153.17,10.26 L153.32,10.15 L153.47,10.05 L153.61,9.95 L153.76,9.85 L153.91,9.75 L154.05,9.65 L154.2,9.56 L154.34,9.47 L154.49,9.38 L154.64,9.3 L154.78,9.22 L154.93,9.14 L155.08,9.06 L155.22,8.98 L155.37,8.91 L155.52,8.84 L155.66,8.77 L155.81,8.7 L155.96,8.64 L156.1,8.57 L156.25,8.51 L156.39,8.44 L156.54,8.38 L156.69,8.32 L156.83,8.27 L156.98,8.21 L157.13,8.15 L157.27,8.1 L157.42,8.04 L157.57,7.99 L157.71,7.94 L157.86,7.89 L158,7.83 L158.15,7.79 L158.3,7.74 L158.44,7.69 L158.59,7.64 L158.74,7.6 L158.88,7.55 L159.03,7.5 L159.18,7.46 L159.32,7.42 L159.47,7.37 L159.61,7.33 L159.76,7.29 L159.91,7.25 L160.05,7.2 L160.2,7.16 L160.35,7.12 L160.49,7.08 L160.64,7.04 L160.79,7 L160.93,6.96 L161.08,6.92 L161.22,6.88 L161.37,6.84 L161.52,6.8 L161.66,6.76 L161.81,6.72 L161.96,6.68 L162.1,6.64 L162.25,6.6 L162.4,6.56 L162.54,6.52 L162.69,6.48 L162.83,6.44 L162.98,6.4 L163.13,6.36 L163.27,6.31 L163.42,6.27 L163.57,6.23 L163.71,6.18 L163.86,6.14 L164.01,6.09 L164.15,6.05 L164.3,6 L164.44,5.95 L164.59,5.91 L164.74,5.86 L164.88,5.81 L165.03,5.76 L165.18,5.71 L165.32,5.66 L165.47,5.61 L165.62,5.56 L165.76,5.51 L165.91,5.46 L166.05,5.42 L166.2,5.37 L166.35,5.32 L166.49,5.27 L166.64,5.22 L166.79,5.17 L166.93,5.12 L167.08,5.07 L167.23,5.02 L167.37,4.97 L167.52,4.92 L167.66,4.87 L167.81,4.82 L167.96,4.77 L168.1,4.72 L168.25,4.67 L168.4,4.62 L168.54,4.57 L168.69,4.52 L168.84,4.47 L168.98,4.42 L169.13,4.37 L169.27,4.32 L169.42,4.27 L169.57,4.22 L169.71,4.17 L169.86,4.12 L170.01,4.07 L170.15,4.02 L170.3,3.96 L170.45,3.91 L170.59,3.86 L170.74,3.81 L170.88,3.76 L171.03,3.71 L171.18,3.66 L171.32,3.61 L171.47,3.56 L171.62,3.5 L171.76,3.45 L171.91,3.4 L172.06,3.35 L172.2,3.3 L172.35,3.25 L172.49,3.2 L172.64,3.14 L172.79,3.09 L172.93,3.04 L173.08,2.99 L173.23,2.94 L173.37,2.88 L173.52,2.83 L173.67,2.78 L173.81,2.73 L173.96,2.67 L174.1,2.62 L174.25,2.57 L174.4,2.52 L174.54,2.46 L174.69,2.41 L174.84,2.36 L174.98,2.31 L175.13,2.25 L175.28,2.2 L175.42,2.15 L175.57,2.1 L175.71,2.05 L175.86,1.99 L176.01,1.94 L176.15,1.89 L176.3,1.84 L176.45,1.78 L176.59,1.73 L176.74,1.68 L176.89,1.62 L177.03,1.57 L177.18,1.51 L177.32,1.46 L177.47,1.41 L177.62,1.35 L177.76,1.29 L177.91,1.24 L178.06,1.18 L178.2,1.12 L178.35,1.07 L178.5,1.01 L178.64,0.95 L178.79,0.89 L178.93,0.83 L179.08,0.77 L179.23,0.71 L179.37,0.65 L179.52,0.58 L179.67,0.52 L179.81,0.46 L179.96,0.39 L180.11,0.33 L180.25,0.26 L180.4,0.2 L180.54,0.13 L180.69,0.06 L180.84,-0 L180.98,-0.07 L181.13,-0.14 L181.28,-0.21 L181.42,-0.28 L181.57,-0.35 L181.72,-0.42 L181.86,-0.49 L182.01,-0.56 L182.15,-0.63 L182.3,-0.7 L182.45,-0.78 L182.59,-0.85 L182.74,-0.92 L182.89,-1 L183.03,-1.07 L183.18,-1.15 L183.33,-1.22 L183.47,-1.3 L183.62,-1.37 L183.76,-1.45 L183.91,-1.53 L184.06,-1.61 L184.2,-1.68 L184.35,-1.76" fill="none" stroke="#ff0000" stroke-width="1.4"/><path d="M125.95,73.96 L126.1,73.93 L126.24,73.89 L126.39,73.86 L126.54,73.82 L126.68,73.78 L126.83,73.75 L126.97,73.71 L127.12,73.67 L127.27,73.63 L127.41,73.6 L127.56,73.56 L127.71,73.52 L127.85,73.48 L128,73.44 L128.15,73.4 L128.29,73.36 L128.44,73.32 L128.58,73.28 L128.73,73.24 L128.88,73.19 L129.02,73.15 L129.17,73.11 L129.32,73.07 L129.46,73.02 L129.61,72.98 L129.76,72.94 L129.9,72.89 L130.05,72.85 L130.19,72.8 L130.34,72.76 L130.49,72.71 L130.63,72.67 L130.78,72.62 L130.93,72.58 L131.07,72.53 L131.22,72.48 L131.37,72.44 L131.51,72.39 L131.66,72.34 L131.8,72.29 L131.95,72.25 L132.1,72.2 L132.24,72.15 L132.39,72.1 L132.54,72.05 L132.68,72 L132.83,71.95 L132.98,71.9 L133.12,71.85 L133.27,71.8 L133.41,71.75 L133.56,71.7 L133.71,71.65 L133.85,71.59 L134,71.54 L134.15,71.49 L134.29,71.43 L134.44,71.38 L134.59,71.32 L134.73,71.27 L134.88,71.21 L135.02,71.16 L135.17,71.1 L135.32,71.04 L135.46,70.98 L135.61,70.93 L135.76,70.87 L135.9,70.81 L136.05,70.75 L136.2,70.69 L136.34,70.63 L136.49,70.57 L136.63,70.51 L136.78,70.45 L136.93,70.38 L137.07,70.32 L137.22,70.26 L137.37,70.2 L137.51,70.14 L137.66,70.07 L137.81,70.01 L137.95,69.94 L138.1,69.88 L138.24,69.82 L138.39,69.75 L138.54,69.69 L138.68,69.62 L138.83,69.56 L138.98,69.49 L139.12,69.43 L139.27,69.36 L139.42,69.29 L139.56,69.23 L139.71,69.16 L139.85,69.1 L140,69.03 L140.15,68.96 L140.29,68.89 L140.44,68.83 L140.59,68.76 L140.73,68.69 L140.88,68.63 L141.03,68.56 L141.17,68.49 L141.32,68.42 L141.46,68.36 L141.61,68.29 L141.76,68.22 L141.9,68.15 L142.05,68.08 L142.2,68.02 L142.34,67.95 L142.49,67.88 L142.64,67.81 L142.78,67.75 L142.93,67.68 L143.07,67.61 L143.22,67.54 L143.37,67.47 L143.51,67.4 L143.66,67.33 L143.81,67.26 L143.95,67.19 L144.1,67.12 L144.25,67.05 L144.39,66.98 L144.54,66.9 L144.68,66.83 L144.83,66.76 L144.98,66.69 L145.12,66.61 L145.27,66.54 L145.42,66.46 L145.56,66.39 L145.71,66.32 L145.86,66.24 L146,66.17 L146.15,66.09 L146.29,66.02 L146.44,65.94 L146.59,65.87 L146.73,65.79 L146.88,65.72 L147.03,65.64 L147.17,65.57 L147.32,65.49 L147.47,65.42 L147.61,65.34 L147.76,65.26 L147.9,65.19 L148.05,65.11 L148.2,65.04 L148.34,64.96 L148.49,64.89 L148.64,64.81 L148.78,64.74 L148.93,64.66 L149.08,64.59 L149.22,64.51 L149.37,64.44 L149.51,64.36 L149.66,64.29 L149.81,64.21 L149.95,64.14 L150.1,64.06 L150.25,63.99 L150.39,63.91 L150.54,63.84 L150.69,63.77 L150.83,63.7 L150.98,63.63 L151.12,63.57 L151.27,63.51 L151.42,63.46 L151.56,63.41 L151.71,63.36 L151.86,63.31 L152,63.27 L152.15,63.22 L152.3,63.18 L152.44,63.14 L152.59,63.09 L152.73,63.04 L152.88,62.99 L153.03,62.94 L153.17,62.88 L153.32,62.82 L153.47,62.75 L153.61,62.68 L153.76,62.6 L153.91,62.51 L154.05,62.42 L154.2,62.31 L154.34,62.2 L154.49,62.08 L154.64,61.95 L154.78,61.8 L154.93,61.64 L155.08,61.18 L155.22,60.51 L155.37,59.97 L155.52,59.69 L155.66,59.42 L155.81,59.18 L155.96,58.95 L156.1,58.73 L156.25,58.53 L156.39,58.34 L156.54,58.16 L156.69,57.99 L156.83,57.83 L156.98,57.68 L157.13,57.54 L157.27,57.4 L157.42,57.28 L157.57,57.15 L157.71,57.03 L157.86,56.92 L158,56.8 L158.15,56.69 L158.3,56.57 L158.44,56.46 L158.59,56.35 L158.74,56.23 L158.88,56.11 L159.03,55.98 L159.18,55.85 L159.32,55.71 L159.47,55.56 L159.61,55.41 L159.76,55.25 L159.91,55.07 L160.05,54.89 L160.2,54.69 L160.35,54.49 L160.49,54.28 L160.64,54.07 L160.79,53.85 L160.93,53.64 L161.08,53.41 L161.22,53.18 L161.37,52.94 L161.52,52.7 L161.66,52.45 L161.81,52.19 L161.96,51.92 L162.1,51.65 L162.25,51.36 L162.4,51.07 L162.54,50.76 L162.69,50.45 L162.83,50.12 L162.98,49.78 L163.13,49.43 L163.27,49.05 L163.42,48.63 L163.57,48.17 L163.71,47.68 L163.86,47.15 L164.01,46.59 L164.15,46.01 L164.3,45.41 L164.44,44.79 L164.59,44.16 L164.74,43.52 L164.88,42.87 L165.03,42.23 L165.18,41.58 L165.32,40.94 L165.47,40.32 L165.62,39.71 L165.76,39.11 L165.91,38.54 L166.05,37.99 L166.2,37.48 L166.35,37 L166.49,36.54 L166.64,36.11 L166.79,35.69 L166.93,35.29 L167.08,34.88 L167.23,34.48 L167.37,34.07 L167.52,33.64 L167.66,33.19 L167.81,32.71 L167.96,32.21 L168.1,31.66 L168.25,31.06 L168.4,30.37 L168.54,29.59 L168.69,28.75 L168.84,27.86 L168.98,26.97 L169.13,26.07 L169.27,25.21 L169.42,24.39 L169.57,23.63 L169.71,22.86 L169.86,22.09 L170.01,21.32 L170.15,20.56 L170.3,19.8 L170.45,19.06 L170.59,18.34 L170.74,17.64 L170.88,16.97 L171.03,16.33 L171.18,15.73 L171.32,15.18 L171.47,14.67 L171.62,14.19 L171.76,13.73 L171.91,13.28 L172.06,12.85 L172.2,12.43 L172.35,12.02 L172.49,11.63 L172.64,11.24 L172.79,10.87 L172.93,10.51 L173.08,10.16 L173.23,9.82 L173.37,9.48 L173.52,9.15 L173.67,8.83 L173.81,8.52 L173.96,8.21 L174.1,7.91 L174.25,7.61 L174.4,7.32 L174.54,7.02 L174.69,6.73 L174.84,6.45 L174.98,6.15 L175.13,5.86 L175.28,5.57 L175.42,5.28 L175.57,4.98 L175.71,4.69 L175.86,4.4 L176.01,4.12 L176.15,3.84 L176.3,3.56 L176.45,3.29 L176.59,3.03 L176.74,2.78 L176.89,2.53 L177.03,2.29 L177.18,2.07 L177.32,1.85 L177.47,1.65 L177.62,1.46 L177.76,1.29 L177.91,1.13 L178.06,0.98 L178.2,0.85 L178.35,0.74 L178.5,0.64 L178.64,0.54 L178.79,0.44 L178.93,0.34 L179.08,0.24 L179.23,0.15 L179.37,0.05 L179.52,-0.04 L179.67,-0.13 L179.81,-0.22 L179.96,-0.31 L180.11,-0.39 L180.25,-0.47 L180.4,-0.56 L180.54,-0.64 L180.69,-0.71 L180.84,-0.79 L180.98,-0.86 L181.13,-0.93 L181.28,-1 L181.42,-1.07 L181.57,-1.13 L181.72,-1.19 L181.86,-1.25 L182.01,-1.31 L182.15,-1.36 L182.3,-1.41 L182.45,-1.46 L182.59,-1.5 L182.74,-1.54 L182.89,-1.58 L183.03,-1.61 L183.18,-1.64 L183.33,-1.67 L183.47,-1.69 L183.62,-1.71 L183.76,-1.73 L183.91,-1.74 L184.06,-1.75 L184.2,-1.76 L184.35,-1.76" fill="none" stroke="#ff0000" stroke-width="1.4"/><circle cx="125.95" cy="73.96" r="1.5" fill="#fff" stroke="#ff0000" stroke-width="0.8"/><circle cx="128.64" cy="71.22" r="1.5" fill="#fff" stroke="#ff0000" stroke-width="0.8"/><circle cx="131.31" cy="68.24" r="1.5" fill="#fff" stroke="#ff0000" stroke-width="0.8"/><circle cx="133.89" cy="64.5" r="1.5" fill="#fff" stroke="#ff0000" stroke-width="0.8"/><circle cx="136.32" cy="59.61" r="1.5" fill="#fff" stroke="#ff0000" stroke-width="0.8"/><circle cx="138.51" cy="53.56" r="1.5" fill="#fff" stroke="#ff0000" stroke-width="0.8"/><circle cx="139.98" cy="45.25" r="1.5" fill="#fff" stroke="#ff0000" stroke-width="0.8"/><circle cx="141.98" cy="38.56" r="1.5" fill="#fff" stroke="#ff0000" stroke-width="0.8"/><circle cx="143.72" cy="30.95" r="1.5" fill="#fff" stroke="#ff0000" stroke-width="0.8"/><circle cx="145.34" cy="22.97" r="1.5" fill="#fff" stroke="#ff0000" stroke-width="0.8"/><circle cx="147.5" cy="16.84" r="1.5" fill="#fff" stroke="#ff0000" stroke-width="0.8"/><circle cx="150.08" cy="13.14" r="1.5" fill="#fff" stroke="#ff0000" stroke-width="0.8"/><circle cx="152.78" cy="10.56" r="1.5" fill="#fff" stroke="#ff0000" stroke-width="0.8"/><circle cx="155.54" cy="8.83" r="1.5" fill="#fff" stroke="#ff0000" stroke-width="0.8"/><circle cx="158.32" cy="7.73" r="1.5" fill="#fff" stroke="#ff0000" stroke-width="0.8"/><circle cx="161.11" cy="6.91" r="1.5" fill="#fff" stroke="#ff0000" stroke-width="0.8"/><circle cx="163.9" cy="6.12" r="1.5" fill="#fff" stroke="#ff0000" stroke-width="0.8"/><circle cx="166.69" cy="5.2" r="1.5" fill="#fff" stroke="#ff0000" stroke-width="0.8"/><circle cx="169.48" cy="4.25" r="1.5" fill="#fff" stroke="#ff0000" stroke-width="0.8"/><circle cx="172.26" cy="3.28" r="1.5" fill="#fff" stroke="#ff0000" stroke-width="0.8"/><circle cx="175.05" cy="2.28" r="1.5" fill="#fff" stroke="#ff0000" stroke-width="0.8"/><circle cx="177.83" cy="1.27" r="1.5" fill="#fff" stroke="#ff0000" stroke-width="0.8"/><circle cx="180.61" cy="0.1" r="1.5" fill="#fff" stroke="#ff0000" stroke-width="0.8"/><circle cx="183.39" cy="-1.25" r="1.5" fill="#fff" stroke="#ff0000" stroke-width="0.8"/><circle cx="125.95" cy="73.96" r="1.5" fill="#fff" stroke="#ff0000" stroke-width="0.8"/><circle cx="128.74" cy="73.23" r="1.5" fill="#fff" stroke="#ff0000" stroke-width="0.8"/><circle cx="131.53" cy="72.38" r="1.5" fill="#fff" stroke="#ff0000" stroke-width="0.8"/><circle cx="134.32" cy="71.42" r="1.5" fill="#fff" stroke="#ff0000" stroke-width="0.8"/><circle cx="137.1" cy="70.31" r="1.5" fill="#fff" stroke="#ff0000" stroke-width="0.8"/><circle cx="139.88" cy="69.08" r="1.5" fill="#fff" stroke="#ff0000" stroke-width="0.8"/><circle cx="142.65" cy="67.81" r="1.5" fill="#fff" stroke="#ff0000" stroke-width="0.8"/><circle cx="145.43" cy="66.46" r="1.5" fill="#fff" stroke="#ff0000" stroke-width="0.8"/><circle cx="148.2" cy="65.04" r="1.5" fill="#fff" stroke="#ff0000" stroke-width="0.8"/><circle cx="150.97" cy="63.63" r="1.5" fill="#fff" stroke="#ff0000" stroke-width="0.8"/><circle cx="153.75" cy="62.6" r="1.5" fill="#fff" stroke="#ff0000" stroke-width="0.8"/><circle cx="156.22" cy="58.57" r="1.5" fill="#fff" stroke="#ff0000" stroke-width="0.8"/><circle cx="158.92" cy="56.07" r="1.5" fill="#fff" stroke="#ff0000" stroke-width="0.8"/><circle cx="161.54" cy="52.66" r="1.5" fill="#fff" stroke="#ff0000" stroke-width="0.8"/><circle cx="163.85" cy="47.19" r="1.5" fill="#fff" stroke="#ff0000" stroke-width="0.8"/><circle cx="165.63" cy="39.64" r="1.5" fill="#fff" stroke="#ff0000" stroke-width="0.8"/><circle cx="167.7" cy="33.07" r="1.5" fill="#fff" stroke="#ff0000" stroke-width="0.8"/><circle cx="169.3" cy="25.09" r="1.5" fill="#fff" stroke="#ff0000" stroke-width="0.8"/><circle cx="170.88" cy="17" r="1.5" fill="#fff" stroke="#ff0000" stroke-width="0.8"/><circle cx="172.95" cy="10.47" r="1.5" fill="#fff" stroke="#ff0000" stroke-width="0.8"/><circle cx="175.35" cy="5.42" r="1.5" fill="#fff" stroke="#ff0000" stroke-width="0.8"/><circle cx="177.87" cy="1.17" r="1.5" fill="#fff" stroke="#ff0000" stroke-width="0.8"/><circle cx="180.61" cy="-0.67" r="1.5" fill="#fff" stroke="#ff0000" stroke-width="0.8"/><circle cx="183.4" cy="-1.68" r="1.5" fill="#fff" stroke="#ff0000" stroke-width="0.8"/></g><line x1="115.15" y1="-2" x2="115.15" y2="91.4" stroke="#000" stroke-width="1.5" /><line x1="194.85" y1="-2" x2="194.85" y2="91.4" stroke="#000" stroke-width="1.5" /><line x1="114.4" y1="91.4" x2="195.6" y2="91.4" stroke="#000" stroke-width="1.5" /><line x1="115.15" y1="8.9" x2="116.75" y2="8.9" stroke="#000" stroke-width="0.9" /><line x1="115.15" y1="22.5" x2="116.75" y2="22.5" stroke="#000" stroke-width="0.9" /><line x1="115.15" y1="36.1" x2="116.75" y2="36.1" stroke="#000" stroke-width="0.9" /><line x1="115.15" y1="49.7" x2="116.75" y2="49.7" stroke="#000" stroke-width="0.9" /><line x1="115.15" y1="63.3" x2="116.75" y2="63.3" stroke="#000" stroke-width="0.9" /><line x1="115.15" y1="76.9" x2="116.75" y2="76.9" stroke="#000" stroke-width="0.9" /><line x1="123.15" y1="91.4" x2="123.15" y2="89.8" stroke="#000" stroke-width="0.9" /><line x1="139.15" y1="91.4" x2="139.15" y2="89.8" stroke="#000" stroke-width="0.9" /><line x1="155.15" y1="91.4" x2="155.15" y2="89.8" stroke="#000" stroke-width="0.9" /><line x1="171.15" y1="91.4" x2="171.15" y2="89.8" stroke="#000" stroke-width="0.9" /><line x1="187.15" y1="91.4" x2="187.15" y2="89.8" stroke="#000" stroke-width="0.9" /><text x="122.65" y="101.1" font-size="9.3" text-anchor="middle" font-weight="bold" font-style="normal" fill="#000" stroke="#000" stroke-width="0.28" stroke-linejoin="round" >-4</text><text x="138.65" y="101.1" font-size="9.3" text-anchor="middle" font-weight="bold" font-style="normal" fill="#000" stroke="#000" stroke-width="0.28" stroke-linejoin="round" >-2</text><text x="155.25" y="101.1" font-size="9.3" text-anchor="middle" font-weight="bold" font-style="normal" fill="#000" stroke="#000" stroke-width="0.28" stroke-linejoin="round" >0</text><text x="171.25" y="101.1" font-size="9.3" text-anchor="middle" font-weight="bold" font-style="normal" fill="#000" stroke="#000" stroke-width="0.28" stroke-linejoin="round" >2</text><text x="187.25" y="101.1" font-size="9.3" text-anchor="middle" font-weight="bold" font-style="normal" fill="#000" stroke="#000" stroke-width="0.28" stroke-linejoin="round" >4</text><rect x="118.95" y="-8" width="23.3" height="10.5" fill="#c8c8c8" /><text x="130.55" y="1.3" font-size="8" text-anchor="middle" font-weight="bold" font-style="normal" fill="#000" stroke="#000" stroke-width="0.28" stroke-linejoin="round" >HZO</text><rect x="118.95" y="3.3" width="23.3" height="8.6" fill="#dcaaf8" /><text x="129.75" y="10" font-size="8.3" text-anchor="middle" font-weight="bold" font-style="italic" fill="#9a10f0" stroke="#9a10f0" stroke-width="0.28" stroke-linejoin="round" >Mo</text><g clip-path="url(#clip2)"><line x1="198.55" y1="36.1" x2="278.25" y2="36.1" stroke="#555" stroke-width="1.1" /><line x1="238.55" y1="-2" x2="238.55" y2="91.4" stroke="#555" stroke-width="1.1" /><path d="M211.43,71.13 L211.57,71.01 L211.7,70.9 L211.84,70.78 L211.98,70.66 L212.12,70.54 L212.25,70.42 L212.39,70.3 L212.53,70.18 L212.66,70.06 L212.8,69.94 L212.94,69.82 L213.08,69.7 L213.21,69.58 L213.35,69.46 L213.49,69.34 L213.62,69.22 L213.76,69.1 L213.9,68.97 L214.04,68.85 L214.17,68.73 L214.31,68.61 L214.45,68.49 L214.58,68.37 L214.72,68.24 L214.86,68.12 L215,68 L215.13,67.88 L215.27,67.75 L215.41,67.63 L215.54,67.51 L215.68,67.38 L215.82,67.26 L215.96,67.14 L216.09,67.01 L216.23,66.89 L216.37,66.77 L216.5,66.64 L216.64,66.52 L216.78,66.39 L216.92,66.27 L217.05,66.15 L217.19,66.02 L217.33,65.9 L217.46,65.77 L217.6,65.65 L217.74,65.53 L217.88,65.41 L218.01,65.29 L218.15,65.18 L218.29,65.06 L218.42,64.95 L218.56,64.84 L218.7,64.73 L218.84,64.62 L218.97,64.51 L219.11,64.4 L219.25,64.29 L219.38,64.18 L219.52,64.07 L219.66,63.96 L219.8,63.85 L219.93,63.74 L220.07,63.62 L220.21,63.51 L220.34,63.39 L220.48,63.27 L220.62,63.15 L220.76,63.03 L220.89,62.9 L221.03,62.77 L221.17,62.64 L221.3,62.51 L221.44,62.37 L221.58,62.23 L221.72,62.09 L221.85,61.94 L221.99,61.78 L222.13,61.63 L222.26,61.46 L222.4,61.3 L222.54,61.13 L222.68,60.95 L222.81,60.77 L222.95,60.57 L223.09,60.36 L223.22,60.13 L223.36,59.89 L223.5,59.63 L223.64,59.36 L223.77,59.08 L223.91,58.79 L224.05,58.5 L224.18,58.19 L224.32,57.89 L224.46,57.57 L224.6,57.26 L224.73,56.94 L224.87,56.63 L225.01,56.31 L225.14,56 L225.28,55.69 L225.42,55.38 L225.56,55.08 L225.69,54.78 L225.83,54.48 L225.97,54.18 L226.1,53.88 L226.24,53.57 L226.38,53.27 L226.52,52.96 L226.65,52.66 L226.79,52.35 L226.93,52.04 L227.06,51.72 L227.2,51.4 L227.34,51.08 L227.48,50.76 L227.61,50.43 L227.75,50.1 L227.89,49.76 L228.02,49.42 L228.16,49.07 L228.3,48.72 L228.44,48.36 L228.57,48 L228.71,47.63 L228.85,47.26 L228.98,46.88 L229.12,46.5 L229.26,46.11 L229.4,45.72 L229.53,45.32 L229.67,44.92 L229.81,44.5 L229.94,44.08 L230.08,43.65 L230.22,43.21 L230.36,42.75 L230.49,42.29 L230.63,41.81 L230.77,41.32 L230.9,40.81 L231.04,40.28 L231.18,39.74 L231.32,39.13 L231.45,38.45 L231.59,37.74 L231.73,37 L231.86,36.24 L232,35.48 L232.14,34.73 L232.28,34.01 L232.41,33.33 L232.55,32.71 L232.69,32.16 L232.82,31.67 L232.96,31.22 L233.1,30.79 L233.24,30.39 L233.37,30 L233.51,29.63 L233.65,29.27 L233.78,28.91 L233.92,28.55 L234.06,28.19 L234.2,27.82 L234.33,27.45 L234.47,27.08 L234.61,26.7 L234.74,26.33 L234.88,25.96 L235.02,25.59 L235.16,25.23 L235.29,24.87 L235.43,24.51 L235.57,24.16 L235.7,23.82 L235.84,23.48 L235.98,23.15 L236.12,22.83 L236.25,22.52 L236.39,22.22 L236.53,21.93 L236.66,21.65 L236.8,21.39 L236.94,21.13 L237.08,20.88 L237.21,20.64 L237.35,20.39 L237.49,20.16 L237.62,19.92 L237.76,19.7 L237.9,19.48 L238.04,19.26 L238.17,19.05 L238.31,18.84 L238.45,18.64 L238.58,18.45 L238.72,18.26 L238.86,18.08 L239,17.9 L239.13,17.73 L239.27,17.57 L239.41,17.41 L239.54,17.26 L239.68,17.11 L239.82,16.96 L239.96,16.81 L240.09,16.67 L240.23,16.53 L240.37,16.39 L240.5,16.25 L240.64,16.11 L240.78,15.97 L240.92,15.84 L241.05,15.71 L241.19,15.58 L241.33,15.45 L241.46,15.32 L241.6,15.2 L241.74,15.08 L241.88,14.95 L242.01,14.83 L242.15,14.72 L242.29,14.6 L242.42,14.48 L242.56,14.37 L242.7,14.26 L242.84,14.15 L242.97,14.04 L243.11,13.93 L243.25,13.82 L243.38,13.72 L243.52,13.62 L243.66,13.52 L243.8,13.41 L243.93,13.32 L244.07,13.22 L244.21,13.12 L244.34,13.03 L244.48,12.93 L244.62,12.84 L244.76,12.75 L244.89,12.66 L245.03,12.57 L245.17,12.49 L245.3,12.4 L245.44,12.32 L245.58,12.23 L245.72,12.15 L245.85,12.07 L245.99,11.99 L246.13,11.91 L246.26,11.84 L246.4,11.76 L246.54,11.69 L246.68,11.61 L246.81,11.54 L246.95,11.47 L247.09,11.4 L247.22,11.33 L247.36,11.26 L247.5,11.19 L247.64,11.13 L247.77,11.06 L247.91,11 L248.05,10.93 L248.18,10.87 L248.32,10.81 L248.46,10.75 L248.6,10.69 L248.73,10.63 L248.87,10.57 L249.01,10.51 L249.14,10.45 L249.28,10.39 L249.42,10.34 L249.56,10.28 L249.69,10.22 L249.83,10.17 L249.97,10.11 L250.1,10.06 L250.24,10.01 L250.38,9.95 L250.52,9.9 L250.65,9.85 L250.79,9.79 L250.93,9.74 L251.06,9.69 L251.2,9.64 L251.34,9.58 L251.48,9.53 L251.61,9.48 L251.75,9.43 L251.89,9.38 L252.02,9.33 L252.16,9.27 L252.3,9.22 L252.44,9.17 L252.57,9.12 L252.71,9.07 L252.85,9.01 L252.98,8.96 L253.12,8.91 L253.26,8.86 L253.4,8.8 L253.53,8.75 L253.67,8.69 L253.81,8.64 L253.94,8.59 L254.08,8.53 L254.22,8.47 L254.36,8.42 L254.49,8.36 L254.63,8.3 L254.77,8.25 L254.9,8.19 L255.04,8.13 L255.18,8.07 L255.32,8.01 L255.45,7.95 L255.59,7.88 L255.73,7.82 L255.86,7.76 L256,7.7 L256.14,7.64 L256.28,7.58 L256.41,7.53 L256.55,7.47 L256.69,7.41 L256.82,7.35 L256.96,7.29 L257.1,7.24 L257.24,7.18 L257.37,7.12 L257.51,7.07 L257.65,7.01 L257.78,6.95 L257.92,6.89 L258.06,6.84 L258.2,6.78 L258.33,6.72 L258.47,6.66 L258.61,6.6 L258.74,6.55 L258.88,6.49 L259.02,6.43 L259.16,6.37 L259.29,6.3 L259.43,6.24 L259.57,6.18 L259.7,6.12 L259.84,6.05 L259.98,5.99 L260.12,5.92 L260.25,5.86 L260.39,5.79 L260.53,5.72 L260.66,5.65 L260.8,5.58 L260.94,5.51 L261.08,5.43 L261.21,5.36 L261.35,5.28 L261.49,5.2 L261.62,5.12 L261.76,5.04 L261.9,4.96 L262.04,4.88 L262.17,4.79 L262.31,4.7 L262.45,4.62 L262.58,4.53 L262.72,4.43 L262.86,4.33 L263,4.23 L263.13,4.12 L263.27,4.01 L263.41,3.9 L263.54,3.78 L263.68,3.65 L263.82,3.53 L263.96,3.4 L264.09,3.27 L264.23,3.14 L264.37,3 L264.5,2.86 L264.64,2.72 L264.78,2.58 L264.92,2.43 L265.05,2.29 L265.19,2.14 L265.33,1.99 L265.46,1.84 L265.6,1.68 L265.74,1.53 L265.88,1.38 L266.01,1.22 L266.15,1.07" fill="none" stroke="#000" stroke-width="1.6"/><path d="M211.43,71.13 L211.57,71.06 L211.7,70.98 L211.84,70.91 L211.98,70.83 L212.12,70.76 L212.25,70.68 L212.39,70.61 L212.53,70.53 L212.66,70.46 L212.8,70.38 L212.94,70.31 L213.08,70.23 L213.21,70.16 L213.35,70.08 L213.49,70.01 L213.62,69.94 L213.76,69.86 L213.9,69.79 L214.04,69.71 L214.17,69.64 L214.31,69.57 L214.45,69.49 L214.58,69.42 L214.72,69.35 L214.86,69.28 L215,69.2 L215.13,69.13 L215.27,69.06 L215.41,68.99 L215.54,68.91 L215.68,68.84 L215.82,68.77 L215.96,68.7 L216.09,68.63 L216.23,68.55 L216.37,68.48 L216.5,68.41 L216.64,68.34 L216.78,68.27 L216.92,68.2 L217.05,68.13 L217.19,68.06 L217.33,67.99 L217.46,67.92 L217.6,67.85 L217.74,67.77 L217.88,67.7 L218.01,67.63 L218.15,67.57 L218.29,67.5 L218.42,67.43 L218.56,67.36 L218.7,67.29 L218.84,67.22 L218.97,67.15 L219.11,67.08 L219.25,67.01 L219.38,66.94 L219.52,66.88 L219.66,66.81 L219.8,66.74 L219.93,66.67 L220.07,66.6 L220.21,66.54 L220.34,66.47 L220.48,66.4 L220.62,66.34 L220.76,66.27 L220.89,66.2 L221.03,66.14 L221.17,66.07 L221.3,66.01 L221.44,65.94 L221.58,65.88 L221.72,65.82 L221.85,65.75 L221.99,65.69 L222.13,65.63 L222.26,65.56 L222.4,65.5 L222.54,65.44 L222.68,65.38 L222.81,65.31 L222.95,65.25 L223.09,65.19 L223.22,65.13 L223.36,65.07 L223.5,65 L223.64,64.94 L223.77,64.88 L223.91,64.82 L224.05,64.76 L224.18,64.7 L224.32,64.64 L224.46,64.58 L224.6,64.52 L224.73,64.45 L224.87,64.39 L225.01,64.33 L225.14,64.27 L225.28,64.21 L225.42,64.15 L225.56,64.09 L225.69,64.02 L225.83,63.96 L225.97,63.9 L226.1,63.84 L226.24,63.78 L226.38,63.71 L226.52,63.65 L226.65,63.59 L226.79,63.53 L226.93,63.46 L227.06,63.4 L227.2,63.34 L227.34,63.27 L227.48,63.21 L227.61,63.14 L227.75,63.08 L227.89,63.01 L228.02,62.95 L228.16,62.88 L228.3,62.82 L228.44,62.75 L228.57,62.68 L228.71,62.61 L228.85,62.55 L228.98,62.48 L229.12,62.41 L229.26,62.34 L229.4,62.27 L229.53,62.2 L229.67,62.13 L229.81,62.06 L229.94,61.99 L230.08,61.92 L230.22,61.85 L230.36,61.78 L230.49,61.7 L230.63,61.63 L230.77,61.56 L230.9,61.49 L231.04,61.42 L231.18,61.34 L231.32,61.27 L231.45,61.2 L231.59,61.12 L231.73,61.05 L231.86,60.98 L232,60.9 L232.14,60.83 L232.28,60.75 L232.41,60.67 L232.55,60.6 L232.69,60.52 L232.82,60.45 L232.96,60.37 L233.1,60.29 L233.24,60.21 L233.37,60.13 L233.51,60.05 L233.65,59.97 L233.78,59.89 L233.92,59.81 L234.06,59.73 L234.2,59.65 L234.33,59.57 L234.47,59.49 L234.61,59.4 L234.74,59.32 L234.88,59.23 L235.02,59.15 L235.16,59.06 L235.29,58.98 L235.43,58.89 L235.57,58.8 L235.7,58.73 L235.84,58.66 L235.98,58.59 L236.12,58.53 L236.25,58.48 L236.39,58.43 L236.53,58.37 L236.66,58.32 L236.8,58.26 L236.94,58.2 L237.08,58.13 L237.21,58.05 L237.35,57.96 L237.49,57.86 L237.62,57.74 L237.76,57.61 L237.9,57.47 L238.04,57.3 L238.17,57.11 L238.31,56.9 L238.45,56.5 L238.58,55.07 L238.72,54.02 L238.86,53.66 L239,53.4 L239.13,53.2 L239.27,53.03 L239.41,52.87 L239.54,52.7 L239.68,52.53 L239.82,52.36 L239.96,52.2 L240.09,52.05 L240.23,51.9 L240.37,51.76 L240.5,51.62 L240.64,51.48 L240.78,51.35 L240.92,51.23 L241.05,51.1 L241.19,50.97 L241.33,50.85 L241.46,50.72 L241.6,50.6 L241.74,50.47 L241.88,50.34 L242.01,50.21 L242.15,50.07 L242.29,49.93 L242.42,49.79 L242.56,49.64 L242.7,49.48 L242.84,49.32 L242.97,49.15 L243.11,48.99 L243.25,48.82 L243.38,48.65 L243.52,48.48 L243.66,48.31 L243.8,48.14 L243.93,47.96 L244.07,47.79 L244.21,47.61 L244.34,47.43 L244.48,47.24 L244.62,47.05 L244.76,46.86 L244.89,46.67 L245.03,46.47 L245.17,46.27 L245.3,46.07 L245.44,45.86 L245.58,45.64 L245.72,45.43 L245.85,45.2 L245.99,44.98 L246.13,44.74 L246.26,44.51 L246.4,44.26 L246.54,44.01 L246.68,43.76 L246.81,43.5 L246.95,43.23 L247.09,42.95 L247.22,42.65 L247.36,42.34 L247.5,42.01 L247.64,41.67 L247.77,41.32 L247.91,40.96 L248.05,40.59 L248.18,40.21 L248.32,39.82 L248.46,39.42 L248.6,39.02 L248.73,38.61 L248.87,38.2 L249.01,37.79 L249.14,37.37 L249.28,36.94 L249.42,36.52 L249.56,36.1 L249.69,35.67 L249.83,35.25 L249.97,34.83 L250.1,34.41 L250.24,34 L250.38,33.58 L250.52,33.16 L250.65,32.73 L250.79,32.29 L250.93,31.85 L251.06,31.41 L251.2,30.96 L251.34,30.51 L251.48,30.06 L251.61,29.6 L251.75,29.14 L251.89,28.69 L252.02,28.23 L252.16,27.78 L252.3,27.32 L252.44,26.87 L252.57,26.43 L252.71,25.98 L252.85,25.55 L252.98,25.11 L253.12,24.67 L253.26,24.23 L253.4,23.78 L253.53,23.33 L253.67,22.88 L253.81,22.42 L253.94,21.97 L254.08,21.51 L254.22,21.05 L254.36,20.6 L254.49,20.15 L254.63,19.71 L254.77,19.27 L254.9,18.84 L255.04,18.42 L255.18,18.01 L255.32,17.6 L255.45,17.21 L255.59,16.83 L255.73,16.46 L255.86,16.11 L256,15.77 L256.14,15.45 L256.28,15.15 L256.41,14.84 L256.55,14.55 L256.69,14.26 L256.82,13.98 L256.96,13.7 L257.1,13.42 L257.24,13.16 L257.37,12.89 L257.51,12.64 L257.65,12.38 L257.78,12.13 L257.92,11.89 L258.06,11.65 L258.2,11.41 L258.33,11.18 L258.47,10.95 L258.61,10.72 L258.74,10.5 L258.88,10.28 L259.02,10.06 L259.16,9.85 L259.29,9.64 L259.43,9.43 L259.57,9.22 L259.7,9.01 L259.84,8.81 L259.98,8.61 L260.12,8.41 L260.25,8.21 L260.39,8.01 L260.53,7.81 L260.66,7.61 L260.8,7.42 L260.94,7.22 L261.08,7.03 L261.21,6.84 L261.35,6.65 L261.49,6.46 L261.62,6.27 L261.76,6.08 L261.9,5.9 L262.04,5.71 L262.17,5.53 L262.31,5.35 L262.45,5.17 L262.58,4.99 L262.72,4.82 L262.86,4.64 L263,4.47 L263.13,4.3 L263.27,4.13 L263.41,3.96 L263.54,3.8 L263.68,3.64 L263.82,3.47 L263.96,3.32 L264.09,3.16 L264.23,3 L264.37,2.85 L264.5,2.7 L264.64,2.55 L264.78,2.4 L264.92,2.26 L265.05,2.12 L265.19,1.98 L265.33,1.84 L265.46,1.7 L265.6,1.57 L265.74,1.44 L265.88,1.31 L266.01,1.19 L266.15,1.07" fill="none" stroke="#000" stroke-width="1.6"/><circle cx="211.43" cy="71.13" r="1.25" fill="#fff" stroke="#000" stroke-width="0.75"/><circle cx="214.15" cy="68.75" r="1.25" fill="#fff" stroke="#000" stroke-width="0.75"/><circle cx="216.86" cy="66.32" r="1.25" fill="#fff" stroke="#000" stroke-width="0.75"/><circle cx="219.58" cy="64.02" r="1.25" fill="#fff" stroke="#000" stroke-width="0.75"/><circle cx="222.28" cy="61.44" r="1.25" fill="#fff" stroke="#000" stroke-width="0.75"/><circle cx="224.75" cy="56.9" r="1.25" fill="#fff" stroke="#000" stroke-width="0.75"/><circle cx="227.11" cy="51.62" r="1.25" fill="#fff" stroke="#000" stroke-width="0.75"/><circle cx="229.36" cy="45.82" r="1.25" fill="#fff" stroke="#000" stroke-width="0.75"/><circle cx="231.35" cy="38.95" r="1.25" fill="#fff" stroke="#000" stroke-width="0.75"/><circle cx="233" cy="31.08" r="1.25" fill="#fff" stroke="#000" stroke-width="0.75"/><circle cx="235.22" cy="25.07" r="1.25" fill="#fff" stroke="#000" stroke-width="0.75"/><circle cx="237.6" cy="19.97" r="1.25" fill="#fff" stroke="#000" stroke-width="0.75"/><circle cx="240.22" cy="16.54" r="1.25" fill="#fff" stroke="#000" stroke-width="0.75"/><circle cx="242.93" cy="14.07" r="1.25" fill="#fff" stroke="#000" stroke-width="0.75"/><circle cx="245.67" cy="12.18" r="1.25" fill="#fff" stroke="#000" stroke-width="0.75"/><circle cx="248.44" cy="10.75" r="1.25" fill="#fff" stroke="#000" stroke-width="0.75"/><circle cx="251.23" cy="9.63" r="1.25" fill="#fff" stroke="#000" stroke-width="0.75"/><circle cx="254.01" cy="8.56" r="1.25" fill="#fff" stroke="#000" stroke-width="0.75"/><circle cx="256.79" cy="7.37" r="1.25" fill="#fff" stroke="#000" stroke-width="0.75"/><circle cx="259.57" cy="6.18" r="1.25" fill="#fff" stroke="#000" stroke-width="0.75"/><circle cx="262.33" cy="4.69" r="1.25" fill="#fff" stroke="#000" stroke-width="0.75"/><circle cx="265.05" cy="2.29" r="1.25" fill="#fff" stroke="#000" stroke-width="0.75"/><circle cx="211.43" cy="71.13" r="1.25" fill="#fff" stroke="#000" stroke-width="0.75"/><circle cx="214.2" cy="69.63" r="1.25" fill="#fff" stroke="#000" stroke-width="0.75"/><circle cx="216.97" cy="68.17" r="1.25" fill="#fff" stroke="#000" stroke-width="0.75"/><circle cx="219.74" cy="66.77" r="1.25" fill="#fff" stroke="#000" stroke-width="0.75"/><circle cx="222.51" cy="65.45" r="1.25" fill="#fff" stroke="#000" stroke-width="0.75"/><circle cx="225.29" cy="64.21" r="1.25" fill="#fff" stroke="#000" stroke-width="0.75"/><circle cx="228.06" cy="62.93" r="1.25" fill="#fff" stroke="#000" stroke-width="0.75"/><circle cx="230.84" cy="61.52" r="1.25" fill="#fff" stroke="#000" stroke-width="0.75"/><circle cx="233.6" cy="60" r="1.25" fill="#fff" stroke="#000" stroke-width="0.75"/><circle cx="236.37" cy="58.44" r="1.25" fill="#fff" stroke="#000" stroke-width="0.75"/><circle cx="238.66" cy="54.48" r="1.25" fill="#fff" stroke="#000" stroke-width="0.75"/><circle cx="241.22" cy="50.95" r="1.25" fill="#fff" stroke="#000" stroke-width="0.75"/><circle cx="243.89" cy="48.02" r="1.25" fill="#fff" stroke="#000" stroke-width="0.75"/><circle cx="246.46" cy="44.16" r="1.25" fill="#fff" stroke="#000" stroke-width="0.75"/><circle cx="248.75" cy="38.57" r="1.25" fill="#fff" stroke="#000" stroke-width="0.75"/><circle cx="250.85" cy="32.1" r="1.25" fill="#fff" stroke="#000" stroke-width="0.75"/><circle cx="252.89" cy="25.4" r="1.25" fill="#fff" stroke="#000" stroke-width="0.75"/><circle cx="254.94" cy="18.72" r="1.25" fill="#fff" stroke="#000" stroke-width="0.75"/><circle cx="257.24" cy="13.15" r="1.25" fill="#fff" stroke="#000" stroke-width="0.75"/><circle cx="259.76" cy="8.93" r="1.25" fill="#fff" stroke="#000" stroke-width="0.75"/><circle cx="262.36" cy="5.28" r="1.25" fill="#fff" stroke="#000" stroke-width="0.75"/><circle cx="265.01" cy="2.16" r="1.25" fill="#fff" stroke="#000" stroke-width="0.75"/><path d="M211.43,71.35 L211.57,71.24 L211.7,71.14 L211.84,71.03 L211.98,70.92 L212.12,70.81 L212.25,70.7 L212.39,70.59 L212.53,70.48 L212.66,70.37 L212.8,70.26 L212.94,70.14 L213.08,70.03 L213.21,69.92 L213.35,69.8 L213.49,69.68 L213.62,69.57 L213.76,69.45 L213.9,69.33 L214.04,69.22 L214.17,69.1 L214.31,68.98 L214.45,68.86 L214.58,68.74 L214.72,68.62 L214.86,68.5 L215,68.37 L215.13,68.25 L215.27,68.13 L215.41,68 L215.54,67.88 L215.68,67.76 L215.82,67.63 L215.96,67.51 L216.09,67.38 L216.23,67.25 L216.37,67.13 L216.5,67 L216.64,66.87 L216.78,66.74 L216.92,66.61 L217.05,66.49 L217.19,66.36 L217.33,66.23 L217.46,66.1 L217.6,65.97 L217.74,65.84 L217.88,65.71 L218.01,65.58 L218.15,65.46 L218.29,65.33 L218.42,65.21 L218.56,65.08 L218.7,64.95 L218.84,64.82 L218.97,64.7 L219.11,64.57 L219.25,64.44 L219.38,64.3 L219.52,64.17 L219.66,64.03 L219.8,63.89 L219.93,63.75 L220.07,63.61 L220.21,63.46 L220.34,63.31 L220.48,63.16 L220.62,63 L220.76,62.84 L220.89,62.68 L221.03,62.51 L221.17,62.34 L221.3,62.16 L221.44,61.98 L221.58,61.79 L221.72,61.59 L221.85,61.39 L221.99,61.18 L222.13,60.97 L222.26,60.74 L222.4,60.51 L222.54,60.28 L222.68,60.04 L222.81,59.79 L222.95,59.54 L223.09,59.28 L223.22,59.02 L223.36,58.75 L223.5,58.48 L223.64,58.2 L223.77,57.91 L223.91,57.63 L224.05,57.34 L224.18,57.04 L224.32,56.74 L224.46,56.43 L224.6,56.13 L224.73,55.81 L224.87,55.5 L225.01,55.18 L225.14,54.85 L225.28,54.52 L225.42,54.18 L225.56,53.83 L225.69,53.48 L225.83,53.11 L225.97,52.74 L226.1,52.36 L226.24,51.96 L226.38,51.56 L226.52,51.15 L226.65,50.72 L226.79,50.28 L226.93,49.83 L227.06,49.37 L227.2,48.89 L227.34,48.4 L227.48,47.9 L227.61,47.34 L227.75,46.74 L227.89,46.09 L228.02,45.4 L228.16,44.69 L228.3,43.95 L228.44,43.2 L228.57,42.43 L228.71,41.66 L228.85,40.9 L228.98,40.14 L229.12,39.4 L229.26,38.69 L229.4,38 L229.53,37.36 L229.67,36.75 L229.81,36.19 L229.94,35.67 L230.08,35.19 L230.22,34.72 L230.36,34.27 L230.49,33.82 L230.63,33.38 L230.77,32.93 L230.9,32.46 L231.04,31.97 L231.18,31.45 L231.32,30.88 L231.45,30.28 L231.59,29.59 L231.73,28.75 L231.86,27.79 L232,26.75 L232.14,25.7 L232.28,24.67 L232.41,23.72 L232.55,22.9 L232.69,22.26 L232.82,21.77 L232.96,21.3 L233.1,20.87 L233.24,20.45 L233.37,20.06 L233.51,19.7 L233.65,19.36 L233.78,19.04 L233.92,18.74 L234.06,18.46 L234.2,18.2 L234.33,17.96 L234.47,17.74 L234.61,17.53 L234.74,17.34 L234.88,17.16 L235.02,17 L235.16,16.84 L235.29,16.7 L235.43,16.56 L235.57,16.43 L235.7,16.3 L235.84,16.18 L235.98,16.07 L236.12,15.96 L236.25,15.85 L236.39,15.74 L236.53,15.64 L236.66,15.53 L236.8,15.42 L236.94,15.31 L237.08,15.2 L237.21,15.09 L237.35,14.99 L237.49,14.88 L237.62,14.77 L237.76,14.67 L237.9,14.57 L238.04,14.47 L238.17,14.37 L238.31,14.27 L238.45,14.17 L238.58,14.07 L238.72,13.98 L238.86,13.88 L239,13.79 L239.13,13.7 L239.27,13.61 L239.41,13.52 L239.54,13.43 L239.68,13.34 L239.82,13.26 L239.96,13.18 L240.09,13.1 L240.23,13.02 L240.37,12.94 L240.5,12.86 L240.64,12.79 L240.78,12.71 L240.92,12.64 L241.05,12.57 L241.19,12.5 L241.33,12.43 L241.46,12.37 L241.6,12.3 L241.74,12.24 L241.88,12.17 L242.01,12.11 L242.15,12.05 L242.29,11.98 L242.42,11.92 L242.56,11.86 L242.7,11.8 L242.84,11.74 L242.97,11.69 L243.11,11.63 L243.25,11.57 L243.38,11.52 L243.52,11.46 L243.66,11.41 L243.8,11.35 L243.93,11.3 L244.07,11.24 L244.21,11.19 L244.34,11.14 L244.48,11.09 L244.62,11.03 L244.76,10.98 L244.89,10.93 L245.03,10.88 L245.17,10.83 L245.3,10.78 L245.44,10.73 L245.58,10.67 L245.72,10.62 L245.85,10.57 L245.99,10.52 L246.13,10.47 L246.26,10.42 L246.4,10.37 L246.54,10.32 L246.68,10.27 L246.81,10.22 L246.95,10.17 L247.09,10.11 L247.22,10.06 L247.36,10.01 L247.5,9.96 L247.64,9.91 L247.77,9.85 L247.91,9.8 L248.05,9.75 L248.18,9.69 L248.32,9.64 L248.46,9.58 L248.6,9.52 L248.73,9.47 L248.87,9.41 L249.01,9.35 L249.14,9.3 L249.28,9.24 L249.42,9.18 L249.56,9.13 L249.69,9.07 L249.83,9.01 L249.97,8.96 L250.1,8.9 L250.24,8.85 L250.38,8.79 L250.52,8.73 L250.65,8.68 L250.79,8.62 L250.93,8.57 L251.06,8.51 L251.2,8.45 L251.34,8.4 L251.48,8.34 L251.61,8.29 L251.75,8.23 L251.89,8.17 L252.02,8.12 L252.16,8.06 L252.3,8.01 L252.44,7.95 L252.57,7.89 L252.71,7.84 L252.85,7.78 L252.98,7.73 L253.12,7.67 L253.26,7.61 L253.4,7.56 L253.53,7.5 L253.67,7.44 L253.81,7.38 L253.94,7.33 L254.08,7.27 L254.22,7.21 L254.36,7.15 L254.49,7.1 L254.63,7.04 L254.77,6.98 L254.9,6.92 L255.04,6.86 L255.18,6.8 L255.32,6.74 L255.45,6.69 L255.59,6.63 L255.73,6.57 L255.86,6.51 L256,6.44 L256.14,6.38 L256.28,6.32 L256.41,6.26 L256.55,6.2 L256.69,6.14 L256.82,6.08 L256.96,6.01 L257.1,5.95 L257.24,5.89 L257.37,5.82 L257.51,5.76 L257.65,5.7 L257.78,5.63 L257.92,5.57 L258.06,5.5 L258.2,5.43 L258.33,5.37 L258.47,5.3 L258.61,5.24 L258.74,5.17 L258.88,5.1 L259.02,5.03 L259.16,4.96 L259.29,4.9 L259.43,4.83 L259.57,4.76 L259.7,4.69 L259.84,4.62 L259.98,4.55 L260.12,4.48 L260.25,4.4 L260.39,4.33 L260.53,4.26 L260.66,4.19 L260.8,4.12 L260.94,4.04 L261.08,3.97 L261.21,3.9 L261.35,3.82 L261.49,3.75 L261.62,3.67 L261.76,3.6 L261.9,3.53 L262.04,3.45 L262.17,3.37 L262.31,3.3 L262.45,3.22 L262.58,3.15 L262.72,3.07 L262.86,2.99 L263,2.91 L263.13,2.84 L263.27,2.76 L263.41,2.68 L263.54,2.6 L263.68,2.52 L263.82,2.45 L263.96,2.37 L264.09,2.29 L264.23,2.21 L264.37,2.13 L264.5,2.05 L264.64,1.97 L264.78,1.89 L264.92,1.8 L265.05,1.72 L265.19,1.64 L265.33,1.56 L265.46,1.48 L265.6,1.4 L265.74,1.31 L265.88,1.23 L266.01,1.15 L266.15,1.07" fill="none" stroke="#ff0000" stroke-width="1.4"/><path d="M211.43,71.35 L211.57,71.29 L211.7,71.22 L211.84,71.16 L211.98,71.1 L212.12,71.03 L212.25,70.97 L212.39,70.9 L212.53,70.84 L212.66,70.78 L212.8,70.71 L212.94,70.65 L213.08,70.59 L213.21,70.52 L213.35,70.46 L213.49,70.4 L213.62,70.34 L213.76,70.27 L213.9,70.21 L214.04,70.15 L214.17,70.08 L214.31,70.02 L214.45,69.96 L214.58,69.89 L214.72,69.83 L214.86,69.77 L215,69.71 L215.13,69.64 L215.27,69.58 L215.41,69.52 L215.54,69.46 L215.68,69.4 L215.82,69.33 L215.96,69.27 L216.09,69.21 L216.23,69.15 L216.37,69.08 L216.5,69.02 L216.64,68.96 L216.78,68.9 L216.92,68.84 L217.05,68.78 L217.19,68.71 L217.33,68.65 L217.46,68.59 L217.6,68.53 L217.74,68.47 L217.88,68.41 L218.01,68.35 L218.15,68.28 L218.29,68.22 L218.42,68.16 L218.56,68.1 L218.7,68.04 L218.84,67.98 L218.97,67.92 L219.11,67.86 L219.25,67.8 L219.38,67.74 L219.52,67.68 L219.66,67.62 L219.8,67.56 L219.93,67.49 L220.07,67.43 L220.21,67.37 L220.34,67.31 L220.48,67.25 L220.62,67.19 L220.76,67.14 L220.89,67.08 L221.03,67.02 L221.17,66.96 L221.3,66.9 L221.44,66.84 L221.58,66.78 L221.72,66.72 L221.85,66.67 L221.99,66.61 L222.13,66.55 L222.26,66.49 L222.4,66.44 L222.54,66.38 L222.68,66.32 L222.81,66.26 L222.95,66.21 L223.09,66.15 L223.22,66.09 L223.36,66.03 L223.5,65.98 L223.64,65.92 L223.77,65.86 L223.91,65.81 L224.05,65.75 L224.18,65.69 L224.32,65.63 L224.46,65.58 L224.6,65.52 L224.73,65.46 L224.87,65.41 L225.01,65.35 L225.14,65.29 L225.28,65.23 L225.42,65.18 L225.56,65.12 L225.69,65.06 L225.83,65.01 L225.97,64.95 L226.1,64.89 L226.24,64.83 L226.38,64.77 L226.52,64.72 L226.65,64.66 L226.79,64.6 L226.93,64.54 L227.06,64.48 L227.2,64.43 L227.34,64.37 L227.48,64.31 L227.61,64.25 L227.75,64.19 L227.89,64.13 L228.02,64.07 L228.16,64.01 L228.3,63.95 L228.44,63.89 L228.57,63.83 L228.71,63.77 L228.85,63.71 L228.98,63.65 L229.12,63.58 L229.26,63.52 L229.4,63.46 L229.53,63.4 L229.67,63.34 L229.81,63.27 L229.94,63.21 L230.08,63.15 L230.22,63.09 L230.36,63.03 L230.49,62.96 L230.63,62.9 L230.77,62.84 L230.9,62.78 L231.04,62.72 L231.18,62.66 L231.32,62.59 L231.45,62.53 L231.59,62.47 L231.73,62.41 L231.86,62.35 L232,62.29 L232.14,62.22 L232.28,62.16 L232.41,62.1 L232.55,62.04 L232.69,61.97 L232.82,61.91 L232.96,61.85 L233.1,61.78 L233.24,61.72 L233.37,61.66 L233.51,61.59 L233.65,61.53 L233.78,61.47 L233.92,61.4 L234.06,61.34 L234.2,61.27 L234.33,61.21 L234.47,61.14 L234.61,61.07 L234.74,61.01 L234.88,60.94 L235.02,60.87 L235.16,60.81 L235.29,60.74 L235.43,60.67 L235.57,60.6 L235.7,60.53 L235.84,60.46 L235.98,60.39 L236.12,60.32 L236.25,60.25 L236.39,60.18 L236.53,60.11 L236.66,60.04 L236.8,59.96 L236.94,59.89 L237.08,59.81 L237.21,59.74 L237.35,59.66 L237.49,59.59 L237.62,59.51 L237.76,59.43 L237.9,59.36 L238.04,59.28 L238.17,59.2 L238.31,59.12 L238.45,59.04 L238.58,58.96 L238.72,58.88 L238.86,58.79 L239,58.71 L239.13,58.63 L239.27,58.54 L239.41,58.46 L239.54,58.37 L239.68,58.29 L239.82,58.2 L239.96,58.11 L240.09,58.02 L240.23,57.93 L240.37,57.84 L240.5,57.75 L240.64,57.66 L240.78,57.56 L240.92,57.47 L241.05,57.37 L241.19,57.27 L241.33,57.17 L241.46,57.07 L241.6,56.97 L241.74,56.86 L241.88,56.76 L242.01,56.65 L242.15,56.54 L242.29,56.43 L242.42,56.32 L242.56,56.2 L242.7,56.09 L242.84,55.97 L242.97,55.85 L243.11,55.74 L243.25,55.62 L243.38,55.51 L243.52,55.39 L243.66,55.27 L243.8,55.15 L243.93,55.04 L244.07,54.91 L244.21,54.79 L244.34,54.66 L244.48,54.54 L244.62,54.4 L244.76,54.27 L244.89,54.13 L245.03,53.98 L245.17,53.83 L245.3,53.68 L245.44,53.52 L245.58,53.35 L245.72,53.18 L245.85,53 L245.99,52.82 L246.13,52.63 L246.26,52.43 L246.4,52.22 L246.54,52 L246.68,51.78 L246.81,51.54 L246.95,51.29 L247.09,51.01 L247.22,50.68 L247.36,50.33 L247.5,49.94 L247.64,49.52 L247.77,49.07 L247.91,48.6 L248.05,48.1 L248.18,47.58 L248.32,47.05 L248.46,46.5 L248.6,45.93 L248.73,45.36 L248.87,44.77 L249.01,44.18 L249.14,43.58 L249.28,42.98 L249.42,42.37 L249.56,41.77 L249.69,41.12 L249.83,40.42 L249.97,39.67 L250.1,38.89 L250.24,38.08 L250.38,37.25 L250.52,36.42 L250.65,35.59 L250.79,34.78 L250.93,33.99 L251.06,33.23 L251.2,32.51 L251.34,31.84 L251.48,31.24 L251.61,30.7 L251.75,30.21 L251.89,29.76 L252.02,29.34 L252.16,28.94 L252.3,28.53 L252.44,28.11 L252.57,27.66 L252.71,27.16 L252.85,26.61 L252.98,25.99 L253.12,25.3 L253.26,24.55 L253.4,23.76 L253.53,22.94 L253.67,22.1 L253.81,21.26 L253.94,20.42 L254.08,19.59 L254.22,18.8 L254.36,18.05 L254.49,17.35 L254.63,16.72 L254.77,16.16 L254.9,15.67 L255.04,15.2 L255.18,14.74 L255.32,14.3 L255.45,13.88 L255.59,13.47 L255.73,13.08 L255.86,12.71 L256,12.35 L256.14,12.01 L256.28,11.69 L256.41,11.39 L256.55,11.1 L256.69,10.83 L256.82,10.58 L256.96,10.34 L257.1,10.1 L257.24,9.86 L257.37,9.64 L257.51,9.41 L257.65,9.19 L257.78,8.98 L257.92,8.77 L258.06,8.57 L258.2,8.37 L258.33,8.17 L258.47,7.98 L258.61,7.79 L258.74,7.61 L258.88,7.43 L259.02,7.25 L259.16,7.08 L259.29,6.91 L259.43,6.75 L259.57,6.58 L259.7,6.42 L259.84,6.27 L259.98,6.11 L260.12,5.96 L260.25,5.81 L260.39,5.67 L260.53,5.53 L260.66,5.38 L260.8,5.25 L260.94,5.11 L261.08,4.97 L261.21,4.84 L261.35,4.71 L261.49,4.58 L261.62,4.45 L261.76,4.32 L261.9,4.2 L262.04,4.07 L262.17,3.95 L262.31,3.82 L262.45,3.7 L262.58,3.58 L262.72,3.46 L262.86,3.34 L263,3.23 L263.13,3.11 L263.27,3 L263.41,2.89 L263.54,2.78 L263.68,2.67 L263.82,2.57 L263.96,2.46 L264.09,2.36 L264.23,2.26 L264.37,2.16 L264.5,2.06 L264.64,1.97 L264.78,1.87 L264.92,1.78 L265.05,1.7 L265.19,1.61 L265.33,1.52 L265.46,1.44 L265.6,1.36 L265.74,1.28 L265.88,1.21 L266.01,1.14 L266.15,1.07" fill="none" stroke="#ff0000" stroke-width="1.4"/><circle cx="211.43" cy="71.35" r="1.5" fill="#fff" stroke="#ff0000" stroke-width="0.8"/><circle cx="214.16" cy="69.11" r="1.5" fill="#fff" stroke="#ff0000" stroke-width="0.8"/><circle cx="216.87" cy="66.66" r="1.5" fill="#fff" stroke="#ff0000" stroke-width="0.8"/><circle cx="219.57" cy="64.12" r="1.5" fill="#fff" stroke="#ff0000" stroke-width="0.8"/><circle cx="222.21" cy="60.84" r="1.5" fill="#fff" stroke="#ff0000" stroke-width="0.8"/><circle cx="224.64" cy="56.02" r="1.5" fill="#fff" stroke="#ff0000" stroke-width="0.8"/><circle cx="226.86" cy="50.06" r="1.5" fill="#fff" stroke="#ff0000" stroke-width="0.8"/><circle cx="228.58" cy="42.38" r="1.5" fill="#fff" stroke="#ff0000" stroke-width="0.8"/><circle cx="230.26" cy="34.58" r="1.5" fill="#fff" stroke="#ff0000" stroke-width="0.8"/><circle cx="231.97" cy="26.96" r="1.5" fill="#fff" stroke="#ff0000" stroke-width="0.8"/><circle cx="233.65" cy="19.35" r="1.5" fill="#fff" stroke="#ff0000" stroke-width="0.8"/><circle cx="236.25" cy="15.86" r="1.5" fill="#fff" stroke="#ff0000" stroke-width="0.8"/><circle cx="238.98" cy="13.8" r="1.5" fill="#fff" stroke="#ff0000" stroke-width="0.8"/><circle cx="241.75" cy="12.23" r="1.5" fill="#fff" stroke="#ff0000" stroke-width="0.8"/><circle cx="244.53" cy="11.07" r="1.5" fill="#fff" stroke="#ff0000" stroke-width="0.8"/><circle cx="247.31" cy="10.03" r="1.5" fill="#fff" stroke="#ff0000" stroke-width="0.8"/><circle cx="250.09" cy="8.91" r="1.5" fill="#fff" stroke="#ff0000" stroke-width="0.8"/><circle cx="252.87" cy="7.77" r="1.5" fill="#fff" stroke="#ff0000" stroke-width="0.8"/><circle cx="255.65" cy="6.6" r="1.5" fill="#fff" stroke="#ff0000" stroke-width="0.8"/><circle cx="258.43" cy="5.32" r="1.5" fill="#fff" stroke="#ff0000" stroke-width="0.8"/><circle cx="261.2" cy="3.9" r="1.5" fill="#fff" stroke="#ff0000" stroke-width="0.8"/><circle cx="263.97" cy="2.36" r="1.5" fill="#fff" stroke="#ff0000" stroke-width="0.8"/><circle cx="211.43" cy="71.35" r="1.5" fill="#fff" stroke="#ff0000" stroke-width="0.8"/><circle cx="214.21" cy="70.07" r="1.5" fill="#fff" stroke="#ff0000" stroke-width="0.8"/><circle cx="216.98" cy="68.81" r="1.5" fill="#fff" stroke="#ff0000" stroke-width="0.8"/><circle cx="219.76" cy="67.57" r="1.5" fill="#fff" stroke="#ff0000" stroke-width="0.8"/><circle cx="222.54" cy="66.38" r="1.5" fill="#fff" stroke="#ff0000" stroke-width="0.8"/><circle cx="225.32" cy="65.22" r="1.5" fill="#fff" stroke="#ff0000" stroke-width="0.8"/><circle cx="228.1" cy="64.04" r="1.5" fill="#fff" stroke="#ff0000" stroke-width="0.8"/><circle cx="230.88" cy="62.79" r="1.5" fill="#fff" stroke="#ff0000" stroke-width="0.8"/><circle cx="233.65" cy="61.53" r="1.5" fill="#fff" stroke="#ff0000" stroke-width="0.8"/><circle cx="236.43" cy="60.16" r="1.5" fill="#fff" stroke="#ff0000" stroke-width="0.8"/><circle cx="239.19" cy="58.59" r="1.5" fill="#fff" stroke="#ff0000" stroke-width="0.8"/><circle cx="241.94" cy="56.71" r="1.5" fill="#fff" stroke="#ff0000" stroke-width="0.8"/><circle cx="244.66" cy="54.37" r="1.5" fill="#fff" stroke="#ff0000" stroke-width="0.8"/><circle cx="247.24" cy="50.65" r="1.5" fill="#fff" stroke="#ff0000" stroke-width="0.8"/><circle cx="249.15" cy="43.55" r="1.5" fill="#fff" stroke="#ff0000" stroke-width="0.8"/><circle cx="250.69" cy="35.38" r="1.5" fill="#fff" stroke="#ff0000" stroke-width="0.8"/><circle cx="252.48" cy="27.95" r="1.5" fill="#fff" stroke="#ff0000" stroke-width="0.8"/><circle cx="254.04" cy="19.85" r="1.5" fill="#fff" stroke="#ff0000" stroke-width="0.8"/><circle cx="255.9" cy="12.63" r="1.5" fill="#fff" stroke="#ff0000" stroke-width="0.8"/><circle cx="258.37" cy="8.12" r="1.5" fill="#fff" stroke="#ff0000" stroke-width="0.8"/><circle cx="261.03" cy="5.02" r="1.5" fill="#fff" stroke="#ff0000" stroke-width="0.8"/><circle cx="263.74" cy="2.63" r="1.5" fill="#fff" stroke="#ff0000" stroke-width="0.8"/></g><line x1="198.55" y1="-2" x2="198.55" y2="91.4" stroke="#000" stroke-width="1.5" /><line x1="278.25" y1="-2" x2="278.25" y2="91.4" stroke="#000" stroke-width="1.5" /><line x1="197.8" y1="91.4" x2="279" y2="91.4" stroke="#000" stroke-width="1.5" /><line x1="198.55" y1="8.9" x2="200.15" y2="8.9" stroke="#000" stroke-width="0.9" /><line x1="198.55" y1="22.5" x2="200.15" y2="22.5" stroke="#000" stroke-width="0.9" /><line x1="198.55" y1="36.1" x2="200.15" y2="36.1" stroke="#000" stroke-width="0.9" /><line x1="198.55" y1="49.7" x2="200.15" y2="49.7" stroke="#000" stroke-width="0.9" /><line x1="198.55" y1="63.3" x2="200.15" y2="63.3" stroke="#000" stroke-width="0.9" /><line x1="198.55" y1="76.9" x2="200.15" y2="76.9" stroke="#000" stroke-width="0.9" /><line x1="206.55" y1="91.4" x2="206.55" y2="89.8" stroke="#000" stroke-width="0.9" /><line x1="222.55" y1="91.4" x2="222.55" y2="89.8" stroke="#000" stroke-width="0.9" /><line x1="238.55" y1="91.4" x2="238.55" y2="89.8" stroke="#000" stroke-width="0.9" /><line x1="254.55" y1="91.4" x2="254.55" y2="89.8" stroke="#000" stroke-width="0.9" /><line x1="270.55" y1="91.4" x2="270.55" y2="89.8" stroke="#000" stroke-width="0.9" /><text x="206.05" y="101.1" font-size="9.3" text-anchor="middle" font-weight="bold" font-style="normal" fill="#000" stroke="#000" stroke-width="0.28" stroke-linejoin="round" >-4</text><text x="222.05" y="101.1" font-size="9.3" text-anchor="middle" font-weight="bold" font-style="normal" fill="#000" stroke="#000" stroke-width="0.28" stroke-linejoin="round" >-2</text><text x="238.65" y="101.1" font-size="9.3" text-anchor="middle" font-weight="bold" font-style="normal" fill="#000" stroke="#000" stroke-width="0.28" stroke-linejoin="round" >0</text><text x="254.65" y="101.1" font-size="9.3" text-anchor="middle" font-weight="bold" font-style="normal" fill="#000" stroke="#000" stroke-width="0.28" stroke-linejoin="round" >2</text><text x="270.65" y="101.1" font-size="9.3" text-anchor="middle" font-weight="bold" font-style="normal" fill="#000" stroke="#000" stroke-width="0.28" stroke-linejoin="round" >4</text><rect x="202.35" y="-8" width="23.3" height="10.5" fill="#c8c8c8" /><text x="213.95" y="1.3" font-size="8" text-anchor="middle" font-weight="bold" font-style="normal" fill="#000" stroke="#000" stroke-width="0.28" stroke-linejoin="round" >HZO</text><rect x="202.35" y="3.3" width="23.3" height="8.6" fill="#a8d880" /><text x="213.15" y="10" font-size="8.3" text-anchor="middle" font-weight="bold" font-style="italic" fill="#109010" stroke="#109010" stroke-width="0.28" stroke-linejoin="round" >Pt</text><g clip-path="url(#clip3)"><line x1="283.25" y1="36.1" x2="362.95" y2="36.1" stroke="#555" stroke-width="1.1" /><line x1="323.25" y1="-2" x2="323.25" y2="91.4" stroke="#555" stroke-width="1.1" /><path d="M293.97,70.7 L294.11,70.58 L294.26,70.47 L294.4,70.35 L294.55,70.22 L294.69,70.1 L294.83,69.97 L294.98,69.84 L295.12,69.7 L295.27,69.57 L295.41,69.43 L295.56,69.29 L295.7,69.14 L295.84,68.99 L295.99,68.85 L296.13,68.69 L296.28,68.54 L296.42,68.38 L296.56,68.23 L296.71,68.07 L296.85,67.9 L297,67.74 L297.14,67.58 L297.29,67.41 L297.43,67.25 L297.57,67.08 L297.72,66.9 L297.86,66.73 L298.01,66.55 L298.15,66.37 L298.29,66.19 L298.44,66 L298.58,65.81 L298.73,65.61 L298.87,65.41 L299.02,65.2 L299.16,64.99 L299.3,64.78 L299.45,64.55 L299.59,64.32 L299.74,64.09 L299.88,63.85 L300.02,63.6 L300.17,63.34 L300.31,63.06 L300.46,62.77 L300.6,62.45 L300.75,62.12 L300.89,61.78 L301.03,61.42 L301.18,61.06 L301.32,60.68 L301.47,60.3 L301.61,59.92 L301.75,59.53 L301.9,59.14 L302.04,58.75 L302.19,58.35 L302.33,57.93 L302.48,57.5 L302.62,57.06 L302.76,56.62 L302.91,56.18 L303.05,55.74 L303.2,55.3 L303.34,54.87 L303.48,54.43 L303.63,53.99 L303.77,53.55 L303.92,53.1 L304.06,52.65 L304.21,52.21 L304.35,51.76 L304.49,51.32 L304.64,50.88 L304.78,50.44 L304.93,50.01 L305.07,49.59 L305.21,49.17 L305.36,48.76 L305.5,48.35 L305.65,47.92 L305.79,47.48 L305.94,47.04 L306.08,46.59 L306.22,46.15 L306.37,45.71 L306.51,45.3 L306.66,44.9 L306.8,44.53 L306.94,44.19 L307.09,43.89 L307.23,43.64 L307.38,43.43 L307.52,43.26 L307.67,43.11 L307.81,42.96 L307.95,42.82 L308.1,42.69 L308.24,42.56 L308.39,42.44 L308.53,42.33 L308.67,42.22 L308.82,42.12 L308.96,42.02 L309.11,41.93 L309.25,41.84 L309.4,41.75 L309.54,41.67 L309.68,41.59 L309.83,41.51 L309.97,41.43 L310.12,41.36 L310.26,41.28 L310.4,41.21 L310.55,41.14 L310.69,41.06 L310.84,40.99 L310.98,40.91 L311.13,40.83 L311.27,40.75 L311.41,40.67 L311.56,40.58 L311.7,40.5 L311.85,40.42 L311.99,40.34 L312.13,40.25 L312.28,40.17 L312.42,40.09 L312.57,40.01 L312.71,39.94 L312.86,39.86 L313,39.78 L313.14,39.7 L313.29,39.63 L313.43,39.55 L313.58,39.48 L313.72,39.4 L313.86,39.33 L314.01,39.25 L314.15,39.18 L314.3,39.11 L314.44,39.04 L314.58,38.97 L314.73,38.9 L314.87,38.83 L315.02,38.76 L315.16,38.69 L315.31,38.62 L315.45,38.55 L315.59,38.48 L315.74,38.42 L315.88,38.35 L316.03,38.28 L316.17,38.22 L316.31,38.15 L316.46,38.09 L316.6,38.02 L316.75,37.96 L316.89,37.9 L317.04,37.83 L317.18,37.77 L317.32,37.71 L317.47,37.65 L317.61,37.59 L317.76,37.54 L317.9,37.48 L318.04,37.42 L318.19,37.37 L318.33,37.31 L318.48,37.26 L318.62,37.2 L318.77,37.15 L318.91,37.09 L319.05,37.04 L319.2,36.99 L319.34,36.94 L319.49,36.88 L319.63,36.83 L319.77,36.78 L319.92,36.73 L320.06,36.67 L320.21,36.62 L320.35,36.57 L320.5,36.52 L320.64,36.47 L320.78,36.41 L320.93,36.36 L321.07,36.31 L321.22,36.26 L321.36,36.2 L321.5,36.15 L321.65,36.09 L321.79,36.04 L321.94,35.98 L322.08,35.93 L322.23,35.87 L322.37,35.81 L322.51,35.76 L322.66,35.7 L322.8,35.64 L322.95,35.58 L323.09,35.52 L323.23,35.45 L323.38,35.39 L323.52,35.33 L323.67,35.26 L323.81,35.19 L323.96,35.12 L324.1,35.05 L324.24,34.98 L324.39,34.91 L324.53,34.84 L324.68,34.77 L324.82,34.7 L324.96,34.62 L325.11,34.55 L325.25,34.47 L325.4,34.4 L325.54,34.33 L325.69,34.25 L325.83,34.18 L325.97,34.11 L326.12,34.03 L326.26,33.96 L326.41,33.89 L326.55,33.82 L326.69,33.75 L326.84,33.68 L326.98,33.61 L327.13,33.54 L327.27,33.48 L327.42,33.41 L327.56,33.35 L327.7,33.29 L327.85,33.23 L327.99,33.17 L328.14,33.11 L328.28,33.05 L328.42,32.99 L328.57,32.93 L328.71,32.88 L328.86,32.82 L329,32.77 L329.15,32.71 L329.29,32.66 L329.43,32.6 L329.58,32.55 L329.72,32.5 L329.87,32.44 L330.01,32.39 L330.15,32.34 L330.3,32.28 L330.44,32.23 L330.59,32.18 L330.73,32.12 L330.88,32.07 L331.02,32.01 L331.16,31.96 L331.31,31.9 L331.45,31.85 L331.6,31.79 L331.74,31.74 L331.88,31.68 L332.03,31.62 L332.17,31.56 L332.32,31.5 L332.46,31.44 L332.6,31.38 L332.75,31.32 L332.89,31.26 L333.04,31.2 L333.18,31.13 L333.33,31.07 L333.47,31.01 L333.61,30.94 L333.76,30.88 L333.9,30.82 L334.05,30.75 L334.19,30.69 L334.33,30.62 L334.48,30.55 L334.62,30.49 L334.77,30.42 L334.91,30.35 L335.06,30.28 L335.2,30.21 L335.34,30.14 L335.49,30.07 L335.63,30 L335.78,29.93 L335.92,29.85 L336.06,29.78 L336.21,29.7 L336.35,29.63 L336.5,29.55 L336.64,29.47 L336.79,29.39 L336.93,29.31 L337.07,29.23 L337.22,29.16 L337.36,29.09 L337.51,29.02 L337.65,28.95 L337.79,28.87 L337.94,28.8 L338.08,28.72 L338.23,28.64 L338.37,28.56 L338.52,28.47 L338.66,28.37 L338.8,28.26 L338.95,28.14 L339.09,28.02 L339.24,27.88 L339.38,27.73 L339.52,27.57 L339.67,27.34 L339.81,27.04 L339.96,26.67 L340.1,26.25 L340.25,25.81 L340.39,25.34 L340.53,24.87 L340.68,24.41 L340.82,23.97 L340.97,23.53 L341.11,23.06 L341.25,22.58 L341.4,22.09 L341.54,21.59 L341.69,21.09 L341.83,20.58 L341.98,20.07 L342.12,19.57 L342.26,19.07 L342.41,18.57 L342.55,18.09 L342.7,17.62 L342.84,17.16 L342.98,16.71 L343.13,16.25 L343.27,15.79 L343.42,15.33 L343.56,14.87 L343.71,14.42 L343.85,13.97 L343.99,13.52 L344.14,13.08 L344.28,12.65 L344.43,12.22 L344.57,11.8 L344.71,11.4 L344.86,11 L345,10.62 L345.15,10.26 L345.29,9.9 L345.44,9.57 L345.58,9.25 L345.72,8.93 L345.87,8.61 L346.01,8.3 L346.16,8 L346.3,7.69 L346.44,7.4 L346.59,7.1 L346.73,6.82 L346.88,6.54 L347.02,6.26 L347.17,5.99 L347.31,5.73 L347.45,5.47 L347.6,5.23 L347.74,4.99 L347.89,4.75 L348.03,4.53 L348.17,4.32 L348.32,4.11 L348.46,3.92 L348.61,3.73 L348.75,3.55 L348.9,3.39 L349.04,3.23 L349.18,3.08 L349.33,2.93 L349.47,2.78 L349.62,2.64 L349.76,2.5 L349.9,2.36 L350.05,2.24 L350.19,2.11 L350.34,1.99 L350.48,1.88 L350.63,1.77 L350.77,1.67 L350.91,1.58 L351.06,1.49 L351.2,1.42 L351.35,1.35 L351.49,1.28" fill="none" stroke="#000" stroke-width="1.6"/><path d="M293.97,70.7 L294.11,70.61 L294.26,70.52 L294.4,70.43 L294.55,70.35 L294.69,70.26 L294.83,70.17 L294.98,70.08 L295.12,69.99 L295.27,69.9 L295.41,69.82 L295.56,69.73 L295.7,69.64 L295.84,69.55 L295.99,69.47 L296.13,69.38 L296.28,69.29 L296.42,69.21 L296.56,69.12 L296.71,69.03 L296.85,68.95 L297,68.86 L297.14,68.77 L297.29,68.69 L297.43,68.6 L297.57,68.51 L297.72,68.43 L297.86,68.34 L298.01,68.26 L298.15,68.17 L298.29,68.09 L298.44,68 L298.58,67.92 L298.73,67.83 L298.87,67.75 L299.02,67.66 L299.16,67.58 L299.3,67.5 L299.45,67.41 L299.59,67.33 L299.74,67.25 L299.88,67.16 L300.02,67.08 L300.17,66.99 L300.31,66.91 L300.46,66.83 L300.6,66.74 L300.75,66.66 L300.89,66.58 L301.03,66.49 L301.18,66.41 L301.32,66.32 L301.47,66.24 L301.61,66.16 L301.75,66.07 L301.9,65.99 L302.04,65.91 L302.19,65.82 L302.33,65.74 L302.48,65.65 L302.62,65.57 L302.76,65.49 L302.91,65.4 L303.05,65.32 L303.2,65.24 L303.34,65.15 L303.48,65.07 L303.63,64.99 L303.77,64.9 L303.92,64.82 L304.06,64.74 L304.21,64.66 L304.35,64.57 L304.49,64.49 L304.64,64.41 L304.78,64.33 L304.93,64.24 L305.07,64.16 L305.21,64.08 L305.36,64 L305.5,63.91 L305.65,63.83 L305.79,63.75 L305.94,63.67 L306.08,63.59 L306.22,63.51 L306.37,63.43 L306.51,63.35 L306.66,63.26 L306.8,63.18 L306.94,63.1 L307.09,63.02 L307.23,62.94 L307.38,62.86 L307.52,62.78 L307.67,62.7 L307.81,62.62 L307.95,62.54 L308.1,62.47 L308.24,62.39 L308.39,62.31 L308.53,62.23 L308.67,62.15 L308.82,62.07 L308.96,62 L309.11,61.92 L309.25,61.84 L309.4,61.76 L309.54,61.69 L309.68,61.61 L309.83,61.53 L309.97,61.46 L310.12,61.38 L310.26,61.31 L310.4,61.23 L310.55,61.16 L310.69,61.08 L310.84,61.01 L310.98,60.93 L311.13,60.86 L311.27,60.79 L311.41,60.71 L311.56,60.64 L311.7,60.57 L311.85,60.49 L311.99,60.42 L312.13,60.35 L312.28,60.28 L312.42,60.21 L312.57,60.14 L312.71,60.06 L312.86,60 L313,59.93 L313.14,59.87 L313.29,59.81 L313.43,59.76 L313.58,59.7 L313.72,59.65 L313.86,59.6 L314.01,59.55 L314.15,59.49 L314.3,59.44 L314.44,59.38 L314.58,59.32 L314.73,59.25 L314.87,59.17 L315.02,59.09 L315.16,59.01 L315.31,58.91 L315.45,58.81 L315.59,58.67 L315.74,58.51 L315.88,58.31 L316.03,58.08 L316.17,57.84 L316.31,57.58 L316.46,57.31 L316.6,57.02 L316.75,56.74 L316.89,56.45 L317.04,56.17 L317.18,55.9 L317.32,55.64 L317.47,55.39 L317.61,55.16 L317.76,54.94 L317.9,54.71 L318.04,54.49 L318.19,54.26 L318.33,54.05 L318.48,53.83 L318.62,53.62 L318.77,53.41 L318.91,53.2 L319.05,53.01 L319.2,52.82 L319.34,52.64 L319.49,52.47 L319.63,52.29 L319.77,52.11 L319.92,51.93 L320.06,51.75 L320.21,51.55 L320.35,51.35 L320.5,51.13 L320.64,50.9 L320.78,50.65 L320.93,50.39 L321.07,50.11 L321.22,49.82 L321.36,49.5 L321.5,49.17 L321.65,48.81 L321.79,48.42 L321.94,48.01 L322.08,47.57 L322.23,47.13 L322.37,46.72 L322.51,46.25 L322.66,45.57 L322.8,44.57 L322.95,41.16 L323.09,34.67 L323.23,30.57 L323.38,27.7 L323.52,26.58 L323.67,25.67 L323.81,24.88 L323.96,24.2 L324.1,23.61 L324.24,23.11 L324.39,22.67 L324.53,22.28 L324.68,21.93 L324.82,21.59 L324.96,21.26 L325.11,20.92 L325.25,20.55 L325.4,20.15 L325.54,19.7 L325.69,19.26 L325.83,18.81 L325.97,18.36 L326.12,17.92 L326.26,17.48 L326.41,17.06 L326.55,16.66 L326.69,16.27 L326.84,15.91 L326.98,15.58 L327.13,15.27 L327.27,15 L327.42,14.77 L327.56,14.58 L327.7,14.39 L327.85,14.22 L327.99,14.05 L328.14,13.9 L328.28,13.74 L328.42,13.6 L328.57,13.46 L328.71,13.33 L328.86,13.2 L329,13.08 L329.15,12.96 L329.29,12.84 L329.43,12.74 L329.58,12.63 L329.72,12.53 L329.87,12.43 L330.01,12.33 L330.15,12.24 L330.3,12.14 L330.44,12.05 L330.59,11.96 L330.73,11.87 L330.88,11.78 L331.02,11.7 L331.16,11.61 L331.31,11.52 L331.45,11.43 L331.6,11.34 L331.74,11.25 L331.88,11.16 L332.03,11.07 L332.17,10.98 L332.32,10.9 L332.46,10.82 L332.6,10.73 L332.75,10.65 L332.89,10.57 L333.04,10.49 L333.18,10.42 L333.33,10.34 L333.47,10.26 L333.61,10.19 L333.76,10.11 L333.9,10.04 L334.05,9.97 L334.19,9.9 L334.33,9.83 L334.48,9.75 L334.62,9.68 L334.77,9.62 L334.91,9.55 L335.06,9.48 L335.2,9.41 L335.34,9.34 L335.49,9.28 L335.63,9.21 L335.78,9.14 L335.92,9.08 L336.06,9.01 L336.21,8.94 L336.35,8.88 L336.5,8.81 L336.64,8.75 L336.79,8.68 L336.93,8.62 L337.07,8.55 L337.22,8.49 L337.36,8.42 L337.51,8.35 L337.65,8.29 L337.79,8.22 L337.94,8.16 L338.08,8.09 L338.23,8.02 L338.37,7.95 L338.52,7.89 L338.66,7.82 L338.8,7.76 L338.95,7.69 L339.09,7.63 L339.24,7.57 L339.38,7.51 L339.52,7.44 L339.67,7.38 L339.81,7.32 L339.96,7.26 L340.1,7.2 L340.25,7.14 L340.39,7.09 L340.53,7.03 L340.68,6.97 L340.82,6.91 L340.97,6.85 L341.11,6.8 L341.25,6.74 L341.4,6.68 L341.54,6.62 L341.69,6.57 L341.83,6.51 L341.98,6.45 L342.12,6.4 L342.26,6.34 L342.41,6.28 L342.55,6.23 L342.7,6.17 L342.84,6.11 L342.98,6.05 L343.13,6 L343.27,5.94 L343.42,5.88 L343.56,5.82 L343.71,5.76 L343.85,5.7 L343.99,5.65 L344.14,5.59 L344.28,5.53 L344.43,5.46 L344.57,5.4 L344.71,5.34 L344.86,5.28 L345,5.22 L345.15,5.15 L345.29,5.09 L345.44,5.02 L345.58,4.96 L345.72,4.89 L345.87,4.82 L346.01,4.76 L346.16,4.69 L346.3,4.62 L346.44,4.55 L346.59,4.47 L346.73,4.4 L346.88,4.33 L347.02,4.25 L347.17,4.18 L347.31,4.1 L347.45,4.02 L347.6,3.94 L347.74,3.86 L347.89,3.78 L348.03,3.7 L348.17,3.61 L348.32,3.52 L348.46,3.43 L348.61,3.34 L348.75,3.25 L348.9,3.15 L349.04,3.06 L349.18,2.96 L349.33,2.86 L349.47,2.76 L349.62,2.66 L349.76,2.56 L349.9,2.46 L350.05,2.35 L350.19,2.25 L350.34,2.14 L350.48,2.04 L350.63,1.93 L350.77,1.82 L350.91,1.72 L351.06,1.61 L351.2,1.5 L351.35,1.39 L351.49,1.28" fill="none" stroke="#000" stroke-width="1.6"/><circle cx="293.97" cy="70.7" r="1.25" fill="#fff" stroke="#000" stroke-width="0.75"/><circle cx="296.67" cy="68.11" r="1.25" fill="#fff" stroke="#000" stroke-width="0.75"/><circle cx="299.3" cy="64.78" r="1.25" fill="#fff" stroke="#000" stroke-width="0.75"/><circle cx="301.69" cy="59.71" r="1.25" fill="#fff" stroke="#000" stroke-width="0.75"/><circle cx="303.82" cy="53.39" r="1.25" fill="#fff" stroke="#000" stroke-width="0.75"/><circle cx="305.95" cy="47" r="1.25" fill="#fff" stroke="#000" stroke-width="0.75"/><circle cx="308.37" cy="42.46" r="1.25" fill="#fff" stroke="#000" stroke-width="0.75"/><circle cx="311.13" cy="40.83" r="1.25" fill="#fff" stroke="#000" stroke-width="0.75"/><circle cx="313.9" cy="39.31" r="1.25" fill="#fff" stroke="#000" stroke-width="0.75"/><circle cx="316.67" cy="37.99" r="1.25" fill="#fff" stroke="#000" stroke-width="0.75"/><circle cx="319.46" cy="36.89" r="1.25" fill="#fff" stroke="#000" stroke-width="0.75"/><circle cx="322.24" cy="35.86" r="1.25" fill="#fff" stroke="#000" stroke-width="0.75"/><circle cx="325.02" cy="34.6" r="1.25" fill="#fff" stroke="#000" stroke-width="0.75"/><circle cx="327.79" cy="33.25" r="1.25" fill="#fff" stroke="#000" stroke-width="0.75"/><circle cx="330.57" cy="32.18" r="1.25" fill="#fff" stroke="#000" stroke-width="0.75"/><circle cx="333.35" cy="31.06" r="1.25" fill="#fff" stroke="#000" stroke-width="0.75"/><circle cx="336.13" cy="29.75" r="1.25" fill="#fff" stroke="#000" stroke-width="0.75"/><circle cx="338.89" cy="28.19" r="1.25" fill="#fff" stroke="#000" stroke-width="0.75"/><circle cx="341.18" cy="22.84" r="1.25" fill="#fff" stroke="#000" stroke-width="0.75"/><circle cx="343.19" cy="16.05" r="1.25" fill="#fff" stroke="#000" stroke-width="0.75"/><circle cx="345.34" cy="9.78" r="1.25" fill="#fff" stroke="#000" stroke-width="0.75"/><circle cx="347.77" cy="4.93" r="1.25" fill="#fff" stroke="#000" stroke-width="0.75"/><circle cx="350.43" cy="1.92" r="1.25" fill="#fff" stroke="#000" stroke-width="0.75"/><circle cx="293.97" cy="70.7" r="1.25" fill="#fff" stroke="#000" stroke-width="0.75"/><circle cx="296.73" cy="69.02" r="1.25" fill="#fff" stroke="#000" stroke-width="0.75"/><circle cx="299.49" cy="67.39" r="1.25" fill="#fff" stroke="#000" stroke-width="0.75"/><circle cx="302.25" cy="65.78" r="1.25" fill="#fff" stroke="#000" stroke-width="0.75"/><circle cx="305.01" cy="64.19" r="1.25" fill="#fff" stroke="#000" stroke-width="0.75"/><circle cx="307.78" cy="62.64" r="1.25" fill="#fff" stroke="#000" stroke-width="0.75"/><circle cx="310.55" cy="61.16" r="1.25" fill="#fff" stroke="#000" stroke-width="0.75"/><circle cx="313.32" cy="59.8" r="1.25" fill="#fff" stroke="#000" stroke-width="0.75"/><circle cx="316.06" cy="58.03" r="1.25" fill="#fff" stroke="#000" stroke-width="0.75"/><circle cx="318.57" cy="53.7" r="1.25" fill="#fff" stroke="#000" stroke-width="0.75"/><circle cx="321.15" cy="49.95" r="1.25" fill="#fff" stroke="#000" stroke-width="0.75"/><circle cx="322.88" cy="42.81" r="1.25" fill="#fff" stroke="#000" stroke-width="0.75"/><circle cx="323.15" cy="33.06" r="1.25" fill="#fff" stroke="#000" stroke-width="0.75"/><circle cx="324.02" cy="23.95" r="1.25" fill="#fff" stroke="#000" stroke-width="0.75"/><circle cx="326.17" cy="17.75" r="1.25" fill="#fff" stroke="#000" stroke-width="0.75"/><circle cx="328.64" cy="13.39" r="1.25" fill="#fff" stroke="#000" stroke-width="0.75"/><circle cx="331.39" cy="11.47" r="1.25" fill="#fff" stroke="#000" stroke-width="0.75"/><circle cx="334.15" cy="9.92" r="1.25" fill="#fff" stroke="#000" stroke-width="0.75"/><circle cx="336.93" cy="8.62" r="1.25" fill="#fff" stroke="#000" stroke-width="0.75"/><circle cx="339.7" cy="7.37" r="1.25" fill="#fff" stroke="#000" stroke-width="0.75"/><circle cx="342.49" cy="6.25" r="1.25" fill="#fff" stroke="#000" stroke-width="0.75"/><circle cx="345.27" cy="5.1" r="1.25" fill="#fff" stroke="#000" stroke-width="0.75"/><circle cx="348.04" cy="3.69" r="1.25" fill="#fff" stroke="#000" stroke-width="0.75"/><circle cx="350.79" cy="1.81" r="1.25" fill="#fff" stroke="#000" stroke-width="0.75"/><path d="M294.29,70.92 L294.43,70.83 L294.58,70.74 L294.72,70.65 L294.86,70.57 L295.01,70.48 L295.15,70.39 L295.29,70.3 L295.44,70.21 L295.58,70.11 L295.72,70.02 L295.87,69.93 L296.01,69.84 L296.15,69.74 L296.3,69.65 L296.44,69.55 L296.58,69.46 L296.73,69.36 L296.87,69.26 L297.01,69.16 L297.16,69.07 L297.3,68.97 L297.44,68.87 L297.59,68.77 L297.73,68.67 L297.87,68.57 L298.02,68.47 L298.16,68.36 L298.3,68.26 L298.45,68.16 L298.59,68.06 L298.73,67.95 L298.88,67.85 L299.02,67.74 L299.16,67.64 L299.31,67.53 L299.45,67.43 L299.59,67.32 L299.74,67.21 L299.88,67.11 L300.02,67 L300.17,66.89 L300.31,66.78 L300.45,66.67 L300.6,66.56 L300.74,66.45 L300.88,66.34 L301.03,66.23 L301.17,66.12 L301.31,66.01 L301.46,65.9 L301.6,65.78 L301.74,65.67 L301.89,65.56 L302.03,65.45 L302.17,65.33 L302.32,65.22 L302.46,65.11 L302.6,64.99 L302.75,64.88 L302.89,64.77 L303.03,64.66 L303.18,64.54 L303.32,64.43 L303.46,64.32 L303.61,64.2 L303.75,64.09 L303.9,63.98 L304.04,63.86 L304.18,63.74 L304.33,63.63 L304.47,63.51 L304.61,63.39 L304.76,63.27 L304.9,63.15 L305.04,63.02 L305.19,62.9 L305.33,62.77 L305.47,62.64 L305.62,62.51 L305.76,62.38 L305.9,62.25 L306.05,62.11 L306.19,61.97 L306.33,61.83 L306.48,61.69 L306.62,61.54 L306.76,61.4 L306.91,61.24 L307.05,61.09 L307.19,60.93 L307.34,60.77 L307.48,60.61 L307.62,60.44 L307.77,60.27 L307.91,60.1 L308.05,59.93 L308.2,59.74 L308.34,59.56 L308.48,59.37 L308.63,59.17 L308.77,58.97 L308.91,58.76 L309.06,58.54 L309.2,58.32 L309.34,58.09 L309.49,57.85 L309.63,57.6 L309.77,57.34 L309.92,57.08 L310.06,56.8 L310.2,56.51 L310.35,56.19 L310.49,55.83 L310.63,55.45 L310.78,55.04 L310.92,54.62 L311.06,54.18 L311.21,53.75 L311.35,53.31 L311.49,52.88 L311.64,52.46 L311.78,52.06 L311.92,51.66 L312.07,51.27 L312.21,50.88 L312.35,50.47 L312.5,50.05 L312.64,49.59 L312.78,49.11 L312.93,48.59 L313.07,48.04 L313.21,47.46 L313.36,46.85 L313.5,46.22 L313.64,45.57 L313.79,44.89 L313.93,44.21 L314.07,43.51 L314.22,42.8 L314.36,42.08 L314.5,41.36 L314.65,40.64 L314.79,39.91 L314.93,39.16 L315.08,38.35 L315.22,37.51 L315.36,36.65 L315.51,35.78 L315.65,34.91 L315.79,34.05 L315.94,33.22 L316.08,32.43 L316.22,31.69 L316.37,31.02 L316.51,30.41 L316.65,29.84 L316.8,29.28 L316.94,28.74 L317.08,28.23 L317.23,27.73 L317.37,27.25 L317.51,26.78 L317.66,26.34 L317.8,25.9 L317.94,25.49 L318.09,25.09 L318.23,24.7 L318.37,24.32 L318.52,23.96 L318.66,23.62 L318.8,23.28 L318.95,22.96 L319.09,22.65 L319.23,22.34 L319.38,22.05 L319.52,21.77 L319.66,21.5 L319.81,21.23 L319.95,20.97 L320.09,20.71 L320.24,20.46 L320.38,20.22 L320.52,19.98 L320.67,19.75 L320.81,19.52 L320.95,19.3 L321.1,19.08 L321.24,18.86 L321.38,18.65 L321.53,18.44 L321.67,18.24 L321.81,18.03 L321.96,17.83 L322.1,17.63 L322.24,17.44 L322.39,17.24 L322.53,17.05 L322.67,16.86 L322.82,16.67 L322.96,16.48 L323.11,16.28 L323.25,16.09 L323.39,15.89 L323.54,15.69 L323.68,15.5 L323.82,15.3 L323.97,15.11 L324.11,14.92 L324.25,14.73 L324.4,14.54 L324.54,14.36 L324.68,14.18 L324.83,14 L324.97,13.83 L325.11,13.67 L325.26,13.51 L325.4,13.36 L325.54,13.21 L325.69,13.08 L325.83,12.95 L325.97,12.83 L326.12,12.72 L326.26,12.61 L326.4,12.51 L326.55,12.42 L326.69,12.32 L326.83,12.23 L326.98,12.14 L327.12,12.05 L327.26,11.96 L327.41,11.88 L327.55,11.79 L327.69,11.71 L327.84,11.63 L327.98,11.56 L328.12,11.48 L328.27,11.41 L328.41,11.34 L328.55,11.27 L328.7,11.2 L328.84,11.13 L328.98,11.06 L329.13,11 L329.27,10.93 L329.41,10.87 L329.56,10.8 L329.7,10.74 L329.84,10.68 L329.99,10.62 L330.13,10.56 L330.27,10.5 L330.42,10.44 L330.56,10.38 L330.7,10.32 L330.85,10.26 L330.99,10.2 L331.13,10.15 L331.28,10.09 L331.42,10.03 L331.56,9.97 L331.71,9.91 L331.85,9.85 L331.99,9.79 L332.14,9.73 L332.28,9.66 L332.42,9.6 L332.57,9.54 L332.71,9.47 L332.85,9.41 L333,9.34 L333.14,9.28 L333.28,9.21 L333.43,9.15 L333.57,9.08 L333.71,9.02 L333.86,8.95 L334,8.89 L334.14,8.83 L334.29,8.76 L334.43,8.7 L334.57,8.64 L334.72,8.58 L334.86,8.52 L335,8.45 L335.15,8.39 L335.29,8.33 L335.43,8.27 L335.58,8.21 L335.72,8.15 L335.86,8.09 L336.01,8.03 L336.15,7.96 L336.29,7.9 L336.44,7.84 L336.58,7.78 L336.72,7.72 L336.87,7.66 L337.01,7.6 L337.15,7.54 L337.3,7.48 L337.44,7.42 L337.58,7.37 L337.73,7.31 L337.87,7.25 L338.01,7.19 L338.16,7.13 L338.3,7.07 L338.44,7.01 L338.59,6.95 L338.73,6.89 L338.87,6.83 L339.02,6.77 L339.16,6.71 L339.3,6.65 L339.45,6.59 L339.59,6.53 L339.73,6.47 L339.88,6.41 L340.02,6.35 L340.16,6.29 L340.31,6.23 L340.45,6.17 L340.59,6.11 L340.74,6.05 L340.88,5.99 L341.02,5.93 L341.17,5.87 L341.31,5.81 L341.45,5.74 L341.6,5.68 L341.74,5.62 L341.88,5.56 L342.03,5.5 L342.17,5.44 L342.32,5.37 L342.46,5.31 L342.6,5.25 L342.75,5.18 L342.89,5.12 L343.03,5.06 L343.18,5 L343.32,4.93 L343.46,4.87 L343.61,4.81 L343.75,4.75 L343.89,4.68 L344.04,4.62 L344.18,4.56 L344.32,4.49 L344.47,4.43 L344.61,4.37 L344.75,4.3 L344.9,4.24 L345.04,4.18 L345.18,4.11 L345.33,4.05 L345.47,3.99 L345.61,3.92 L345.76,3.86 L345.9,3.8 L346.04,3.73 L346.19,3.67 L346.33,3.61 L346.47,3.54 L346.62,3.48 L346.76,3.41 L346.9,3.35 L347.05,3.29 L347.19,3.22 L347.33,3.16 L347.48,3.09 L347.62,3.03 L347.76,2.97 L347.91,2.9 L348.05,2.84 L348.19,2.77 L348.34,2.71 L348.48,2.64 L348.62,2.58 L348.77,2.52 L348.91,2.45 L349.05,2.39 L349.2,2.32 L349.34,2.26 L349.48,2.19 L349.63,2.13 L349.77,2.06 L349.91,2 L350.06,1.93 L350.2,1.87 L350.34,1.8 L350.49,1.74 L350.63,1.67 L350.77,1.61 L350.92,1.54 L351.06,1.48 L351.2,1.41 L351.35,1.35 L351.49,1.28" fill="none" stroke="#ff0000" stroke-width="1.4"/><path d="M294.29,70.92 L294.43,70.87 L294.58,70.83 L294.72,70.78 L294.86,70.74 L295.01,70.69 L295.15,70.65 L295.29,70.6 L295.44,70.56 L295.58,70.51 L295.72,70.47 L295.87,70.42 L296.01,70.37 L296.15,70.33 L296.3,70.28 L296.44,70.23 L296.58,70.19 L296.73,70.14 L296.87,70.09 L297.01,70.04 L297.16,69.99 L297.3,69.95 L297.44,69.9 L297.59,69.85 L297.73,69.8 L297.87,69.75 L298.02,69.7 L298.16,69.65 L298.3,69.6 L298.45,69.55 L298.59,69.5 L298.73,69.45 L298.88,69.4 L299.02,69.35 L299.16,69.3 L299.31,69.25 L299.45,69.19 L299.59,69.14 L299.74,69.09 L299.88,69.04 L300.02,68.99 L300.17,68.93 L300.31,68.88 L300.45,68.83 L300.6,68.77 L300.74,68.72 L300.88,68.67 L301.03,68.61 L301.17,68.56 L301.31,68.5 L301.46,68.45 L301.6,68.39 L301.74,68.34 L301.89,68.28 L302.03,68.23 L302.17,68.17 L302.32,68.11 L302.46,68.06 L302.6,68 L302.75,67.94 L302.89,67.89 L303.03,67.83 L303.18,67.77 L303.32,67.71 L303.46,67.66 L303.61,67.6 L303.75,67.54 L303.9,67.48 L304.04,67.42 L304.18,67.36 L304.33,67.3 L304.47,67.24 L304.61,67.18 L304.76,67.12 L304.9,67.06 L305.04,67 L305.19,66.94 L305.33,66.88 L305.47,66.82 L305.62,66.76 L305.76,66.69 L305.9,66.63 L306.05,66.57 L306.19,66.51 L306.33,66.45 L306.48,66.38 L306.62,66.32 L306.76,66.26 L306.91,66.2 L307.05,66.13 L307.19,66.07 L307.34,66.01 L307.48,65.94 L307.62,65.88 L307.77,65.82 L307.91,65.75 L308.05,65.69 L308.2,65.63 L308.34,65.56 L308.48,65.5 L308.63,65.43 L308.77,65.37 L308.91,65.3 L309.06,65.24 L309.2,65.17 L309.34,65.11 L309.49,65.04 L309.63,64.98 L309.77,64.91 L309.92,64.85 L310.06,64.78 L310.2,64.71 L310.35,64.65 L310.49,64.58 L310.63,64.51 L310.78,64.45 L310.92,64.38 L311.06,64.31 L311.21,64.25 L311.35,64.18 L311.49,64.11 L311.64,64.04 L311.78,63.97 L311.92,63.91 L312.07,63.84 L312.21,63.77 L312.35,63.7 L312.5,63.63 L312.64,63.56 L312.78,63.49 L312.93,63.42 L313.07,63.35 L313.21,63.28 L313.36,63.21 L313.5,63.14 L313.64,63.07 L313.79,63 L313.93,62.92 L314.07,62.85 L314.22,62.78 L314.36,62.71 L314.5,62.63 L314.65,62.56 L314.79,62.49 L314.93,62.42 L315.08,62.34 L315.22,62.27 L315.36,62.19 L315.51,62.12 L315.65,62.04 L315.79,61.97 L315.94,61.89 L316.08,61.82 L316.22,61.74 L316.37,61.67 L316.51,61.59 L316.65,61.51 L316.8,61.44 L316.94,61.36 L317.08,61.29 L317.23,61.21 L317.37,61.14 L317.51,61.07 L317.66,61 L317.8,60.93 L317.94,60.86 L318.09,60.79 L318.23,60.71 L318.37,60.64 L318.52,60.56 L318.66,60.49 L318.8,60.41 L318.95,60.32 L319.09,60.24 L319.23,60.15 L319.38,60.05 L319.52,59.96 L319.66,59.86 L319.81,59.75 L319.95,59.64 L320.09,59.52 L320.24,59.4 L320.38,59.25 L320.52,59.09 L320.67,58.92 L320.81,58.73 L320.95,58.53 L321.1,58.33 L321.24,58.12 L321.38,57.9 L321.53,57.68 L321.67,57.46 L321.81,57.24 L321.96,57.02 L322.1,56.81 L322.24,56.6 L322.39,56.38 L322.53,56.15 L322.67,55.92 L322.82,55.69 L322.96,55.46 L323.11,55.24 L323.25,55.03 L323.39,54.83 L323.54,54.65 L323.68,54.49 L323.82,54.34 L323.97,54.2 L324.11,54.07 L324.25,53.93 L324.4,53.8 L324.54,53.65 L324.68,53.5 L324.83,53.33 L324.97,53.14 L325.11,52.93 L325.26,52.71 L325.4,52.48 L325.54,52.25 L325.69,52.03 L325.83,51.81 L325.97,51.61 L326.12,51.44 L326.26,51.28 L326.4,51.14 L326.55,51.02 L326.69,50.9 L326.83,50.79 L326.98,50.69 L327.12,50.59 L327.26,50.49 L327.41,50.4 L327.55,50.31 L327.69,50.21 L327.84,50.12 L327.98,50.02 L328.12,49.92 L328.27,49.82 L328.41,49.7 L328.55,49.58 L328.7,49.45 L328.84,49.3 L328.98,49.16 L329.13,49.01 L329.27,48.86 L329.41,48.7 L329.56,48.55 L329.7,48.38 L329.84,48.21 L329.99,48.04 L330.13,47.86 L330.27,47.67 L330.42,47.47 L330.56,47.27 L330.7,47.05 L330.85,46.83 L330.99,46.6 L331.13,46.36 L331.28,46.1 L331.42,45.84 L331.56,45.56 L331.71,45.27 L331.85,44.97 L331.99,44.66 L332.14,44.33 L332.28,43.97 L332.42,43.54 L332.57,43.02 L332.71,42.43 L332.85,41.78 L333,41.09 L333.14,40.35 L333.28,39.59 L333.43,38.8 L333.57,38.01 L333.71,37.23 L333.86,36.46 L334,35.71 L334.14,35 L334.29,34.33 L334.43,33.68 L334.57,33.04 L334.72,32.41 L334.86,31.78 L335,31.13 L335.15,30.48 L335.29,29.8 L335.43,29.09 L335.58,28.35 L335.72,27.53 L335.86,26.66 L336.01,25.76 L336.15,24.86 L336.29,23.97 L336.44,23.12 L336.58,22.32 L336.72,21.62 L336.87,20.99 L337.01,20.4 L337.15,19.82 L337.3,19.26 L337.44,18.73 L337.58,18.21 L337.73,17.72 L337.87,17.24 L338.01,16.78 L338.16,16.34 L338.3,15.92 L338.44,15.52 L338.59,15.13 L338.73,14.76 L338.87,14.41 L339.02,14.07 L339.16,13.75 L339.3,13.44 L339.45,13.14 L339.59,12.86 L339.73,12.58 L339.88,12.31 L340.02,12.05 L340.16,11.79 L340.31,11.54 L340.45,11.29 L340.59,11.05 L340.74,10.8 L340.88,10.56 L341.02,10.32 L341.17,10.07 L341.31,9.83 L341.45,9.58 L341.6,9.33 L341.74,9.09 L341.88,8.84 L342.03,8.6 L342.17,8.35 L342.32,8.11 L342.46,7.87 L342.6,7.64 L342.75,7.4 L342.89,7.17 L343.03,6.95 L343.18,6.73 L343.32,6.51 L343.46,6.29 L343.61,6.09 L343.75,5.88 L343.89,5.69 L344.04,5.5 L344.18,5.31 L344.32,5.14 L344.47,4.97 L344.61,4.81 L344.75,4.65 L344.9,4.51 L345.04,4.37 L345.18,4.24 L345.33,4.13 L345.47,4.02 L345.61,3.92 L345.76,3.82 L345.9,3.72 L346.04,3.62 L346.19,3.52 L346.33,3.42 L346.47,3.33 L346.62,3.23 L346.76,3.14 L346.9,3.04 L347.05,2.95 L347.19,2.86 L347.33,2.77 L347.48,2.68 L347.62,2.6 L347.76,2.51 L347.91,2.43 L348.05,2.35 L348.19,2.27 L348.34,2.2 L348.48,2.12 L348.62,2.05 L348.77,1.98 L348.91,1.92 L349.05,1.85 L349.2,1.79 L349.34,1.73 L349.48,1.68 L349.63,1.63 L349.77,1.58 L349.91,1.53 L350.06,1.49 L350.2,1.45 L350.34,1.42 L350.49,1.39 L350.63,1.36 L350.77,1.34 L350.92,1.32 L351.06,1.3 L351.2,1.29 L351.35,1.29 L351.49,1.28" fill="none" stroke="#ff0000" stroke-width="1.4"/><circle cx="294.29" cy="70.92" r="1.5" fill="#fff" stroke="#ff0000" stroke-width="0.8"/><circle cx="297.04" cy="69.14" r="1.5" fill="#fff" stroke="#ff0000" stroke-width="0.8"/><circle cx="299.79" cy="67.18" r="1.5" fill="#fff" stroke="#ff0000" stroke-width="0.8"/><circle cx="302.52" cy="65.06" r="1.5" fill="#fff" stroke="#ff0000" stroke-width="0.8"/><circle cx="305.25" cy="62.84" r="1.5" fill="#fff" stroke="#ff0000" stroke-width="0.8"/><circle cx="307.93" cy="60.07" r="1.5" fill="#fff" stroke="#ff0000" stroke-width="0.8"/><circle cx="310.46" cy="55.91" r="1.5" fill="#fff" stroke="#ff0000" stroke-width="0.8"/><circle cx="312.62" cy="49.67" r="1.5" fill="#fff" stroke="#ff0000" stroke-width="0.8"/><circle cx="314.37" cy="42.05" r="1.5" fill="#fff" stroke="#ff0000" stroke-width="0.8"/><circle cx="315.85" cy="33.73" r="1.5" fill="#fff" stroke="#ff0000" stroke-width="0.8"/><circle cx="317.66" cy="26.32" r="1.5" fill="#fff" stroke="#ff0000" stroke-width="0.8"/><circle cx="319.99" cy="20.91" r="1.5" fill="#fff" stroke="#ff0000" stroke-width="0.8"/><circle cx="322.55" cy="17.02" r="1.5" fill="#fff" stroke="#ff0000" stroke-width="0.8"/><circle cx="325.18" cy="13.6" r="1.5" fill="#fff" stroke="#ff0000" stroke-width="0.8"/><circle cx="327.92" cy="11.59" r="1.5" fill="#fff" stroke="#ff0000" stroke-width="0.8"/><circle cx="330.69" cy="10.33" r="1.5" fill="#fff" stroke="#ff0000" stroke-width="0.8"/><circle cx="333.47" cy="9.13" r="1.5" fill="#fff" stroke="#ff0000" stroke-width="0.8"/><circle cx="336.25" cy="7.92" r="1.5" fill="#fff" stroke="#ff0000" stroke-width="0.8"/><circle cx="339.03" cy="6.76" r="1.5" fill="#fff" stroke="#ff0000" stroke-width="0.8"/><circle cx="341.81" cy="5.59" r="1.5" fill="#fff" stroke="#ff0000" stroke-width="0.8"/><circle cx="344.59" cy="4.38" r="1.5" fill="#fff" stroke="#ff0000" stroke-width="0.8"/><circle cx="347.37" cy="3.14" r="1.5" fill="#fff" stroke="#ff0000" stroke-width="0.8"/><circle cx="350.14" cy="1.9" r="1.5" fill="#fff" stroke="#ff0000" stroke-width="0.8"/><circle cx="294.29" cy="70.92" r="1.5" fill="#fff" stroke="#ff0000" stroke-width="0.8"/><circle cx="297.08" cy="70.02" r="1.5" fill="#fff" stroke="#ff0000" stroke-width="0.8"/><circle cx="299.86" cy="69.04" r="1.5" fill="#fff" stroke="#ff0000" stroke-width="0.8"/><circle cx="302.65" cy="67.98" r="1.5" fill="#fff" stroke="#ff0000" stroke-width="0.8"/><circle cx="305.43" cy="66.84" r="1.5" fill="#fff" stroke="#ff0000" stroke-width="0.8"/><circle cx="308.21" cy="65.62" r="1.5" fill="#fff" stroke="#ff0000" stroke-width="0.8"/><circle cx="310.98" cy="64.35" r="1.5" fill="#fff" stroke="#ff0000" stroke-width="0.8"/><circle cx="313.76" cy="63.01" r="1.5" fill="#fff" stroke="#ff0000" stroke-width="0.8"/><circle cx="316.53" cy="61.58" r="1.5" fill="#fff" stroke="#ff0000" stroke-width="0.8"/><circle cx="319.3" cy="60.11" r="1.5" fill="#fff" stroke="#ff0000" stroke-width="0.8"/><circle cx="321.94" cy="57.05" r="1.5" fill="#fff" stroke="#ff0000" stroke-width="0.8"/><circle cx="324.56" cy="53.63" r="1.5" fill="#fff" stroke="#ff0000" stroke-width="0.8"/><circle cx="327.21" cy="50.53" r="1.5" fill="#fff" stroke="#ff0000" stroke-width="0.8"/><circle cx="329.92" cy="48.12" r="1.5" fill="#fff" stroke="#ff0000" stroke-width="0.8"/><circle cx="332.39" cy="43.63" r="1.5" fill="#fff" stroke="#ff0000" stroke-width="0.8"/><circle cx="334.01" cy="35.66" r="1.5" fill="#fff" stroke="#ff0000" stroke-width="0.8"/><circle cx="335.68" cy="27.79" r="1.5" fill="#fff" stroke="#ff0000" stroke-width="0.8"/><circle cx="337.21" cy="19.62" r="1.5" fill="#fff" stroke="#ff0000" stroke-width="0.8"/><circle cx="339.35" cy="13.36" r="1.5" fill="#fff" stroke="#ff0000" stroke-width="0.8"/><circle cx="341.84" cy="8.92" r="1.5" fill="#fff" stroke="#ff0000" stroke-width="0.8"/><circle cx="344.41" cy="5.03" r="1.5" fill="#fff" stroke="#ff0000" stroke-width="0.8"/><circle cx="347.14" cy="2.89" r="1.5" fill="#fff" stroke="#ff0000" stroke-width="0.8"/><circle cx="349.91" cy="1.54" r="1.5" fill="#fff" stroke="#ff0000" stroke-width="0.8"/></g><line x1="283.25" y1="-2" x2="283.25" y2="91.4" stroke="#000" stroke-width="1.5" /><line x1="362.95" y1="-2" x2="362.95" y2="91.4" stroke="#000" stroke-width="1.5" /><line x1="282.5" y1="91.4" x2="363.7" y2="91.4" stroke="#000" stroke-width="1.5" /><line x1="283.25" y1="8.9" x2="284.85" y2="8.9" stroke="#000" stroke-width="0.9" /><line x1="283.25" y1="22.5" x2="284.85" y2="22.5" stroke="#000" stroke-width="0.9" /><line x1="283.25" y1="36.1" x2="284.85" y2="36.1" stroke="#000" stroke-width="0.9" /><line x1="283.25" y1="49.7" x2="284.85" y2="49.7" stroke="#000" stroke-width="0.9" /><line x1="283.25" y1="63.3" x2="284.85" y2="63.3" stroke="#000" stroke-width="0.9" /><line x1="283.25" y1="76.9" x2="284.85" y2="76.9" stroke="#000" stroke-width="0.9" /><line x1="291.25" y1="91.4" x2="291.25" y2="89.8" stroke="#000" stroke-width="0.9" /><line x1="307.25" y1="91.4" x2="307.25" y2="89.8" stroke="#000" stroke-width="0.9" /><line x1="323.25" y1="91.4" x2="323.25" y2="89.8" stroke="#000" stroke-width="0.9" /><line x1="339.25" y1="91.4" x2="339.25" y2="89.8" stroke="#000" stroke-width="0.9" /><line x1="355.25" y1="91.4" x2="355.25" y2="89.8" stroke="#000" stroke-width="0.9" /><text x="290.75" y="101.1" font-size="9.3" text-anchor="middle" font-weight="bold" font-style="normal" fill="#000" stroke="#000" stroke-width="0.28" stroke-linejoin="round" >-4</text><text x="306.75" y="101.1" font-size="9.3" text-anchor="middle" font-weight="bold" font-style="normal" fill="#000" stroke="#000" stroke-width="0.28" stroke-linejoin="round" >-2</text><text x="323.35" y="101.1" font-size="9.3" text-anchor="middle" font-weight="bold" font-style="normal" fill="#000" stroke="#000" stroke-width="0.28" stroke-linejoin="round" >0</text><text x="339.35" y="101.1" font-size="9.3" text-anchor="middle" font-weight="bold" font-style="normal" fill="#000" stroke="#000" stroke-width="0.28" stroke-linejoin="round" >2</text><text x="355.35" y="101.1" font-size="9.3" text-anchor="middle" font-weight="bold" font-style="normal" fill="#000" stroke="#000" stroke-width="0.28" stroke-linejoin="round" >4</text><rect x="287.05" y="-8" width="23.3" height="10.5" fill="#c8c8c8" /><text x="298.65" y="1.3" font-size="8" text-anchor="middle" font-weight="bold" font-style="normal" fill="#000" stroke="#000" stroke-width="0.28" stroke-linejoin="round" >HZO</text><rect x="287.05" y="3.3" width="23.3" height="8.6" fill="#ffe2a0" /><text x="297.85" y="10" font-size="8.3" text-anchor="middle" font-weight="bold" font-style="italic" fill="#ff7a10" stroke="#ff7a10" stroke-width="0.28" stroke-linejoin="round" >TiN</text><g clip-path="url(#clip4)"><line x1="366.9" y1="36.1" x2="446.6" y2="36.1" stroke="#555" stroke-width="1.1" /><line x1="406.9" y1="-2" x2="406.9" y2="91.4" stroke="#555" stroke-width="1.1" /><path d="M378.1,51.88 L378.24,51.77 L378.38,51.66 L378.53,51.56 L378.67,51.45 L378.81,51.35 L378.95,51.24 L379.1,51.14 L379.24,51.03 L379.38,50.93 L379.52,50.82 L379.66,50.72 L379.81,50.61 L379.95,50.51 L380.09,50.41 L380.23,50.31 L380.37,50.2 L380.52,50.1 L380.66,50 L380.8,49.9 L380.94,49.8 L381.09,49.69 L381.23,49.59 L381.37,49.49 L381.51,49.39 L381.65,49.29 L381.8,49.19 L381.94,49.09 L382.08,48.99 L382.22,48.9 L382.36,48.8 L382.51,48.7 L382.65,48.6 L382.79,48.5 L382.93,48.4 L383.08,48.31 L383.22,48.21 L383.36,48.11 L383.5,48.02 L383.64,47.92 L383.79,47.82 L383.93,47.73 L384.07,47.63 L384.21,47.54 L384.35,47.44 L384.5,47.35 L384.64,47.25 L384.78,47.16 L384.92,47.06 L385.07,46.97 L385.21,46.88 L385.35,46.78 L385.49,46.69 L385.63,46.6 L385.78,46.5 L385.92,46.41 L386.06,46.32 L386.2,46.23 L386.35,46.14 L386.49,46.04 L386.63,45.95 L386.77,45.86 L386.91,45.77 L387.06,45.68 L387.2,45.59 L387.34,45.5 L387.48,45.41 L387.62,45.32 L387.77,45.23 L387.91,45.14 L388.05,45.05 L388.19,44.96 L388.34,44.88 L388.48,44.79 L388.62,44.7 L388.76,44.61 L388.9,44.52 L389.05,44.44 L389.19,44.35 L389.33,44.26 L389.47,44.18 L389.61,44.09 L389.76,44 L389.9,43.92 L390.04,43.83 L390.18,43.74 L390.33,43.66 L390.47,43.57 L390.61,43.49 L390.75,43.4 L390.89,43.32 L391.04,43.23 L391.18,43.15 L391.32,43.06 L391.46,42.98 L391.6,42.9 L391.75,42.81 L391.89,42.73 L392.03,42.65 L392.17,42.57 L392.32,42.49 L392.46,42.4 L392.6,42.32 L392.74,42.24 L392.88,42.17 L393.03,42.09 L393.17,42.01 L393.31,41.93 L393.45,41.85 L393.59,41.78 L393.74,41.7 L393.88,41.63 L394.02,41.55 L394.16,41.48 L394.31,41.4 L394.45,41.33 L394.59,41.26 L394.73,41.19 L394.87,41.12 L395.02,41.05 L395.16,40.98 L395.3,40.91 L395.44,40.85 L395.59,40.78 L395.73,40.72 L395.87,40.66 L396.01,40.59 L396.15,40.53 L396.3,40.47 L396.44,40.41 L396.58,40.36 L396.72,40.3 L396.86,40.24 L397.01,40.18 L397.15,40.13 L397.29,40.07 L397.43,40.01 L397.58,39.96 L397.72,39.9 L397.86,39.85 L398,39.79 L398.14,39.74 L398.29,39.68 L398.43,39.63 L398.57,39.57 L398.71,39.52 L398.85,39.46 L399,39.4 L399.14,39.35 L399.28,39.29 L399.42,39.23 L399.57,39.17 L399.71,39.11 L399.85,39.05 L399.99,38.99 L400.13,38.93 L400.28,38.87 L400.42,38.8 L400.56,38.74 L400.7,38.67 L400.84,38.6 L400.99,38.53 L401.13,38.46 L401.27,38.39 L401.41,38.32 L401.56,38.24 L401.7,38.17 L401.84,38.09 L401.98,38.01 L402.12,37.93 L402.27,37.84 L402.41,37.75 L402.55,37.66 L402.69,37.57 L402.84,37.48 L402.98,37.38 L403.12,37.28 L403.26,37.18 L403.4,37.08 L403.55,36.97 L403.69,36.87 L403.83,36.76 L403.97,36.65 L404.11,36.54 L404.26,36.43 L404.4,36.32 L404.54,36.21 L404.68,36.09 L404.83,35.98 L404.97,35.86 L405.11,35.74 L405.25,35.62 L405.39,35.51 L405.54,35.39 L405.68,35.27 L405.82,35.15 L405.96,35.02 L406.1,34.9 L406.25,34.78 L406.39,34.66 L406.53,34.54 L406.67,34.41 L406.82,34.29 L406.96,34.17 L407.1,34.05 L407.24,33.93 L407.38,33.81 L407.53,33.68 L407.67,33.56 L407.81,33.44 L407.95,33.32 L408.09,33.21 L408.24,33.09 L408.38,32.97 L408.52,32.85 L408.66,32.74 L408.81,32.63 L408.95,32.51 L409.09,32.4 L409.23,32.29 L409.37,32.18 L409.52,32.07 L409.66,31.97 L409.8,31.86 L409.94,31.76 L410.08,31.66 L410.23,31.56 L410.37,31.46 L410.51,31.37 L410.65,31.27 L410.8,31.18 L410.94,31.09 L411.08,31.01 L411.22,30.92 L411.36,30.84 L411.51,30.76 L411.65,30.68 L411.79,30.6 L411.93,30.53 L412.08,30.45 L412.22,30.38 L412.36,30.3 L412.5,30.23 L412.64,30.16 L412.79,30.09 L412.93,30.02 L413.07,29.95 L413.21,29.88 L413.35,29.81 L413.5,29.75 L413.64,29.68 L413.78,29.61 L413.92,29.55 L414.07,29.48 L414.21,29.42 L414.35,29.36 L414.49,29.29 L414.63,29.23 L414.78,29.17 L414.92,29.1 L415.06,29.04 L415.2,28.98 L415.34,28.92 L415.49,28.85 L415.63,28.79 L415.77,28.73 L415.91,28.66 L416.06,28.6 L416.2,28.54 L416.34,28.47 L416.48,28.41 L416.62,28.34 L416.77,28.28 L416.91,28.21 L417.05,28.14 L417.19,28.08 L417.33,28.01 L417.48,27.94 L417.62,27.87 L417.76,27.8 L417.9,27.73 L418.05,27.66 L418.19,27.59 L418.33,27.51 L418.47,27.44 L418.61,27.37 L418.76,27.29 L418.9,27.22 L419.04,27.14 L419.18,27.06 L419.33,26.99 L419.47,26.91 L419.61,26.84 L419.75,26.76 L419.89,26.68 L420.04,26.61 L420.18,26.53 L420.32,26.45 L420.46,26.37 L420.6,26.3 L420.75,26.22 L420.89,26.14 L421.03,26.07 L421.17,25.99 L421.32,25.91 L421.46,25.84 L421.6,25.76 L421.74,25.69 L421.88,25.61 L422.03,25.54 L422.17,25.47 L422.31,25.39 L422.45,25.32 L422.59,25.25 L422.74,25.18 L422.88,25.11 L423.02,25.04 L423.16,24.97 L423.31,24.9 L423.45,24.83 L423.59,24.76 L423.73,24.7 L423.87,24.63 L424.02,24.57 L424.16,24.51 L424.3,24.44 L424.44,24.38 L424.58,24.32 L424.73,24.27 L424.87,24.21 L425.01,24.15 L425.15,24.1 L425.3,24.04 L425.44,23.99 L425.58,23.93 L425.72,23.88 L425.86,23.83 L426.01,23.78 L426.15,23.72 L426.29,23.67 L426.43,23.62 L426.57,23.57 L426.72,23.52 L426.86,23.47 L427,23.42 L427.14,23.37 L427.29,23.32 L427.43,23.27 L427.57,23.22 L427.71,23.17 L427.85,23.11 L428,23.06 L428.14,23.01 L428.28,22.96 L428.42,22.9 L428.57,22.85 L428.71,22.8 L428.85,22.74 L428.99,22.68 L429.13,22.63 L429.28,22.57 L429.42,22.51 L429.56,22.45 L429.7,22.39 L429.84,22.33 L429.99,22.27 L430.13,22.2 L430.27,22.14 L430.41,22.07 L430.56,22 L430.7,21.93 L430.84,21.86 L430.98,21.79 L431.12,21.71 L431.27,21.64 L431.41,21.56 L431.55,21.48 L431.69,21.41 L431.83,21.33 L431.98,21.25 L432.12,21.16 L432.26,21.08 L432.4,21 L432.55,20.91 L432.69,20.83 L432.83,20.74 L432.97,20.65 L433.11,20.57 L433.26,20.48 L433.4,20.39 L433.54,20.3 L433.68,20.21 L433.82,20.11 L433.97,20.02 L434.11,19.93 L434.25,19.83 L434.39,19.74 L434.54,19.64 L434.68,19.55 L434.82,19.45" fill="none" stroke="#000" stroke-width="1.6"/><path d="M378.1,51.88 L378.24,51.86 L378.38,51.84 L378.53,51.83 L378.67,51.81 L378.81,51.79 L378.95,51.77 L379.1,51.75 L379.24,51.73 L379.38,51.7 L379.52,51.68 L379.66,51.66 L379.81,51.63 L379.95,51.61 L380.09,51.58 L380.23,51.56 L380.37,51.53 L380.52,51.5 L380.66,51.48 L380.8,51.45 L380.94,51.42 L381.09,51.39 L381.23,51.36 L381.37,51.33 L381.51,51.3 L381.65,51.26 L381.8,51.23 L381.94,51.2 L382.08,51.16 L382.22,51.13 L382.36,51.1 L382.51,51.06 L382.65,51.02 L382.79,50.99 L382.93,50.95 L383.08,50.91 L383.22,50.88 L383.36,50.84 L383.5,50.8 L383.64,50.76 L383.79,50.72 L383.93,50.68 L384.07,50.64 L384.21,50.6 L384.35,50.56 L384.5,50.52 L384.64,50.47 L384.78,50.43 L384.92,50.39 L385.07,50.35 L385.21,50.3 L385.35,50.26 L385.49,50.21 L385.63,50.17 L385.78,50.13 L385.92,50.08 L386.06,50.03 L386.2,49.99 L386.35,49.94 L386.49,49.9 L386.63,49.85 L386.77,49.8 L386.91,49.76 L387.06,49.71 L387.2,49.66 L387.34,49.61 L387.48,49.56 L387.62,49.52 L387.77,49.47 L387.91,49.42 L388.05,49.37 L388.19,49.32 L388.34,49.27 L388.48,49.22 L388.62,49.17 L388.76,49.12 L388.9,49.07 L389.05,49.02 L389.19,48.97 L389.33,48.92 L389.47,48.87 L389.61,48.81 L389.76,48.75 L389.9,48.7 L390.04,48.64 L390.18,48.58 L390.33,48.51 L390.47,48.45 L390.61,48.39 L390.75,48.32 L390.89,48.26 L391.04,48.19 L391.18,48.12 L391.32,48.05 L391.46,47.98 L391.6,47.91 L391.75,47.84 L391.89,47.77 L392.03,47.7 L392.17,47.62 L392.32,47.55 L392.46,47.48 L392.6,47.4 L392.74,47.32 L392.88,47.25 L393.03,47.17 L393.17,47.09 L393.31,47.02 L393.45,46.94 L393.59,46.86 L393.74,46.78 L393.88,46.7 L394.02,46.62 L394.16,46.54 L394.31,46.46 L394.45,46.38 L394.59,46.3 L394.73,46.22 L394.87,46.14 L395.02,46.06 L395.16,45.98 L395.3,45.9 L395.44,45.82 L395.59,45.74 L395.73,45.66 L395.87,45.58 L396.01,45.5 L396.15,45.41 L396.3,45.33 L396.44,45.24 L396.58,45.16 L396.72,45.07 L396.86,44.98 L397.01,44.89 L397.15,44.8 L397.29,44.71 L397.43,44.62 L397.58,44.53 L397.72,44.44 L397.86,44.34 L398,44.25 L398.14,44.16 L398.29,44.06 L398.43,43.97 L398.57,43.87 L398.71,43.78 L398.85,43.68 L399,43.59 L399.14,43.49 L399.28,43.4 L399.42,43.31 L399.57,43.21 L399.71,43.12 L399.85,43.02 L399.99,42.93 L400.13,42.84 L400.28,42.75 L400.42,42.65 L400.56,42.56 L400.7,42.47 L400.84,42.38 L400.99,42.3 L401.13,42.21 L401.27,42.12 L401.41,42.04 L401.56,41.95 L401.7,41.87 L401.84,41.78 L401.98,41.7 L402.12,41.62 L402.27,41.53 L402.41,41.45 L402.55,41.36 L402.69,41.28 L402.84,41.2 L402.98,41.11 L403.12,41.03 L403.26,40.94 L403.4,40.85 L403.55,40.77 L403.69,40.68 L403.83,40.6 L403.97,40.51 L404.11,40.43 L404.26,40.34 L404.4,40.26 L404.54,40.17 L404.68,40.09 L404.83,40 L404.97,39.92 L405.11,39.83 L405.25,39.75 L405.39,39.67 L405.54,39.58 L405.68,39.5 L405.82,39.42 L405.96,39.33 L406.1,39.25 L406.25,39.17 L406.39,39.09 L406.53,39.01 L406.67,38.93 L406.82,38.85 L406.96,38.77 L407.1,38.69 L407.24,38.61 L407.38,38.54 L407.53,38.46 L407.67,38.38 L407.81,38.31 L407.95,38.23 L408.09,38.16 L408.24,38.09 L408.38,38.01 L408.52,37.94 L408.66,37.87 L408.81,37.8 L408.95,37.73 L409.09,37.67 L409.23,37.6 L409.37,37.53 L409.52,37.47 L409.66,37.41 L409.8,37.34 L409.94,37.28 L410.08,37.22 L410.23,37.16 L410.37,37.1 L410.51,37.05 L410.65,36.99 L410.8,36.94 L410.94,36.88 L411.08,36.83 L411.22,36.78 L411.36,36.73 L411.51,36.68 L411.65,36.64 L411.79,36.59 L411.93,36.54 L412.08,36.5 L412.22,36.46 L412.36,36.41 L412.5,36.37 L412.64,36.33 L412.79,36.29 L412.93,36.25 L413.07,36.21 L413.21,36.18 L413.35,36.14 L413.5,36.1 L413.64,36.07 L413.78,36.03 L413.92,36 L414.07,35.96 L414.21,35.93 L414.35,35.9 L414.49,35.86 L414.63,35.83 L414.78,35.8 L414.92,35.77 L415.06,35.73 L415.2,35.7 L415.34,35.67 L415.49,35.64 L415.63,35.61 L415.77,35.58 L415.91,35.55 L416.06,35.52 L416.2,35.49 L416.34,35.46 L416.48,35.43 L416.62,35.4 L416.77,35.37 L416.91,35.34 L417.05,35.31 L417.19,35.28 L417.33,35.25 L417.48,35.22 L417.62,35.19 L417.76,35.16 L417.9,35.13 L418.05,35.1 L418.19,35.06 L418.33,35.03 L418.47,35 L418.61,34.97 L418.76,34.93 L418.9,34.9 L419.04,34.86 L419.18,34.83 L419.33,34.79 L419.47,34.76 L419.61,34.72 L419.75,34.68 L419.89,34.65 L420.04,34.61 L420.18,34.57 L420.32,34.53 L420.46,34.48 L420.6,34.44 L420.75,34.4 L420.89,34.36 L421.03,34.31 L421.17,34.26 L421.32,34.22 L421.46,34.17 L421.6,34.12 L421.74,34.07 L421.88,34.02 L422.03,33.97 L422.17,33.92 L422.31,33.87 L422.45,33.82 L422.59,33.76 L422.74,33.71 L422.88,33.66 L423.02,33.6 L423.16,33.55 L423.31,33.49 L423.45,33.43 L423.59,33.37 L423.73,33.31 L423.87,33.25 L424.02,33.19 L424.16,33.13 L424.3,33.07 L424.44,33 L424.58,32.94 L424.73,32.87 L424.87,32.8 L425.01,32.74 L425.15,32.67 L425.3,32.59 L425.44,32.52 L425.58,32.45 L425.72,32.37 L425.86,32.29 L426.01,32.22 L426.15,32.14 L426.29,32.05 L426.43,31.97 L426.57,31.89 L426.72,31.8 L426.86,31.71 L427,31.62 L427.14,31.53 L427.29,31.44 L427.43,31.34 L427.57,31.25 L427.71,31.15 L427.85,31.05 L428,30.95 L428.14,30.84 L428.28,30.72 L428.42,30.6 L428.57,30.48 L428.71,30.35 L428.85,30.21 L428.99,30.07 L429.13,29.93 L429.28,29.78 L429.42,29.62 L429.56,29.46 L429.7,29.3 L429.84,29.13 L429.99,28.95 L430.13,28.77 L430.27,28.59 L430.41,28.4 L430.56,28.21 L430.7,28.01 L430.84,27.81 L430.98,27.61 L431.12,27.4 L431.27,27.19 L431.41,26.98 L431.55,26.76 L431.69,26.54 L431.83,26.31 L431.98,26.07 L432.12,25.82 L432.26,25.56 L432.4,25.28 L432.55,25 L432.69,24.71 L432.83,24.41 L432.97,24.1 L433.11,23.79 L433.26,23.46 L433.4,23.13 L433.54,22.79 L433.68,22.44 L433.82,22.09 L433.97,21.73 L434.11,21.36 L434.25,20.99 L434.39,20.61 L434.54,20.23 L434.68,19.84 L434.82,19.45" fill="none" stroke="#000" stroke-width="1.6"/><circle cx="378.1" cy="51.88" r="1.25" fill="#fff" stroke="#000" stroke-width="0.75"/><circle cx="380.84" cy="49.87" r="1.25" fill="#fff" stroke="#000" stroke-width="0.75"/><circle cx="383.59" cy="47.96" r="1.25" fill="#fff" stroke="#000" stroke-width="0.75"/><circle cx="386.34" cy="46.14" r="1.25" fill="#fff" stroke="#000" stroke-width="0.75"/><circle cx="389.09" cy="44.41" r="1.25" fill="#fff" stroke="#000" stroke-width="0.75"/><circle cx="391.85" cy="42.75" r="1.25" fill="#fff" stroke="#000" stroke-width="0.75"/><circle cx="394.62" cy="41.24" r="1.25" fill="#fff" stroke="#000" stroke-width="0.75"/><circle cx="397.4" cy="40.03" r="1.25" fill="#fff" stroke="#000" stroke-width="0.75"/><circle cx="400.18" cy="38.91" r="1.25" fill="#fff" stroke="#000" stroke-width="0.75"/><circle cx="402.95" cy="37.4" r="1.25" fill="#fff" stroke="#000" stroke-width="0.75"/><circle cx="405.68" cy="35.27" r="1.25" fill="#fff" stroke="#000" stroke-width="0.75"/><circle cx="408.4" cy="32.95" r="1.25" fill="#fff" stroke="#000" stroke-width="0.75"/><circle cx="411.14" cy="30.97" r="1.25" fill="#fff" stroke="#000" stroke-width="0.75"/><circle cx="413.91" cy="29.55" r="1.25" fill="#fff" stroke="#000" stroke-width="0.75"/><circle cx="416.69" cy="28.31" r="1.25" fill="#fff" stroke="#000" stroke-width="0.75"/><circle cx="419.46" cy="26.92" r="1.25" fill="#fff" stroke="#000" stroke-width="0.75"/><circle cx="422.23" cy="25.43" r="1.25" fill="#fff" stroke="#000" stroke-width="0.75"/><circle cx="425" cy="24.16" r="1.25" fill="#fff" stroke="#000" stroke-width="0.75"/><circle cx="427.79" cy="23.14" r="1.25" fill="#fff" stroke="#000" stroke-width="0.75"/><circle cx="430.57" cy="21.99" r="1.25" fill="#fff" stroke="#000" stroke-width="0.75"/><circle cx="433.33" cy="20.43" r="1.25" fill="#fff" stroke="#000" stroke-width="0.75"/><circle cx="378.1" cy="51.88" r="1.25" fill="#fff" stroke="#000" stroke-width="0.75"/><circle cx="380.9" cy="51.43" r="1.25" fill="#fff" stroke="#000" stroke-width="0.75"/><circle cx="383.69" cy="50.75" r="1.25" fill="#fff" stroke="#000" stroke-width="0.75"/><circle cx="386.48" cy="49.9" r="1.25" fill="#fff" stroke="#000" stroke-width="0.75"/><circle cx="389.27" cy="48.94" r="1.25" fill="#fff" stroke="#000" stroke-width="0.75"/><circle cx="392.04" cy="47.69" r="1.25" fill="#fff" stroke="#000" stroke-width="0.75"/><circle cx="394.81" cy="46.18" r="1.25" fill="#fff" stroke="#000" stroke-width="0.75"/><circle cx="397.57" cy="44.53" r="1.25" fill="#fff" stroke="#000" stroke-width="0.75"/><circle cx="400.32" cy="42.72" r="1.25" fill="#fff" stroke="#000" stroke-width="0.75"/><circle cx="403.08" cy="41.05" r="1.25" fill="#fff" stroke="#000" stroke-width="0.75"/><circle cx="405.84" cy="39.4" r="1.25" fill="#fff" stroke="#000" stroke-width="0.75"/><circle cx="408.61" cy="37.9" r="1.25" fill="#fff" stroke="#000" stroke-width="0.75"/><circle cx="411.39" cy="36.72" r="1.25" fill="#fff" stroke="#000" stroke-width="0.75"/><circle cx="414.18" cy="35.94" r="1.25" fill="#fff" stroke="#000" stroke-width="0.75"/><circle cx="416.97" cy="35.33" r="1.25" fill="#fff" stroke="#000" stroke-width="0.75"/><circle cx="419.77" cy="34.68" r="1.25" fill="#fff" stroke="#000" stroke-width="0.75"/><circle cx="422.55" cy="33.78" r="1.25" fill="#fff" stroke="#000" stroke-width="0.75"/><circle cx="425.33" cy="32.58" r="1.25" fill="#fff" stroke="#000" stroke-width="0.75"/><circle cx="428.09" cy="30.87" r="1.25" fill="#fff" stroke="#000" stroke-width="0.75"/><circle cx="430.76" cy="27.93" r="1.25" fill="#fff" stroke="#000" stroke-width="0.75"/><circle cx="433.25" cy="23.48" r="1.25" fill="#fff" stroke="#000" stroke-width="0.75"/><path d="M374.9,56.55 L375.05,56.39 L375.2,56.22 L375.35,56.06 L375.5,55.89 L375.65,55.73 L375.8,55.56 L375.95,55.4 L376.1,55.24 L376.25,55.07 L376.4,54.91 L376.55,54.75 L376.7,54.58 L376.85,54.42 L377,54.26 L377.15,54.1 L377.3,53.93 L377.45,53.77 L377.6,53.61 L377.75,53.45 L377.9,53.29 L378.05,53.13 L378.2,52.96 L378.35,52.8 L378.5,52.64 L378.65,52.48 L378.8,52.32 L378.95,52.16 L379.1,52 L379.26,51.84 L379.41,51.69 L379.56,51.53 L379.71,51.37 L379.86,51.21 L380.01,51.05 L380.16,50.89 L380.31,50.73 L380.46,50.58 L380.61,50.42 L380.76,50.26 L380.91,50.1 L381.06,49.95 L381.21,49.79 L381.36,49.63 L381.51,49.48 L381.66,49.32 L381.81,49.17 L381.96,49.01 L382.11,48.85 L382.26,48.7 L382.41,48.54 L382.56,48.39 L382.71,48.24 L382.86,48.08 L383.01,47.93 L383.16,47.78 L383.31,47.62 L383.46,47.47 L383.61,47.32 L383.76,47.17 L383.91,47.02 L384.06,46.87 L384.21,46.72 L384.36,46.58 L384.51,46.43 L384.66,46.28 L384.81,46.13 L384.96,45.99 L385.11,45.84 L385.26,45.69 L385.41,45.55 L385.56,45.4 L385.71,45.25 L385.86,45.11 L386.01,44.96 L386.16,44.81 L386.31,44.66 L386.46,44.52 L386.61,44.37 L386.76,44.22 L386.91,44.07 L387.06,43.92 L387.21,43.78 L387.36,43.63 L387.51,43.48 L387.66,43.32 L387.82,43.17 L387.97,43.02 L388.12,42.87 L388.27,42.72 L388.42,42.56 L388.57,42.41 L388.72,42.25 L388.87,42.09 L389.02,41.94 L389.17,41.78 L389.32,41.62 L389.47,41.46 L389.62,41.29 L389.77,41.13 L389.92,40.97 L390.07,40.8 L390.22,40.63 L390.37,40.47 L390.52,40.3 L390.67,40.13 L390.82,39.96 L390.97,39.79 L391.12,39.62 L391.27,39.45 L391.42,39.28 L391.57,39.11 L391.72,38.94 L391.87,38.77 L392.02,38.6 L392.17,38.43 L392.32,38.26 L392.47,38.1 L392.62,37.93 L392.77,37.76 L392.92,37.59 L393.07,37.43 L393.22,37.26 L393.37,37.1 L393.52,36.93 L393.67,36.77 L393.82,36.61 L393.97,36.45 L394.12,36.29 L394.27,36.14 L394.42,35.98 L394.57,35.82 L394.72,35.66 L394.87,35.51 L395.02,35.35 L395.17,35.2 L395.32,35.04 L395.47,34.88 L395.62,34.73 L395.77,34.57 L395.92,34.42 L396.07,34.27 L396.22,34.11 L396.38,33.96 L396.53,33.81 L396.68,33.65 L396.83,33.5 L396.98,33.35 L397.13,33.2 L397.28,33.05 L397.43,32.91 L397.58,32.76 L397.73,32.61 L397.88,32.47 L398.03,32.32 L398.18,32.18 L398.33,32.03 L398.48,31.89 L398.63,31.75 L398.78,31.61 L398.93,31.47 L399.08,31.33 L399.23,31.2 L399.38,31.06 L399.53,30.93 L399.68,30.79 L399.83,30.66 L399.98,30.53 L400.13,30.4 L400.28,30.27 L400.43,30.14 L400.58,30.01 L400.73,29.88 L400.88,29.76 L401.03,29.63 L401.18,29.51 L401.33,29.38 L401.48,29.26 L401.63,29.13 L401.78,29.01 L401.93,28.89 L402.08,28.77 L402.23,28.65 L402.38,28.53 L402.53,28.41 L402.68,28.29 L402.83,28.17 L402.98,28.05 L403.13,27.93 L403.28,27.8 L403.43,27.68 L403.58,27.56 L403.73,27.43 L403.88,27.31 L404.03,27.19 L404.18,27.07 L404.33,26.96 L404.48,26.85 L404.63,26.74 L404.78,26.64 L404.94,26.55 L405.09,26.46 L405.24,26.38 L405.39,26.3 L405.54,26.21 L405.69,26.13 L405.84,26.05 L405.99,25.98 L406.14,25.9 L406.29,25.83 L406.44,25.75 L406.59,25.68 L406.74,25.61 L406.89,25.54 L407.04,25.47 L407.19,25.4 L407.34,25.34 L407.49,25.27 L407.64,25.21 L407.79,25.14 L407.94,25.08 L408.09,25.02 L408.24,24.95 L408.39,24.89 L408.54,24.83 L408.69,24.77 L408.84,24.71 L408.99,24.65 L409.14,24.59 L409.29,24.54 L409.44,24.48 L409.59,24.42 L409.74,24.36 L409.89,24.31 L410.04,24.25 L410.19,24.19 L410.34,24.14 L410.49,24.08 L410.64,24.02 L410.79,23.97 L410.94,23.91 L411.09,23.85 L411.24,23.79 L411.39,23.74 L411.54,23.68 L411.69,23.62 L411.84,23.56 L411.99,23.5 L412.14,23.44 L412.29,23.38 L412.44,23.32 L412.59,23.26 L412.74,23.19 L412.89,23.13 L413.04,23.07 L413.19,23.01 L413.34,22.94 L413.5,22.88 L413.65,22.82 L413.8,22.76 L413.95,22.69 L414.1,22.63 L414.25,22.57 L414.4,22.51 L414.55,22.45 L414.7,22.38 L414.85,22.32 L415,22.26 L415.15,22.2 L415.3,22.14 L415.45,22.07 L415.6,22.01 L415.75,21.95 L415.9,21.89 L416.05,21.83 L416.2,21.77 L416.35,21.7 L416.5,21.64 L416.65,21.58 L416.8,21.52 L416.95,21.46 L417.1,21.4 L417.25,21.34 L417.4,21.28 L417.55,21.22 L417.7,21.16 L417.85,21.1 L418,21.04 L418.15,20.99 L418.3,20.93 L418.45,20.87 L418.6,20.81 L418.75,20.75 L418.9,20.69 L419.05,20.64 L419.2,20.58 L419.35,20.52 L419.5,20.47 L419.65,20.41 L419.8,20.35 L419.95,20.3 L420.1,20.24 L420.25,20.19 L420.4,20.13 L420.55,20.08 L420.7,20.02 L420.85,19.97 L421,19.92 L421.15,19.86 L421.3,19.81 L421.45,19.76 L421.6,19.7 L421.75,19.65 L421.9,19.6 L422.06,19.54 L422.21,19.49 L422.36,19.44 L422.51,19.39 L422.66,19.33 L422.81,19.28 L422.96,19.23 L423.11,19.18 L423.26,19.13 L423.41,19.07 L423.56,19.02 L423.71,18.97 L423.86,18.92 L424.01,18.87 L424.16,18.82 L424.31,18.77 L424.46,18.72 L424.61,18.67 L424.76,18.62 L424.91,18.57 L425.06,18.52 L425.21,18.47 L425.36,18.42 L425.51,18.37 L425.66,18.32 L425.81,18.28 L425.96,18.23 L426.11,18.18 L426.26,18.13 L426.41,18.08 L426.56,18.04 L426.71,17.99 L426.86,17.94 L427.01,17.89 L427.16,17.85 L427.31,17.8 L427.46,17.75 L427.61,17.71 L427.76,17.66 L427.91,17.61 L428.06,17.57 L428.21,17.52 L428.36,17.47 L428.51,17.43 L428.66,17.38 L428.81,17.34 L428.96,17.29 L429.11,17.25 L429.26,17.2 L429.41,17.16 L429.56,17.11 L429.71,17.07 L429.86,17.02 L430.01,16.98 L430.16,16.94 L430.31,16.89 L430.46,16.85 L430.62,16.8 L430.77,16.76 L430.92,16.72 L431.07,16.67 L431.22,16.63 L431.37,16.59 L431.52,16.55 L431.67,16.5 L431.82,16.46 L431.97,16.42 L432.12,16.38 L432.27,16.33 L432.42,16.29 L432.57,16.25 L432.72,16.21 L432.87,16.17 L433.02,16.13 L433.17,16.09 L433.32,16.04 L433.47,16 L433.62,15.96 L433.77,15.92 L433.92,15.88 L434.07,15.84 L434.22,15.8 L434.37,15.76 L434.52,15.72 L434.67,15.68 L434.82,15.65" fill="none" stroke="#ff0000" stroke-width="1.4"/><path d="M374.9,56.55 L375.05,56.49 L375.2,56.42 L375.35,56.36 L375.5,56.29 L375.65,56.23 L375.8,56.16 L375.95,56.1 L376.1,56.04 L376.25,55.97 L376.4,55.91 L376.55,55.85 L376.7,55.78 L376.85,55.72 L377,55.66 L377.15,55.6 L377.3,55.53 L377.45,55.47 L377.6,55.41 L377.75,55.35 L377.9,55.29 L378.05,55.23 L378.2,55.17 L378.35,55.11 L378.5,55.05 L378.65,54.99 L378.8,54.93 L378.95,54.87 L379.1,54.81 L379.26,54.76 L379.41,54.7 L379.56,54.64 L379.71,54.58 L379.86,54.52 L380.01,54.47 L380.16,54.41 L380.31,54.35 L380.46,54.3 L380.61,54.24 L380.76,54.19 L380.91,54.13 L381.06,54.08 L381.21,54.02 L381.36,53.97 L381.51,53.91 L381.66,53.86 L381.81,53.81 L381.96,53.75 L382.11,53.7 L382.26,53.65 L382.41,53.6 L382.56,53.54 L382.71,53.49 L382.86,53.44 L383.01,53.39 L383.16,53.34 L383.31,53.29 L383.46,53.24 L383.61,53.2 L383.76,53.15 L383.91,53.11 L384.06,53.06 L384.21,53.02 L384.36,52.97 L384.51,52.93 L384.66,52.88 L384.81,52.84 L384.96,52.8 L385.11,52.76 L385.26,52.71 L385.41,52.67 L385.56,52.63 L385.71,52.59 L385.86,52.54 L386.01,52.5 L386.16,52.46 L386.31,52.41 L386.46,52.37 L386.61,52.33 L386.76,52.28 L386.91,52.24 L387.06,52.19 L387.21,52.15 L387.36,52.1 L387.51,52.05 L387.66,52.01 L387.82,51.96 L387.97,51.91 L388.12,51.86 L388.27,51.81 L388.42,51.75 L388.57,51.7 L388.72,51.65 L388.87,51.59 L389.02,51.54 L389.17,51.48 L389.32,51.42 L389.47,51.36 L389.62,51.3 L389.77,51.24 L389.92,51.17 L390.07,51.11 L390.22,51.05 L390.37,50.98 L390.52,50.91 L390.67,50.85 L390.82,50.78 L390.97,50.71 L391.12,50.64 L391.27,50.57 L391.42,50.5 L391.57,50.43 L391.72,50.36 L391.87,50.28 L392.02,50.21 L392.17,50.13 L392.32,50.06 L392.47,49.98 L392.62,49.91 L392.77,49.83 L392.92,49.75 L393.07,49.68 L393.22,49.6 L393.37,49.52 L393.52,49.44 L393.67,49.36 L393.82,49.28 L393.97,49.2 L394.12,49.12 L394.27,49.04 L394.42,48.96 L394.57,48.88 L394.72,48.8 L394.87,48.72 L395.02,48.63 L395.17,48.55 L395.32,48.47 L395.47,48.39 L395.62,48.3 L395.77,48.22 L395.92,48.14 L396.07,48.05 L396.22,47.97 L396.38,47.88 L396.53,47.79 L396.68,47.7 L396.83,47.62 L396.98,47.53 L397.13,47.44 L397.28,47.35 L397.43,47.26 L397.58,47.16 L397.73,47.07 L397.88,46.98 L398.03,46.89 L398.18,46.79 L398.33,46.7 L398.48,46.61 L398.63,46.51 L398.78,46.41 L398.93,46.32 L399.08,46.22 L399.23,46.13 L399.38,46.03 L399.53,45.93 L399.68,45.83 L399.83,45.73 L399.98,45.63 L400.13,45.54 L400.28,45.44 L400.43,45.34 L400.58,45.24 L400.73,45.13 L400.88,45.03 L401.03,44.93 L401.18,44.83 L401.33,44.73 L401.48,44.63 L401.63,44.52 L401.78,44.42 L401.93,44.32 L402.08,44.21 L402.23,44.11 L402.38,44 L402.53,43.9 L402.68,43.79 L402.83,43.68 L402.98,43.58 L403.13,43.47 L403.28,43.36 L403.43,43.25 L403.58,43.14 L403.73,43.03 L403.88,42.91 L404.03,42.8 L404.18,42.69 L404.33,42.58 L404.48,42.46 L404.63,42.35 L404.78,42.24 L404.94,42.12 L405.09,42.01 L405.24,41.89 L405.39,41.78 L405.54,41.66 L405.69,41.55 L405.84,41.43 L405.99,41.32 L406.14,41.2 L406.29,41.08 L406.44,40.97 L406.59,40.85 L406.74,40.73 L406.89,40.62 L407.04,40.5 L407.19,40.38 L407.34,40.26 L407.49,40.14 L407.64,40.02 L407.79,39.9 L407.94,39.77 L408.09,39.65 L408.24,39.53 L408.39,39.4 L408.54,39.27 L408.69,39.15 L408.84,39.02 L408.99,38.9 L409.14,38.77 L409.29,38.64 L409.44,38.52 L409.59,38.39 L409.74,38.26 L409.89,38.14 L410.04,38.01 L410.19,37.89 L410.34,37.76 L410.49,37.64 L410.64,37.51 L410.79,37.39 L410.94,37.27 L411.09,37.14 L411.24,37.02 L411.39,36.9 L411.54,36.78 L411.69,36.66 L411.84,36.55 L411.99,36.43 L412.14,36.32 L412.29,36.2 L412.44,36.09 L412.59,35.98 L412.74,35.87 L412.89,35.76 L413.04,35.66 L413.19,35.55 L413.34,35.45 L413.5,35.35 L413.65,35.25 L413.8,35.15 L413.95,35.05 L414.1,34.95 L414.25,34.85 L414.4,34.75 L414.55,34.66 L414.7,34.56 L414.85,34.47 L415,34.37 L415.15,34.28 L415.3,34.19 L415.45,34.09 L415.6,34 L415.75,33.91 L415.9,33.82 L416.05,33.72 L416.2,33.63 L416.35,33.54 L416.5,33.45 L416.65,33.36 L416.8,33.26 L416.95,33.17 L417.1,33.08 L417.25,32.98 L417.4,32.89 L417.55,32.79 L417.7,32.7 L417.85,32.6 L418,32.51 L418.15,32.41 L418.3,32.31 L418.45,32.21 L418.6,32.11 L418.75,32.01 L418.9,31.91 L419.05,31.81 L419.2,31.7 L419.35,31.6 L419.5,31.49 L419.65,31.38 L419.8,31.27 L419.95,31.16 L420.1,31.05 L420.25,30.93 L420.4,30.81 L420.55,30.7 L420.7,30.58 L420.85,30.45 L421,30.33 L421.15,30.21 L421.3,30.08 L421.45,29.96 L421.6,29.83 L421.75,29.7 L421.9,29.57 L422.06,29.44 L422.21,29.3 L422.36,29.17 L422.51,29.03 L422.66,28.9 L422.81,28.76 L422.96,28.63 L423.11,28.49 L423.26,28.35 L423.41,28.21 L423.56,28.07 L423.71,27.93 L423.86,27.79 L424.01,27.65 L424.16,27.51 L424.31,27.36 L424.46,27.22 L424.61,27.08 L424.76,26.94 L424.91,26.8 L425.06,26.65 L425.21,26.51 L425.36,26.37 L425.51,26.23 L425.66,26.08 L425.81,25.94 L425.96,25.8 L426.11,25.66 L426.26,25.52 L426.41,25.38 L426.56,25.24 L426.71,25.1 L426.86,24.96 L427.01,24.83 L427.16,24.69 L427.31,24.56 L427.46,24.42 L427.61,24.29 L427.76,24.16 L427.91,24.03 L428.06,23.89 L428.21,23.76 L428.36,23.63 L428.51,23.5 L428.66,23.37 L428.81,23.23 L428.96,23.1 L429.11,22.96 L429.26,22.83 L429.41,22.69 L429.56,22.55 L429.71,22.41 L429.86,22.27 L430.01,22.12 L430.16,21.98 L430.31,21.83 L430.46,21.68 L430.62,21.52 L430.77,21.37 L430.92,21.21 L431.07,21.05 L431.22,20.88 L431.37,20.71 L431.52,20.54 L431.67,20.36 L431.82,20.18 L431.97,20 L432.12,19.81 L432.27,19.61 L432.42,19.41 L432.57,19.2 L432.72,18.99 L432.87,18.77 L433.02,18.55 L433.17,18.33 L433.32,18.1 L433.47,17.86 L433.62,17.63 L433.77,17.39 L433.92,17.15 L434.07,16.9 L434.22,16.66 L434.37,16.41 L434.52,16.15 L434.67,15.9 L434.82,15.65" fill="none" stroke="#ff0000" stroke-width="1.4"/><circle cx="374.9" cy="56.55" r="1.5" fill="#fff" stroke="#ff0000" stroke-width="0.8"/><circle cx="377.57" cy="53.64" r="1.5" fill="#fff" stroke="#ff0000" stroke-width="0.8"/><circle cx="380.25" cy="50.79" r="1.5" fill="#fff" stroke="#ff0000" stroke-width="0.8"/><circle cx="382.94" cy="48" r="1.5" fill="#fff" stroke="#ff0000" stroke-width="0.8"/><circle cx="385.63" cy="45.33" r="1.5" fill="#fff" stroke="#ff0000" stroke-width="0.8"/><circle cx="388.32" cy="42.66" r="1.5" fill="#fff" stroke="#ff0000" stroke-width="0.8"/><circle cx="391" cy="39.76" r="1.5" fill="#fff" stroke="#ff0000" stroke-width="0.8"/><circle cx="393.67" cy="36.78" r="1.5" fill="#fff" stroke="#ff0000" stroke-width="0.8"/><circle cx="396.35" cy="33.98" r="1.5" fill="#fff" stroke="#ff0000" stroke-width="0.8"/><circle cx="399.05" cy="31.36" r="1.5" fill="#fff" stroke="#ff0000" stroke-width="0.8"/><circle cx="401.77" cy="29.02" r="1.5" fill="#fff" stroke="#ff0000" stroke-width="0.8"/><circle cx="404.5" cy="26.84" r="1.5" fill="#fff" stroke="#ff0000" stroke-width="0.8"/><circle cx="407.26" cy="25.37" r="1.5" fill="#fff" stroke="#ff0000" stroke-width="0.8"/><circle cx="410.05" cy="24.25" r="1.5" fill="#fff" stroke="#ff0000" stroke-width="0.8"/><circle cx="412.83" cy="23.16" r="1.5" fill="#fff" stroke="#ff0000" stroke-width="0.8"/><circle cx="415.61" cy="22.01" r="1.5" fill="#fff" stroke="#ff0000" stroke-width="0.8"/><circle cx="418.39" cy="20.89" r="1.5" fill="#fff" stroke="#ff0000" stroke-width="0.8"/><circle cx="421.18" cy="19.85" r="1.5" fill="#fff" stroke="#ff0000" stroke-width="0.8"/><circle cx="423.96" cy="18.89" r="1.5" fill="#fff" stroke="#ff0000" stroke-width="0.8"/><circle cx="426.75" cy="17.98" r="1.5" fill="#fff" stroke="#ff0000" stroke-width="0.8"/><circle cx="429.54" cy="17.12" r="1.5" fill="#fff" stroke="#ff0000" stroke-width="0.8"/><circle cx="432.33" cy="16.32" r="1.5" fill="#fff" stroke="#ff0000" stroke-width="0.8"/><circle cx="374.9" cy="56.55" r="1.5" fill="#fff" stroke="#ff0000" stroke-width="0.8"/><circle cx="377.68" cy="55.38" r="1.5" fill="#fff" stroke="#ff0000" stroke-width="0.8"/><circle cx="380.46" cy="54.3" r="1.5" fill="#fff" stroke="#ff0000" stroke-width="0.8"/><circle cx="383.25" cy="53.31" r="1.5" fill="#fff" stroke="#ff0000" stroke-width="0.8"/><circle cx="386.04" cy="52.49" r="1.5" fill="#fff" stroke="#ff0000" stroke-width="0.8"/><circle cx="388.83" cy="51.61" r="1.5" fill="#fff" stroke="#ff0000" stroke-width="0.8"/><circle cx="391.61" cy="50.41" r="1.5" fill="#fff" stroke="#ff0000" stroke-width="0.8"/><circle cx="394.38" cy="48.99" r="1.5" fill="#fff" stroke="#ff0000" stroke-width="0.8"/><circle cx="397.14" cy="47.43" r="1.5" fill="#fff" stroke="#ff0000" stroke-width="0.8"/><circle cx="399.9" cy="45.69" r="1.5" fill="#fff" stroke="#ff0000" stroke-width="0.8"/><circle cx="402.64" cy="43.82" r="1.5" fill="#fff" stroke="#ff0000" stroke-width="0.8"/><circle cx="405.38" cy="41.78" r="1.5" fill="#fff" stroke="#ff0000" stroke-width="0.8"/><circle cx="408.11" cy="39.63" r="1.5" fill="#fff" stroke="#ff0000" stroke-width="0.8"/><circle cx="410.84" cy="37.35" r="1.5" fill="#fff" stroke="#ff0000" stroke-width="0.8"/><circle cx="413.58" cy="35.29" r="1.5" fill="#fff" stroke="#ff0000" stroke-width="0.8"/><circle cx="416.33" cy="33.55" r="1.5" fill="#fff" stroke="#ff0000" stroke-width="0.8"/><circle cx="419.09" cy="31.78" r="1.5" fill="#fff" stroke="#ff0000" stroke-width="0.8"/><circle cx="421.82" cy="29.64" r="1.5" fill="#fff" stroke="#ff0000" stroke-width="0.8"/><circle cx="424.53" cy="27.16" r="1.5" fill="#fff" stroke="#ff0000" stroke-width="0.8"/><circle cx="427.23" cy="24.63" r="1.5" fill="#fff" stroke="#ff0000" stroke-width="0.8"/><circle cx="429.94" cy="22.19" r="1.5" fill="#fff" stroke="#ff0000" stroke-width="0.8"/><circle cx="432.6" cy="19.15" r="1.5" fill="#fff" stroke="#ff0000" stroke-width="0.8"/></g><line x1="366.9" y1="-2" x2="366.9" y2="91.4" stroke="#000" stroke-width="1.5" /><line x1="446.6" y1="-2" x2="446.6" y2="91.4" stroke="#000" stroke-width="1.5" /><line x1="366.15" y1="91.4" x2="447.35" y2="91.4" stroke="#000" stroke-width="1.5" /><line x1="366.9" y1="8.9" x2="368.5" y2="8.9" stroke="#000" stroke-width="0.9" /><line x1="366.9" y1="22.5" x2="368.5" y2="22.5" stroke="#000" stroke-width="0.9" /><line x1="366.9" y1="36.1" x2="368.5" y2="36.1" stroke="#000" stroke-width="0.9" /><line x1="366.9" y1="49.7" x2="368.5" y2="49.7" stroke="#000" stroke-width="0.9" /><line x1="366.9" y1="63.3" x2="368.5" y2="63.3" stroke="#000" stroke-width="0.9" /><line x1="366.9" y1="76.9" x2="368.5" y2="76.9" stroke="#000" stroke-width="0.9" /><line x1="374.9" y1="91.4" x2="374.9" y2="89.8" stroke="#000" stroke-width="0.9" /><line x1="390.9" y1="91.4" x2="390.9" y2="89.8" stroke="#000" stroke-width="0.9" /><line x1="406.9" y1="91.4" x2="406.9" y2="89.8" stroke="#000" stroke-width="0.9" /><line x1="422.9" y1="91.4" x2="422.9" y2="89.8" stroke="#000" stroke-width="0.9" /><line x1="438.9" y1="91.4" x2="438.9" y2="89.8" stroke="#000" stroke-width="0.9" /><text x="374.4" y="101.1" font-size="9.3" text-anchor="middle" font-weight="bold" font-style="normal" fill="#000" stroke="#000" stroke-width="0.28" stroke-linejoin="round" >-4</text><text x="390.4" y="101.1" font-size="9.3" text-anchor="middle" font-weight="bold" font-style="normal" fill="#000" stroke="#000" stroke-width="0.28" stroke-linejoin="round" >-2</text><text x="407" y="101.1" font-size="9.3" text-anchor="middle" font-weight="bold" font-style="normal" fill="#000" stroke="#000" stroke-width="0.28" stroke-linejoin="round" >0</text><text x="423" y="101.1" font-size="9.3" text-anchor="middle" font-weight="bold" font-style="normal" fill="#000" stroke="#000" stroke-width="0.28" stroke-linejoin="round" >2</text><text x="439" y="101.1" font-size="9.3" text-anchor="middle" font-weight="bold" font-style="normal" fill="#000" stroke="#000" stroke-width="0.28" stroke-linejoin="round" >4</text><rect x="370.7" y="-8" width="23.3" height="10.5" fill="#c8c8c8" /><text x="382.3" y="1.3" font-size="8" text-anchor="middle" font-weight="bold" font-style="normal" fill="#000" stroke="#000" stroke-width="0.28" stroke-linejoin="round" >HZO</text><rect x="370.7" y="3.3" width="23.3" height="8.6" fill="#ffc4c4" /><text x="381.5" y="10" font-size="8.3" text-anchor="middle" font-weight="bold" font-style="italic" fill="#e81414" stroke="#e81414" stroke-width="0.28" stroke-linejoin="round" >Ni</text><text x="28.9" y="12.1" font-size="10.0" text-anchor="end" font-weight="bold" font-style="normal" fill="#000" stroke="#000" stroke-width="0.28" stroke-linejoin="round" >25</text><text x="28.9" y="39.3" font-size="10.0" text-anchor="end" font-weight="bold" font-style="normal" fill="#000" stroke="#000" stroke-width="0.28" stroke-linejoin="round" >0</text><text x="28.9" y="66.5" font-size="10.0" text-anchor="end" font-weight="bold" font-style="normal" fill="#000" stroke="#000" stroke-width="0.28" stroke-linejoin="round" >-25</text><text x="28.9" y="93.7" font-size="10.0" text-anchor="end" font-weight="bold" font-style="normal" fill="#000" stroke="#000" stroke-width="0.28" stroke-linejoin="round" >-50</text><text x="71.7" y="84.8" font-size="8.1" font-weight="bold" font-style="italic" fill="#ff0000" stroke="#ff0000" stroke-width="0.28" stroke-linejoin="round">2P<tspan font-size="5.4" dy="1.7">r</tspan><tspan dy="-1.7"> : 62.4</tspan></text><text x="157.65" y="84.8" font-size="8.1" font-weight="bold" font-style="italic" fill="#ff0000" stroke="#ff0000" stroke-width="0.28" stroke-linejoin="round">2P<tspan font-size="5.4" dy="1.7">r</tspan><tspan dy="-1.7"> : 46.1</tspan></text><text x="240.65" y="84.8" font-size="8.1" font-weight="bold" font-style="italic" fill="#ff0000" stroke="#ff0000" stroke-width="0.28" stroke-linejoin="round">2P<tspan font-size="5.4" dy="1.7">r</tspan><tspan dy="-1.7"> : 40.5</tspan></text><text x="325.15" y="84.8" font-size="8.1" font-weight="bold" font-style="italic" fill="#ff0000" stroke="#ff0000" stroke-width="0.28" stroke-linejoin="round">2P<tspan font-size="5.4" dy="1.7">r</tspan><tspan dy="-1.7"> : 35.8</tspan></text><text x="409.1" y="60.8" font-size="8.1" font-weight="bold" font-style="italic" fill="#ff0000" stroke="#ff0000" stroke-width="0.28" stroke-linejoin="round">2P<tspan font-size="5.4" dy="1.7">r</tspan><tspan dy="-1.7"> : 12.9</tspan></text><rect x="367.6" y="64.6" width="78.6" height="26" fill="#fff" /><line x1="371" y1="72" x2="385.5" y2="72" stroke="#000" stroke-width="1.5" /><circle cx="378.2" cy="72" r="1.4" fill="#fff" stroke="#000" stroke-width="0.8"/><line x1="371" y1="82.7" x2="385.5" y2="82.7" stroke="#ff0000" stroke-width="1.5" /><circle cx="378.2" cy="82.7" r="1.4" fill="#fff" stroke="#ff0000" stroke-width="0.8"/><text x="386.6" y="73.2" font-size="8.2" text-anchor="start" font-weight="bold" font-style="italic" fill="#000" stroke="#000" stroke-width="0.28" stroke-linejoin="round" >Initial Sweep</text><text x="386.6" y="84.6" font-size="8.2" font-weight="bold" font-style="italic" fill="#ff0000" stroke="#ff0000" stroke-width="0.28" stroke-linejoin="round">After 10<tspan font-size="5" dy="-3">4</tspan><tspan dy="3"> cycle</tspan></text><line x1="366.9" y1="60" x2="366.9" y2="91.4" stroke="#000" stroke-width="1.3" /><line x1="446.6" y1="60" x2="446.6" y2="91.4" stroke="#000" stroke-width="1.3" /><line x1="366.25" y1="91.4" x2="447.25" y2="91.4" stroke="#000" stroke-width="1.3" /><line x1="374.9" y1="91.4" x2="374.9" y2="89.8" stroke="#000" stroke-width="0.9" /><line x1="390.9" y1="91.4" x2="390.9" y2="89.8" stroke="#000" stroke-width="0.9" /><line x1="406.9" y1="91.4" x2="406.9" y2="89.8" stroke="#000" stroke-width="0.9" /><line x1="422.9" y1="91.4" x2="422.9" y2="89.8" stroke="#000" stroke-width="0.9" /><line x1="438.9" y1="91.4" x2="438.9" y2="89.8" stroke="#000" stroke-width="0.9" /><line x1="366.9" y1="49.7" x2="368.5" y2="49.7" stroke="#000" stroke-width="0.9" /><line x1="366.9" y1="63.3" x2="368.5" y2="63.3" stroke="#000" stroke-width="0.9" /><line x1="366.9" y1="76.9" x2="368.5" y2="76.9" stroke="#000" stroke-width="0.9" /><text transform="translate(10.8,78.8) rotate(-90)" font-size="9.6" font-weight="bold" font-style="italic" stroke="#000" stroke-width="0.28" stroke-linejoin="round">Polarization <tspan font-style="normal">[μC/cm<tspan font-size="6" dy="-3">2</tspan><tspan dy="3">]</tspan></tspan></text><text x="188.7" y="115" font-size="9.6" font-weight="bold" font-style="italic" stroke="#000" stroke-width="0.28" stroke-linejoin="round">Electric Field <tspan font-style="normal">[MV/cm]</tspan></text><line x1="30.2" y1="139.3" x2="157.2" y2="139.3" stroke="#000" stroke-width="1.3" /><line x1="30.2" y1="138.65" x2="30.2" y2="249.35" stroke="#000" stroke-width="1.3" /><line x1="157.2" y1="138.65" x2="157.2" y2="249.35" stroke="#000" stroke-width="1.3" /><line x1="29.55" y1="248.7" x2="157.85" y2="248.7" stroke="#000" stroke-width="1.3" /><text x="27.4" y="142.7" font-size="9.7" text-anchor="end" font-weight="bold" font-style="normal" fill="#000" stroke="#000" stroke-width="0.28" stroke-linejoin="round" >70</text><line x1="30.2" y1="156.87" x2="32" y2="156.87" stroke="#000" stroke-width="1" /><text x="27.4" y="160.27" font-size="9.7" text-anchor="end" font-weight="bold" font-style="normal" fill="#000" stroke="#000" stroke-width="0.28" stroke-linejoin="round" >60</text><line x1="30.2" y1="174.44" x2="32" y2="174.44" stroke="#000" stroke-width="1" /><text x="27.4" y="177.84" font-size="9.7" text-anchor="end" font-weight="bold" font-style="normal" fill="#000" stroke="#000" stroke-width="0.28" stroke-linejoin="round" >50</text><line x1="30.2" y1="192.01" x2="32" y2="192.01" stroke="#000" stroke-width="1" /><text x="27.4" y="195.41" font-size="9.7" text-anchor="end" font-weight="bold" font-style="normal" fill="#000" stroke="#000" stroke-width="0.28" stroke-linejoin="round" >40</text><line x1="30.2" y1="209.58" x2="32" y2="209.58" stroke="#000" stroke-width="1" /><text x="27.4" y="212.98" font-size="9.7" text-anchor="end" font-weight="bold" font-style="normal" fill="#000" stroke="#000" stroke-width="0.28" stroke-linejoin="round" >30</text><line x1="30.2" y1="227.15" x2="32" y2="227.15" stroke="#000" stroke-width="1" /><text x="27.4" y="230.55" font-size="9.7" text-anchor="end" font-weight="bold" font-style="normal" fill="#000" stroke="#000" stroke-width="0.28" stroke-linejoin="round" >20</text><line x1="30.2" y1="244.72" x2="32" y2="244.72" stroke="#000" stroke-width="1" /><text x="27.4" y="248.12" font-size="9.7" text-anchor="end" font-weight="bold" font-style="normal" fill="#000" stroke="#000" stroke-width="0.28" stroke-linejoin="round" >10</text><line x1="40.9" y1="248.7" x2="40.9" y2="247.3" stroke="#000" stroke-width="0.9" /><line x1="52.7" y1="248.7" x2="52.7" y2="247.3" stroke="#000" stroke-width="0.9" /><line x1="64.5" y1="248.7" x2="64.5" y2="247.3" stroke="#000" stroke-width="0.9" /><line x1="76.3" y1="248.7" x2="76.3" y2="247.3" stroke="#000" stroke-width="0.9" /><line x1="88.1" y1="248.7" x2="88.1" y2="247.3" stroke="#000" stroke-width="0.9" /><line x1="99.9" y1="248.7" x2="99.9" y2="247.3" stroke="#000" stroke-width="0.9" /><line x1="111.7" y1="248.7" x2="111.7" y2="247.3" stroke="#000" stroke-width="0.9" /><line x1="123.5" y1="248.7" x2="123.5" y2="247.3" stroke="#000" stroke-width="0.9" /><line x1="135.3" y1="248.7" x2="135.3" y2="247.3" stroke="#000" stroke-width="0.9" /><line x1="147.1" y1="248.7" x2="147.1" y2="247.3" stroke="#000" stroke-width="0.9" /><text x="93.4" y="134" font-size="12" text-anchor="middle" font-weight="bold" font-style="normal" fill="#000" stroke="#000" stroke-width="0.28" stroke-linejoin="round" >(f)</text><text transform="translate(12.0,216.3) rotate(-90)" font-size="10.2" font-weight="bold" stroke="#000" stroke-width="0.28" stroke-linejoin="round">2<tspan font-style="italic">P</tspan><tspan font-style="italic" font-size="6" dy="1.8">r</tspan><tspan dy="-1.8"> [μC/cm<tspan font-size="6" dy="-3">2</tspan><tspan dy="3">]</tspan></tspan></text><path d="M96.1,156.6 Q122.25,150.2 148.6,157.4 L144.7,170.1 Q122.35,166.9 101,170.1 Z" fill="#b2e0ee"/><path d="M95.5,155.6 Q121.85,149.45 150.0,156.3" fill="none" stroke="#141450" stroke-width="2.4"/><text x="145.3" y="157.2" font-size="3.4" text-anchor="middle" font-weight="bold" font-style="normal" fill="#e8e8ff" stroke="#e8e8ff" stroke-width="0.28" stroke-linejoin="round" transform="rotate(10 145.3 156.2)">HZO</text><text x="140.6" y="164.6" font-size="5.2" text-anchor="middle" font-weight="bold" font-style="italic" fill="#222" stroke="#222" stroke-width="0.28" stroke-linejoin="round" >Sub.</text><text x="123.5" y="149.8" font-size="6.1" text-anchor="middle" font-weight="bold" font-style="italic" fill="#1e78c8" stroke="#1e78c8" stroke-width="0.28" stroke-linejoin="round" >Compressive Stress</text><path d="M56,225.6 Q77.6,227.0 100,225.6 L103.6,236.6 Q77.4,245.4 51.6,236.6 Z" fill="#f8b4b4"/><path d="M55.5,224.4 Q77.7,226.1 100.3,224.4" fill="none" stroke="#141450" stroke-width="2.6"/><text x="95.6" y="225.8" font-size="3.4" text-anchor="middle" font-weight="bold" font-style="normal" fill="#e8e8ff" stroke="#e8e8ff" stroke-width="0.28" stroke-linejoin="round" >HZO</text><text x="94.9" y="236.2" font-size="5.2" text-anchor="middle" font-weight="bold" font-style="italic" fill="#222" stroke="#222" stroke-width="0.28" stroke-linejoin="round" >Sub.</text><text x="78.4" y="220.8" font-size="6.1" text-anchor="middle" font-weight="bold" font-style="italic" fill="#ff3030" stroke="#ff3030" stroke-width="0.28" stroke-linejoin="round" >Tensile Stress</text><g transform="translate(88.6,165) rotate(-17)"><path d="M0,-1.1 L4.8,-1.1 L4.8,-2.6 L8,0 L4.8,2.6 L4.8,1.1 L0,1.1 Z" fill="#f5c400" stroke="#7a6a30" stroke-width="0.45"/></g><g transform="translate(155.4,165.2) rotate(197)"><path d="M0,-1.1 L4.8,-1.1 L4.8,-2.6 L8,0 L4.8,2.6 L4.8,1.1 L0,1.1 Z" fill="#f5c400" stroke="#7a6a30" stroke-width="0.45"/></g><g transform="translate(53.6,228.6) rotate(200)"><path d="M0,-1.1 L4.8,-1.1 L4.8,-2.6 L8,0 L4.8,2.6 L4.8,1.1 L0,1.1 Z" fill="#f5c400" stroke="#7a6a30" stroke-width="0.45"/></g><g transform="translate(102.6,229.4) rotate(-20)"><path d="M0,-1.1 L4.8,-1.1 L4.8,-2.6 L8,0 L4.8,2.6 L4.8,1.1 L0,1.1 Z" fill="#f5c400" stroke="#7a6a30" stroke-width="0.45"/></g><polyline points="47.5,152.6 53.5,181.7 88,191.4 104,199.7 146.5,240.1" fill="none" stroke="#1010ff" stroke-width="1.6"/><rect x="43.2" y="148" width="8.6" height="9.2" fill="#fff"/><rect x="45.5" y="150.3" width="4.0" height="4.6" fill="#fff" stroke="#1010ff" stroke-width="1.7"/><text x="47.5" y="146.2" font-size="9.3" text-anchor="middle" font-weight="bold" font-style="normal" fill="#000" stroke="#000" stroke-width="0.28" stroke-linejoin="round" >W</text><rect x="49.2" y="177.1" width="8.6" height="9.2" fill="#fff"/><rect x="51.5" y="179.4" width="4.0" height="4.6" fill="#fff" stroke="#1010ff" stroke-width="1.7"/><text x="53.5" y="193.1" font-size="9.3" text-anchor="middle" font-weight="bold" font-style="normal" fill="#000" stroke="#000" stroke-width="0.28" stroke-linejoin="round" >Mo</text><rect x="83.7" y="186.8" width="8.6" height="9.2" fill="#fff"/><rect x="86" y="189.1" width="4.0" height="4.6" fill="#fff" stroke="#1010ff" stroke-width="1.7"/><text x="88" y="185" font-size="9.3" text-anchor="middle" font-weight="bold" font-style="normal" fill="#000" stroke="#000" stroke-width="0.28" stroke-linejoin="round" >Pt</text><rect x="99.7" y="195.1" width="8.6" height="9.2" fill="#fff"/><rect x="102" y="197.4" width="4.0" height="4.6" fill="#fff" stroke="#1010ff" stroke-width="1.7"/><text x="104" y="193.3" font-size="9.3" text-anchor="middle" font-weight="bold" font-style="normal" fill="#000" stroke="#000" stroke-width="0.28" stroke-linejoin="round" >TiN</text><rect x="142.2" y="235.5" width="8.6" height="9.2" fill="#fff"/><rect x="144.5" y="237.8" width="4.0" height="4.6" fill="#fff" stroke="#1010ff" stroke-width="1.7"/><text x="147" y="233.7" font-size="9.3" text-anchor="middle" font-weight="bold" font-style="normal" fill="#000" stroke="#000" stroke-width="0.28" stroke-linejoin="round" >Ni</text><path d="M198.5,234.37 L199,234.18 L199.5,234.4 L200,234.16 L200.5,234.51 L201,234.42 L201.5,234.55 L202,234.42 L202.5,234.68 L203,234.51 L203.5,234.67 L204,234.55 L204.5,234.56 L205,234.74 L205.5,234.54 L206,234.18 L206.5,234.29 L207,234.22 L207.5,233.81 L208,233.83 L208.5,234.02 L209,233.77 L209.5,233.65 L210,233.98 L210.5,234.27 L211,234.33 L211.5,234.41 L212,234.73 L212.5,234.86 L213,234.68 L213.5,234.82 L214,235.12 L214.5,235.04 L215,234.8 L215.5,234.92 L216,234.89 L216.5,234.91 L217,234.75 L217.5,234.79 L218,234.61 L218.5,234.3 L219,234.16 L219.5,234.47 L220,234.47 L220.5,234.84 L221,235.27 L221.5,235.37 L222,235.36 L222.5,235.65 L223,235.22 L223.5,235.2 L224,235.21 L224.5,234.87 L225,234.79 L225.5,234.98 L226,235.02 L226.5,234.86 L227,235.16 L227.5,235.18 L228,235.09 L228.5,235.07 L229,235.14 L229.5,235.24 L230,235.11 L230.5,235.44 L231,235.45 L231.5,235.45 L232,235.48 L232.5,235.77 L233,235.88 L233.5,235.51 L234,235.65 L234.5,235.58 L235,235.29 L235.5,234.73 L236,235.05 L236.5,234.53 L237,234.33 L237.5,234.29 L238,233.88 L238.5,233.27 L239,232.89 L239.5,232.45 L240,232.1 L240.5,232.34 L241,231.8 L241.5,231.69 L242,231.62 L242.5,231.59 L243,231.38 L243.5,231.71 L244,232.09 L244.5,232.29 L245,232.37 L245.5,232.58 L246,233.17 L246.5,233.57 L247,233.92 L247.5,234.25 L248,234.45 L248.5,234.55 L249,234.89 L249.5,235.03 L250,234.96 L250.5,235.47 L251,235.71 L251.5,235.91 L252,235.99 L252.5,236.17 L253,235.74 L253.5,235.87 L254,235.93 L254.5,235.76 L255,235.68 L255.5,235.93 L256,235.45 L256.5,234.81 L257,234.62 L257.5,234.41 L258,234.02 L258.5,233.56 L259,232.99 L259.5,232.05 L260,230.95 L260.5,229.11 L261,227.36 L261.5,225.65 L262,223.78 L262.5,221.84 L263,220.23 L263.5,218.6 L264,216.56 L264.5,214.86 L265,212.95 L265.5,211.15 L266,209.46 L266.5,208.17 L267,207.03 L267.5,206.46 L268,206.33 L268.5,206.45 L269,206.57 L269.5,206.71 L270,207.28 L270.5,208.09 L271,209.24 L271.5,210.66 L272,212.37 L272.5,213.96 L273,216.1 L273.5,217.99 L274,220.17 L274.5,222.59 L275,224.49 L275.5,226.03 L276,227.64 L276.5,228.93 L277,230 L277.5,231.31 L278,232.24 L278.5,232.73 L279,233.26 L279.5,233.58 L280,233.98 L280.5,234.21 L281,234.8 L281.5,235.16 L282,235.48 L282.5,235.63 L283,235.81 L283.5,235.72 L284,235.62 L284.5,235.61 L285,235.74 L285.5,235.84 L286,236.12 L286.5,236.04 L287,236.37 L287.5,236.29 L288,236.27 L288.5,236.25 L289,236.47 L289.5,236.48 L290,236.61 L290.5,236.65 L291,236.65 L291.5,237.05 L292,237.11 L292.5,237.11 L293,237.38 L293.5,237.36 L294,237.54 L294.5,237.38 L295,237.74 L295.5,237.92 L296,238.03 L296.5,237.88 L297,238.38 L297.5,238.47 L298,238.52 L298.5,239 L299,239.07 L299.5,239.05 L300,239.04 L300.5,239.19 L301,238.98 L301.5,239.17 L302,239.12 L302.5,239.05 L303,239.1 L303.5,239.61 L304,239.73 L304.5,239.81 L305,240.19 L305.5,240.14 L306,239.94 L306.5,239.88 L307,239.67 L307.5,239.68 L308,239.67 L308.5,239.66 L309,239.5 L309.5,239.71" fill="none" stroke="#ff3b3b" stroke-width="1.45"/><path d="M198.5,228.4 L199,228.08 L199.5,227.95 L200,227.86 L200.5,228.06 L201,228.25 L201.5,228.16 L202,228.21 L202.5,227.9 L203,228.2 L203.5,228.27 L204,228.75 L204.5,228.72 L205,228.97 L205.5,228.8 L206,228.61 L206.5,228.38 L207,228.38 L207.5,228.19 L208,227.99 L208.5,228.01 L209,227.98 L209.5,228.13 L210,227.98 L210.5,228.22 L211,228.17 L211.5,228.21 L212,227.87 L212.5,228.11 L213,227.95 L213.5,228.09 L214,228.1 L214.5,228.34 L215,228.67 L215.5,228.78 L216,228.66 L216.5,228.91 L217,228.88 L217.5,228.69 L218,228.73 L218.5,228.77 L219,228.31 L219.5,228.28 L220,228.28 L220.5,228.13 L221,228.27 L221.5,228.75 L222,228.73 L222.5,228.84 L223,229.18 L223.5,229.29 L224,229.33 L224.5,229.6 L225,229.77 L225.5,229.55 L226,229.38 L226.5,229.3 L227,228.98 L227.5,228.37 L228,228.2 L228.5,228.27 L229,228.26 L229.5,228.16 L230,228.12 L230.5,228.22 L231,228.13 L231.5,228.05 L232,228.41 L232.5,228.92 L233,229 L233.5,229.12 L234,228.94 L234.5,228.61 L235,228.41 L235.5,228.42 L236,228.36 L236.5,228.53 L237,228.72 L237.5,228.66 L238,228.1 L238.5,227.69 L239,227.49 L239.5,227.28 L240,226.72 L240.5,227.03 L241,226.95 L241.5,226.74 L242,226.65 L242.5,227.03 L243,226.68 L243.5,227.04 L244,227.26 L244.5,227.31 L245,227.39 L245.5,227.54 L246,227.54 L246.5,227.82 L247,228.08 L247.5,228.3 L248,228.83 L248.5,229.12 L249,229.4 L249.5,229.64 L250,229.76 L250.5,229.95 L251,230.34 L251.5,230.17 L252,230.28 L252.5,230.07 L253,230.17 L253.5,229.86 L254,230 L254.5,229.7 L255,229.47 L255.5,228.94 L256,228.34 L256.5,227.16 L257,225.86 L257.5,224.75 L258,222.91 L258.5,221.2 L259,218.87 L259.5,216.31 L260,213.18 L260.5,209.61 L261,205.49 L261.5,202.17 L262,198.49 L262.5,194.73 L263,191.27 L263.5,188.27 L264,185.23 L264.5,182.86 L265,180.96 L265.5,179.81 L266,178.89 L266.5,178.26 L267,178.28 L267.5,178.18 L268,178.43 L268.5,179.24 L269,180.71 L269.5,182.28 L270,184.99 L270.5,188.11 L271,191.32 L271.5,194.73 L272,198.58 L272.5,202.2 L273,205.43 L273.5,208.79 L274,212.24 L274.5,214.94 L275,217.62 L275.5,220.15 L276,222.12 L276.5,223.52 L277,225.19 L277.5,226.43 L278,227.51 L278.5,228.19 L279,228.92 L279.5,229.43 L280,229.9 L280.5,230.25 L281,230.85 L281.5,231.26 L282,231.49 L282.5,231.35 L283,231.38 L283.5,231.24 L284,230.79 L284.5,230.49 L285,231.05 L285.5,230.96 L286,230.81 L286.5,231.19 L287,231.8 L287.5,231.54 L288,231.88 L288.5,232.28 L289,232.45 L289.5,232.49 L290,232.71 L290.5,232.71 L291,232.98 L291.5,233.25 L292,233.08 L292.5,233.07 L293,233.2 L293.5,233.03 L294,233.11 L294.5,233.19 L295,233.12 L295.5,232.88 L296,232.86 L296.5,232.99 L297,232.9 L297.5,233.14 L298,233.42 L298.5,233.77 L299,233.69 L299.5,233.81 L300,233.76 L300.5,233.9 L301,233.9 L301.5,233.86 L302,234 L302.5,234.21 L303,234.47 L303.5,234.6 L304,234.55 L304.5,234.72 L305,234.69 L305.5,234.61 L306,234.88 L306.5,235.03 L307,235.02 L307.5,234.93 L308,234.86 L308.5,234.53 L309,234.88 L309.5,234.99" fill="none" stroke="#ff8c28" stroke-width="1.45"/><path d="M194,222.54 L194.5,222.41 L195,222.33 L195.5,222.23 L196,222.25 L196.5,221.92 L197,221.89 L197.5,222.11 L198,222.15 L198.5,222.02 L199,222.03 L199.5,221.8 L200,221.97 L200.5,221.84 L201,222.15 L201.5,222.3 L202,222.93 L202.5,222.92 L203,223.03 L203.5,223.07 L204,222.87 L204.5,222.77 L205,222.3 L205.5,222.32 L206,222.27 L206.5,222.48 L207,222.24 L207.5,222.37 L208,222.27 L208.5,222.29 L209,222.41 L209.5,222.45 L210,222.4 L210.5,222.58 L211,222.19 L211.5,221.98 L212,221.92 L212.5,222.26 L213,222.21 L213.5,222.54 L214,222.69 L214.5,222.71 L215,222.7 L215.5,222.91 L216,222.84 L216.5,222.92 L217,223.03 L217.5,223.13 L218,223.02 L218.5,223.19 L219,223.16 L219.5,223.47 L220,223.26 L220.5,223.12 L221,222.9 L221.5,222.96 L222,222.61 L222.5,222.58 L223,222.77 L223.5,223.07 L224,223.08 L224.5,222.77 L225,222.74 L225.5,222.46 L226,222.1 L226.5,221.96 L227,222.7 L227.5,222.83 L228,222.9 L228.5,223.23 L229,223.32 L229.5,223.07 L230,223.02 L230.5,223.16 L231,223.13 L231.5,222.83 L232,222.56 L232.5,222.86 L233,223.01 L233.5,222.86 L234,223 L234.5,223.22 L235,222.83 L235.5,222.6 L236,222.9 L236.5,223.01 L237,223.14 L237.5,223.18 L238,223.16 L238.5,222.99 L239,222.61 L239.5,222.21 L240,222.08 L240.5,221.94 L241,221.86 L241.5,222.12 L242,221.9 L242.5,221.9 L243,221.78 L243.5,221.49 L244,221.86 L244.5,222.12 L245,222.42 L245.5,222.68 L246,223.19 L246.5,223.15 L247,223.56 L247.5,223.7 L248,224.18 L248.5,224.04 L249,224 L249.5,223.91 L250,224.23 L250.5,224.07 L251,224.11 L251.5,224.2 L252,224.81 L252.5,224.57 L253,224.71 L253.5,224.88 L254,224.81 L254.5,224.08 L255,223.73 L255.5,223.08 L256,222.03 L256.5,221.64 L257,220.84 L257.5,219.57 L258,217.94 L258.5,216.19 L259,213.58 L259.5,210.72 L260,207.78 L260.5,204.3 L261,200.98 L261.5,197.5 L262,193.79 L262.5,190.2 L263,186.96 L263.5,183.87 L264,180.87 L264.5,178.53 L265,176.39 L265.5,175.04 L266,173.99 L266.5,173.3 L267,173.32 L267.5,173.66 L268,173.96 L268.5,174.84 L269,176.77 L269.5,178.66 L270,180.89 L270.5,184.13 L271,187.12 L271.5,189.55 L272,192.59 L272.5,195.88 L273,199.05 L273.5,202.7 L274,205.98 L274.5,209.45 L275,212.19 L275.5,214.56 L276,216.53 L276.5,218.69 L277,219.96 L277.5,221.37 L278,222.09 L278.5,222.82 L279,223.5 L279.5,224.11 L280,224.86 L280.5,225.51 L281,225.8 L281.5,226.09 L282,226.13 L282.5,225.65 L283,225.26 L283.5,225.47 L284,225.42 L284.5,225.63 L285,225.9 L285.5,226.42 L286,226.63 L286.5,226.7 L287,226.48 L287.5,226.57 L288,226.83 L288.5,226.45 L289,226.08 L289.5,225.98 L290,225.93 L290.5,225.93 L291,226.21 L291.5,226.6 L292,226.85 L292.5,227.14 L293,227.08 L293.5,227.06 L294,227.23 L294.5,227.4 L295,227.79 L295.5,227.52 L296,227.71 L296.5,227.67" fill="none" stroke="#7ee000" stroke-width="1.45"/><path d="M193,215.62 L193.5,215.97 L194,216.63 L194.5,216.55 L195,216.79 L195.5,216.66 L196,216.65 L196.5,216.94 L197,217.08 L197.5,216.68 L198,216.75 L198.5,216.76 L199,215.99 L199.5,215.91 L200,216.18 L200.5,216.31 L201,216.23 L201.5,216.65 L202,216.84 L202.5,216.6 L203,216.67 L203.5,216.46 L204,216.51 L204.5,216.34 L205,216.46 L205.5,216.38 L206,216.5 L206.5,216.4 L207,216.36 L207.5,216.41 L208,216.42 L208.5,216.74 L209,216.58 L209.5,217.02 L210,216.82 L210.5,217.06 L211,217.07 L211.5,217.09 L212,216.89 L212.5,216.87 L213,216.72 L213.5,216.83 L214,217.13 L214.5,217.27 L215,217.18 L215.5,217.16 L216,217 L216.5,217.08 L217,216.82 L217.5,217.11 L218,217.16 L218.5,216.87 L219,216.54 L219.5,216.73 L220,216.46 L220.5,216.2 L221,216.61 L221.5,216.83 L222,216.74 L222.5,216.96 L223,217.1 L223.5,216.89 L224,216.78 L224.5,216.89 L225,217.1 L225.5,217.11 L226,217.19 L226.5,217.25 L227,216.99 L227.5,216.83 L228,217.06 L228.5,216.95 L229,217.14 L229.5,217.26 L230,217.42 L230.5,217.49 L231,217.57 L231.5,217.13 L232,217.17 L232.5,216.77 L233,216.37 L233.5,216.39 L234,216.94 L234.5,216.97 L235,217.15 L235.5,217.03 L236,216.94 L236.5,216.44 L237,216.48 L237.5,216.35 L238,216.55 L238.5,216.58 L239,216.71 L239.5,216.71 L240,216.81 L240.5,216.7 L241,216.69 L241.5,216.79 L242,216.87 L242.5,216.86 L243,217.22 L243.5,217.21 L244,217.23 L244.5,216.93 L245,217.22 L245.5,217.01 L246,217.13 L246.5,217.5 L247,217.84 L247.5,217.75 L248,218.23 L248.5,218.5 L249,218.64 L249.5,218.77 L250,219.1 L250.5,219.21 L251,219.32 L251.5,219.48 L252,219.49 L252.5,219.32 L253,219.12 L253.5,219.18 L254,218.7 L254.5,218.48 L255,218.24 L255.5,217.99 L256,217.16 L256.5,216.2 L257,215.22 L257.5,213.97 L258,212.08 L258.5,210.24 L259,207.88 L259.5,205.31 L260,202.31 L260.5,199.32 L261,195.95 L261.5,192.85 L262,189.1 L262.5,185.67 L263,181.94 L263.5,178.69 L264,175.99 L264.5,173.96 L265,171.7 L265.5,170.71 L266,169.87 L266.5,169.17 L267,169.01 L267.5,169.49 L268,170.09 L268.5,170.79 L269,172.15 L269.5,173.85 L270,175.73 L270.5,178.28 L271,181.73 L271.5,184.89 L272,188.32 L272.5,192 L273,195.26 L273.5,198.15 L274,201.5 L274.5,204.12 L275,206.97 L275.5,209.27 L276,211.74 L276.5,213.01 L277,214.58 L277.5,215.28 L278,216.11 L278.5,216.51 L279,217.19 L279.5,217.41 L280,217.68 L280.5,218 L281,218.34 L281.5,218.85 L282,219.22 L282.5,219.49 L283,219.53 L283.5,219.19 L284,218.86 L284.5,219.14 L285,219.35 L285.5,219.56 L286,219.86 L286.5,220.42 L287,220.58 L287.5,220.59 L288,220.57 L288.5,220.6 L289,220.69 L289.5,220.74 L290,220.91 L290.5,221.43 L291,221.63 L291.5,221.3 L292,220.85 L292.5,220.96 L293,220.72 L293.5,220.7 L294,221.03 L294.5,221.63 L295,221.72 L295.5,221.88 L296,222.33 L296.5,222.42" fill="none" stroke="#a040ff" stroke-width="1.45"/><path d="M183.5,209.26 L184,209.39 L184.5,209.41 L185,209.7 L185.5,209.71 L186,209.89 L186.5,209.79 L187,209.95 L187.5,209.69 L188,209.83 L188.5,210.04 L189,210.3 L189.5,210.4 L190,210.35 L190.5,209.91 L191,209.6 L191.5,209.39 L192,209.43 L192.5,209.72 L193,209.9 L193.5,210.2 L194,210.06 L194.5,209.91 L195,209.34 L195.5,209.59 L196,209.49 L196.5,209.64 L197,209.81 L197.5,210.27 L198,209.96 L198.5,210.36 L199,210.52 L199.5,210.56 L200,210.43 L200.5,210.41 L201,209.93 L201.5,209.81 L202,209.78 L202.5,209.8 L203,210.39 L203.5,210.73 L204,210.96 L204.5,211.11 L205,211.08 L205.5,210.98 L206,211.03 L206.5,210.69 L207,210.7 L207.5,211.07 L208,211.1 L208.5,211.23 L209,211.24 L209.5,211.11 L210,210.88 L210.5,210.76 L211,210.63 L211.5,211.08 L212,211.27 L212.5,211.25 L213,211.42 L213.5,211.7 L214,211.59 L214.5,211.26 L215,211.32 L215.5,211.17 L216,210.68 L216.5,210.64 L217,210.7 L217.5,210.97 L218,211.14 L218.5,211.42 L219,211.27 L219.5,211.55 L220,211.35 L220.5,211.16 L221,211.38 L221.5,211.49 L222,211.25 L222.5,211.51 L223,211.94 L223.5,212.05 L224,212.33 L224.5,212.92 L225,212.77 L225.5,212.86 L226,212.97 L226.5,212.82 L227,212.58 L227.5,212.46 L228,211.97 L228.5,211.75 L229,211.65 L229.5,211.65 L230,211.96 L230.5,212.18 L231,212.28 L231.5,212.81 L232,212.84 L232.5,212.96 L233,213.21 L233.5,213.01 L234,212.62 L234.5,212.22 L235,212.15 L235.5,212.1 L236,212.27 L236.5,212.73 L237,213.39 L237.5,213.46 L238,213.3 L238.5,213.09 L239,212.77 L239.5,212.61 L240,212.48 L240.5,212.44 L241,212.53 L241.5,212.64 L242,212.31 L242.5,212.3 L243,212.4 L243.5,212.61 L244,212.67 L244.5,212.96 L245,212.98 L245.5,212.84 L246,212.97 L246.5,213.02 L247,213.15 L247.5,213.18 L248,213.24 L248.5,213.29 L249,213.24 L249.5,213.32 L250,213.77 L250.5,213.73 L251,213.44 L251.5,213.51 L252,213.53 L252.5,213.05 L253,213.22 L253.5,213.13 L254,212.79 L254.5,212.48 L255,212.29 L255.5,211.97 L256,211.45 L256.5,210.86 L257,209.47 L257.5,208.03 L258,205.8 L258.5,203.28 L259,200.32 L259.5,197.73 L260,194.55 L260.5,191.1 L261,187.99 L261.5,184.67 L262,180.82 L262.5,177.14 L263,174 L263.5,170.5 L264,168.03 L264.5,165.75 L265,164.03 L265.5,162.77 L266,162.16 L266.5,161.36 L267,161.52 L267.5,161.61 L268,162.13 L268.5,163.17 L269,164.97 L269.5,166.75 L270,169.22 L270.5,172.27 L271,175.35 L271.5,178.54 L272,182.35 L272.5,186.11 L273,189.54 L273.5,193.3 L274,196.4 L274.5,199.01 L275,201.2 L275.5,203.42 L276,205.18 L276.5,206.74 L277,208.47 L277.5,209.98 L278,210.97 L278.5,211.34 L279,212.02 L279.5,212.17 L280,211.98 L280.5,212.06 L281,212.4 L281.5,212.22 L282,212.36 L282.5,213.17 L283,213.42 L283.5,213.44 L284,213.8 L284.5,214.01 L285,213.65 L285.5,213.69 L286,213.93 L286.5,214.11 L287,214.29 L287.5,214.28 L288,214.51 L288.5,214.64 L289,214.69 L289.5,214.24 L290,214.63 L290.5,214.46 L291,214.03 L291.5,213.91 L292,214.07 L292.5,213.94 L293,213.99 L293.5,214.41 L294,214.97 L294.5,215.42 L295,215.65 L295.5,216.06 L296,216.62 L296.5,216.53 L297,216.22 L297.5,216.37 L298,216.45 L298.5,216.02 L299,216.01 L299.5,216.45 L300,216.66 L300.5,216.64 L301,216.93" fill="none" stroke="#1030ff" stroke-width="1.45"/><line x1="242.3" y1="205" x2="242.3" y2="248.3" stroke="#000" stroke-width="1.1" stroke-dasharray="3,2"/><line x1="266.9" y1="163" x2="266.9" y2="248.3" stroke="#000" stroke-width="1.1" stroke-dasharray="3,2"/><line x1="183.1" y1="139" x2="311.4" y2="139" stroke="#000" stroke-width="1.3" /><line x1="183.1" y1="138.35" x2="183.1" y2="248.95" stroke="#000" stroke-width="1.3" /><line x1="311.4" y1="138.35" x2="311.4" y2="248.95" stroke="#000" stroke-width="1.3" /><line x1="182.45" y1="248.3" x2="312.05" y2="248.3" stroke="#000" stroke-width="1.3" /><line x1="183.1" y1="144" x2="184.6" y2="144" stroke="#000" stroke-width="0.9" /><line x1="183.1" y1="155.3" x2="184.6" y2="155.3" stroke="#000" stroke-width="0.9" /><line x1="183.1" y1="166.6" x2="184.6" y2="166.6" stroke="#000" stroke-width="0.9" /><line x1="183.1" y1="177.9" x2="184.6" y2="177.9" stroke="#000" stroke-width="0.9" /><line x1="183.1" y1="189.2" x2="184.6" y2="189.2" stroke="#000" stroke-width="0.9" /><line x1="183.1" y1="200.5" x2="184.6" y2="200.5" stroke="#000" stroke-width="0.9" /><line x1="183.1" y1="211.8" x2="184.6" y2="211.8" stroke="#000" stroke-width="0.9" /><line x1="183.1" y1="223.1" x2="184.6" y2="223.1" stroke="#000" stroke-width="0.9" /><line x1="183.1" y1="234.4" x2="184.6" y2="234.4" stroke="#000" stroke-width="0.9" /><line x1="183.1" y1="245.7" x2="184.6" y2="245.7" stroke="#000" stroke-width="0.9" /><line x1="208.1" y1="248.3" x2="208.1" y2="246.8" stroke="#000" stroke-width="0.9" /><line x1="235.5" y1="248.3" x2="235.5" y2="246.8" stroke="#000" stroke-width="0.9" /><line x1="260.1" y1="248.3" x2="260.1" y2="246.8" stroke="#000" stroke-width="0.9" /><line x1="285.8" y1="248.3" x2="285.8" y2="246.8" stroke="#000" stroke-width="0.9" /><text x="249.3" y="135.1" font-size="12" text-anchor="middle" font-weight="bold" font-style="normal" fill="#000" stroke="#000" stroke-width="0.28" stroke-linejoin="round" >(g)</text><text x="184.5" y="257.6" font-size="9" text-anchor="middle" font-weight="bold" font-style="normal" fill="#444" stroke="#444" stroke-width="0.28" stroke-linejoin="round" >28</text><text x="211" y="257.6" font-size="9" text-anchor="middle" font-weight="bold" font-style="normal" fill="#444" stroke="#444" stroke-width="0.28" stroke-linejoin="round" >29</text><text x="235" y="257.6" font-size="9" text-anchor="middle" font-weight="bold" font-style="normal" fill="#444" stroke="#444" stroke-width="0.28" stroke-linejoin="round" >30</text><text x="259.5" y="257.6" font-size="9" text-anchor="middle" font-weight="bold" font-style="normal" fill="#444" stroke="#444" stroke-width="0.28" stroke-linejoin="round" >31</text><text x="283.6" y="257.6" font-size="9" text-anchor="middle" font-weight="bold" font-style="normal" fill="#444" stroke="#444" stroke-width="0.28" stroke-linejoin="round" >32</text><text x="312" y="257.6" font-size="9" text-anchor="middle" font-weight="bold" font-style="normal" fill="#444" stroke="#444" stroke-width="0.28" stroke-linejoin="round" >33</text><text transform="translate(174.9,223.3) rotate(-90)" font-size="9.75" font-weight="bold" font-style="italic" stroke="#000" stroke-width="0.28" stroke-linejoin="round">Intensity <tspan font-style="normal">[a.u.]</tspan></text><rect x="201" y="143.1" width="58" height="50.6" fill="#fff" stroke="#000" stroke-width="1.2"/><text x="199.6" y="144.7" font-size="5.3" text-anchor="end" font-weight="normal" font-style="normal" fill="#111" stroke="#111" stroke-width="0.1" stroke-linejoin="round" >30.7</text><line x1="201" y1="142.8" x2="202.2" y2="142.8" stroke="#000" stroke-width="0.7" /><text x="199.6" y="161.7" font-size="5.3" text-anchor="end" font-weight="normal" font-style="normal" fill="#111" stroke="#111" stroke-width="0.1" stroke-linejoin="round" >30.6</text><line x1="201" y1="159.8" x2="202.2" y2="159.8" stroke="#000" stroke-width="0.7" /><text x="199.6" y="178.7" font-size="5.3" text-anchor="end" font-weight="normal" font-style="normal" fill="#111" stroke="#111" stroke-width="0.1" stroke-linejoin="round" >30.5</text><line x1="201" y1="176.8" x2="202.2" y2="176.8" stroke="#000" stroke-width="0.7" /><text x="199.6" y="195.7" font-size="5.3" text-anchor="end" font-weight="normal" font-style="normal" fill="#111" stroke="#111" stroke-width="0.1" stroke-linejoin="round" >30.4</text><line x1="201" y1="193.8" x2="202.2" y2="193.8" stroke="#000" stroke-width="0.7" /><line x1="206.4" y1="193.7" x2="206.4" y2="192.5" stroke="#000" stroke-width="0.7" /><line x1="218.9" y1="193.7" x2="218.9" y2="192.5" stroke="#000" stroke-width="0.7" /><line x1="230.2" y1="193.7" x2="230.2" y2="192.5" stroke="#000" stroke-width="0.7" /><line x1="241.4" y1="193.7" x2="241.4" y2="192.5" stroke="#000" stroke-width="0.7" /><line x1="252.9" y1="193.7" x2="252.9" y2="192.5" stroke="#000" stroke-width="0.7" /><text x="205.0" y="149.4" font-size="5.3" font-weight="bold" font-style="italic" stroke="#000" stroke-width="0.08">Peak Position<tspan font-weight="normal" font-style="normal"> (deg.)</tspan></text><polyline points="206.4,185.7 218.9,173.7 230,163.5 241.4,162.2 252.9,156.4" fill="none" stroke="#ff1a1a" stroke-width="1.25"/><circle cx="206.4" cy="185.7" r="1.85" fill="#fff" stroke="#ff1a1a" stroke-width="1.4"/><circle cx="218.9" cy="173.7" r="1.85" fill="#fff" stroke="#ff1a1a" stroke-width="1.4"/><circle cx="230" cy="163.5" r="1.85" fill="#fff" stroke="#ff1a1a" stroke-width="1.4"/><circle cx="241.4" cy="162.2" r="1.85" fill="#fff" stroke="#ff1a1a" stroke-width="1.4"/><circle cx="252.9" cy="156.4" r="1.85" fill="#fff" stroke="#ff1a1a" stroke-width="1.4"/><text x="206.4" y="183.8" font-size="6.5" text-anchor="middle" font-weight="normal" font-style="normal" fill="#000" stroke="#000" stroke-width="0.15" stroke-linejoin="round" >W</text><text x="217.9" y="171" font-size="6.5" text-anchor="middle" font-weight="normal" font-style="normal" fill="#000" stroke="#000" stroke-width="0.15" stroke-linejoin="round" >Mo</text><text x="230.1" y="159.4" font-size="6.5" text-anchor="middle" font-weight="normal" font-style="normal" fill="#000" stroke="#000" stroke-width="0.15" stroke-linejoin="round" >Pt</text><text x="242.6" y="170.2" font-size="6.4" text-anchor="middle" font-weight="normal" font-style="normal" fill="#000" stroke="#000" stroke-width="0.15" stroke-linejoin="round" >TiN</text><text x="252.7" y="164.9" font-size="6.5" text-anchor="middle" font-weight="normal" font-style="normal" fill="#000" stroke="#000" stroke-width="0.15" stroke-linejoin="round" >Ni</text><text x="230.0" y="202.4" font-size="6.1" text-anchor="middle" font-weight="bold" font-style="italic" fill="#111" stroke="#111" stroke-width="0.1">2θ[degree]</text><rect x="207.6" y="206.1" width="29.8" height="10.9" fill="#30e0f0" /><text x="222.4" y="214.8" font-size="8.3" text-anchor="middle" font-weight="bold" font-style="italic" fill="#000" stroke="#000" stroke-width="0.28" stroke-linejoin="round" >m(-111)</text><rect x="261.1" y="143.5" width="48.8" height="12.1" fill="#ffff10" /><text x="285.5" y="153.2" font-size="8.4" text-anchor="middle" font-weight="bold" font-style="italic" fill="#000" stroke="#000" stroke-width="0.28" stroke-linejoin="round" >o(111)/t(011)</text><text x="184.6" y="222.5" font-size="8.1" text-anchor="start" font-weight="bold" font-style="normal" fill="#30cc20" stroke="#30cc20" stroke-width="0.28" stroke-linejoin="round" >Pt</text><text x="184.6" y="232" font-size="8.1" text-anchor="start" font-weight="bold" font-style="normal" fill="#ff8a38" stroke="#ff8a38" stroke-width="0.28" stroke-linejoin="round" >TiN</text><text x="184.9" y="242.6" font-size="8.1" text-anchor="start" font-weight="bold" font-style="normal" fill="#ff3a3a" stroke="#ff3a3a" stroke-width="0.28" stroke-linejoin="round" >Ni</text><text x="302.9" y="215.7" font-size="7.7" text-anchor="start" font-weight="bold" font-style="normal" fill="#2030ff" stroke="#2030ff" stroke-width="0.28" stroke-linejoin="round" >W</text><text x="299.1" y="225.7" font-size="7.7" text-anchor="start" font-weight="bold" font-style="normal" fill="#9a3cff" stroke="#9a3cff" stroke-width="0.28" stroke-linejoin="round" >Mo</text><rect x="353.6" y="140.4" width="92.4" height="22" fill="#d4f6fc" /><rect x="353.6" y="162.4" width="92.4" height="87.2" fill="#fcdcdc" /><line x1="353.6" y1="162.4" x2="446" y2="162.4" stroke="#000" stroke-width="1.1" stroke-dasharray="2.6,1.6"/><line x1="353.6" y1="140.4" x2="446" y2="140.4" stroke="#000" stroke-width="1.3" /><line x1="353.6" y1="139.75" x2="353.6" y2="250.25" stroke="#000" stroke-width="1.3" /><line x1="446" y1="139.75" x2="446" y2="250.25" stroke="#000" stroke-width="1.3" /><line x1="352.95" y1="249.6" x2="446.65" y2="249.6" stroke="#000" stroke-width="1.3" /><text transform="translate(350.8,143.6) scale(1,1.08)" font-size="9.6" text-anchor="end" font-weight="bold" stroke="#000" stroke-width="0.28" stroke-linejoin="round">200</text><line x1="353.6" y1="162.4" x2="355.2" y2="162.4" stroke="#000" stroke-width="1" /><text transform="translate(350.8,165.5) scale(1,1.08)" font-size="9.6" text-anchor="end" font-weight="bold" stroke="#000" stroke-width="0.28" stroke-linejoin="round">0</text><line x1="353.6" y1="184.3" x2="355.2" y2="184.3" stroke="#000" stroke-width="1" /><text transform="translate(350.8,187.4) scale(1,1.08)" font-size="9.6" text-anchor="end" font-weight="bold" stroke="#000" stroke-width="0.28" stroke-linejoin="round">-200</text><line x1="353.6" y1="206.2" x2="355.2" y2="206.2" stroke="#000" stroke-width="1" /><text transform="translate(350.8,209.3) scale(1,1.08)" font-size="9.6" text-anchor="end" font-weight="bold" stroke="#000" stroke-width="0.28" stroke-linejoin="round">-400</text><line x1="353.6" y1="228.1" x2="355.2" y2="228.1" stroke="#000" stroke-width="1" /><text transform="translate(350.8,231.2) scale(1,1.08)" font-size="9.6" text-anchor="end" font-weight="bold" stroke="#000" stroke-width="0.28" stroke-linejoin="round">-600</text><text transform="translate(350.8,253.1) scale(1,1.08)" font-size="9.6" text-anchor="end" font-weight="bold" stroke="#000" stroke-width="0.28" stroke-linejoin="round">-800</text><line x1="362.8" y1="249.6" x2="362.8" y2="248" stroke="#000" stroke-width="1" /><line x1="381.3" y1="249.6" x2="381.3" y2="248" stroke="#000" stroke-width="1" /><line x1="399.8" y1="249.6" x2="399.8" y2="248" stroke="#000" stroke-width="1" /><line x1="418.2" y1="249.6" x2="418.2" y2="248" stroke="#000" stroke-width="1" /><line x1="436.7" y1="249.6" x2="436.7" y2="248" stroke="#000" stroke-width="1" /><text x="401.6" y="133.6" font-size="12" text-anchor="middle" font-weight="bold" font-style="normal" fill="#000" stroke="#000" stroke-width="0.28" stroke-linejoin="round" >(h)</text><text transform="translate(327.6,240.6) rotate(-90)" font-size="9.85" font-weight="bold" font-style="italic" stroke="#000" stroke-width="0.28" stroke-linejoin="round">Residual Stress <tspan font-style="normal">[MPa]</tspan></text><line x1="359.3" y1="160.8" x2="359.3" y2="148" stroke="#1010ff" stroke-width="1.6" /><path d="M356.6,149.4 L359.3,143.6 L362.0,149.4 Z" fill="#1010ff"/><line x1="359.3" y1="163.8" x2="359.3" y2="174" stroke="#ff1010" stroke-width="1.6" /><path d="M356.6,172.6 L359.3,178.5 L362.0,172.6 Z" fill="#ff1010"/><text x="366.2" y="154.9" font-size="8.05" text-anchor="start" font-weight="bold" font-style="normal" fill="#1a1aff" stroke="#1a1aff" stroke-width="0.28" stroke-linejoin="round" >Compressive stress</text><text x="367.4" y="174.5" font-size="8.0" text-anchor="start" font-weight="bold" font-style="normal" fill="#ff2020" stroke="#ff2020" stroke-width="0.28" stroke-linejoin="round" >Tensile stress</text><polyline points="362.8,236.3 381.3,217.1 399.4,200.9 418,194.9 436.9,172.9" fill="none" stroke="#000" stroke-width="1.5"/><circle cx="362.8" cy="236.3" r="4.4" fill="#fff"/><circle cx="362.8" cy="236.3" r="2.45" fill="#fff" stroke="#000" stroke-width="2.1"/><circle cx="381.3" cy="217.1" r="4.4" fill="#fff"/><circle cx="381.3" cy="217.1" r="2.45" fill="#fff" stroke="#000" stroke-width="2.1"/><circle cx="399.4" cy="200.9" r="4.4" fill="#fff"/><circle cx="399.4" cy="200.9" r="2.45" fill="#fff" stroke="#000" stroke-width="2.1"/><circle cx="418" cy="194.9" r="4.4" fill="#fff"/><circle cx="418" cy="194.9" r="2.45" fill="#fff" stroke="#000" stroke-width="2.1"/><circle cx="436.9" cy="172.9" r="4.4" fill="#fff"/><circle cx="436.9" cy="172.9" r="2.45" fill="#fff" stroke="#000" stroke-width="2.1"/></svg></body></html>
